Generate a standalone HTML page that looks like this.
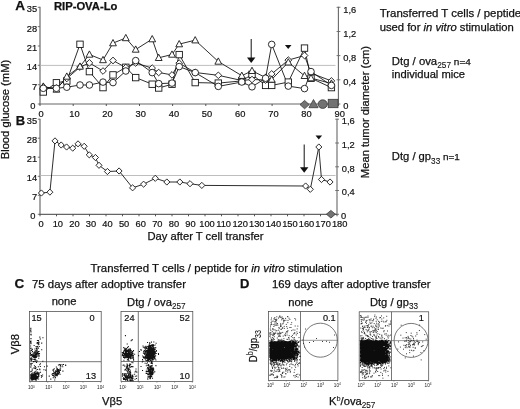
<!DOCTYPE html>
<html><head><meta charset="utf-8"><title>Figure</title>
<style>html,body{margin:0;padding:0;background:#fff}svg{display:block}</style></head>
<body><svg width="520" height="409" viewBox="0 0 520 409">
<rect width="520" height="409" fill="#fff"/>
<path d="M40.0 6.8V104.0" fill="none" stroke="#777" stroke-width="1.3"/>
<path d="M37.8 104.0H40.0" stroke="#666" stroke-width="0.9"/>
<path d="M37.8 84.7H40.0" stroke="#666" stroke-width="0.9"/>
<path d="M37.8 65.3H40.0" stroke="#666" stroke-width="0.9"/>
<path d="M37.8 46.0H40.0" stroke="#666" stroke-width="0.9"/>
<path d="M37.8 26.6H40.0" stroke="#666" stroke-width="0.9"/>
<path d="M37.8 7.3H40.0" stroke="#666" stroke-width="0.9"/>
<path d="M39.4 104.0H338.4" fill="none" stroke="#666" stroke-width="1.2"/>
<path d="M338.4 6.8V104.0" fill="none" stroke="#676767" stroke-width="1.1"/>
<path d="M336.59999999999997 104.0h3.8" stroke="#676767" stroke-width="0.9"/>
<path d="M336.59999999999997 79.8h3.8" stroke="#676767" stroke-width="0.9"/>
<path d="M336.59999999999997 55.6h3.8" stroke="#676767" stroke-width="0.9"/>
<path d="M336.59999999999997 31.5h3.8" stroke="#676767" stroke-width="0.9"/>
<path d="M336.59999999999997 7.3h3.8" stroke="#676767" stroke-width="0.9"/>
<path d="M40.0 104.0v2" stroke="#444" stroke-width="0.9"/>
<path d="M73.2 104.0v2" stroke="#444" stroke-width="0.9"/>
<path d="M106.3 104.0v2" stroke="#444" stroke-width="0.9"/>
<path d="M139.5 104.0v2" stroke="#444" stroke-width="0.9"/>
<path d="M172.6 104.0v2" stroke="#444" stroke-width="0.9"/>
<path d="M205.8 104.0v2" stroke="#444" stroke-width="0.9"/>
<path d="M238.9 104.0v2" stroke="#444" stroke-width="0.9"/>
<path d="M272.1 104.0v2" stroke="#444" stroke-width="0.9"/>
<path d="M305.2 104.0v2" stroke="#444" stroke-width="0.9"/>
<path d="M338.4 104.0v2" stroke="#444" stroke-width="0.9"/>
<path d="M40.0 118.7V214.3" fill="none" stroke="#777" stroke-width="1.3"/>
<path d="M37.8 214.3H40.0" stroke="#666" stroke-width="0.9"/>
<path d="M37.8 195.3H40.0" stroke="#666" stroke-width="0.9"/>
<path d="M37.8 176.3H40.0" stroke="#666" stroke-width="0.9"/>
<path d="M37.8 157.2H40.0" stroke="#666" stroke-width="0.9"/>
<path d="M37.8 138.2H40.0" stroke="#666" stroke-width="0.9"/>
<path d="M37.8 119.2H40.0" stroke="#666" stroke-width="0.9"/>
<path d="M39.4 214.3H337.0" fill="none" stroke="#666" stroke-width="1.2"/>
<path d="M337.0 118.7V214.3" fill="none" stroke="#676767" stroke-width="1.1"/>
<path d="M335.2 214.3h3.8" stroke="#676767" stroke-width="0.9"/>
<path d="M335.2 190.5h3.8" stroke="#676767" stroke-width="0.9"/>
<path d="M335.2 166.8h3.8" stroke="#676767" stroke-width="0.9"/>
<path d="M335.2 143.0h3.8" stroke="#676767" stroke-width="0.9"/>
<path d="M335.2 119.2h3.8" stroke="#676767" stroke-width="0.9"/>
<path d="M40.0 214.3v2" stroke="#444" stroke-width="0.9"/>
<path d="M56.5 214.3v2" stroke="#444" stroke-width="0.9"/>
<path d="M73.0 214.3v2" stroke="#444" stroke-width="0.9"/>
<path d="M89.5 214.3v2" stroke="#444" stroke-width="0.9"/>
<path d="M106.0 214.3v2" stroke="#444" stroke-width="0.9"/>
<path d="M122.5 214.3v2" stroke="#444" stroke-width="0.9"/>
<path d="M139.0 214.3v2" stroke="#444" stroke-width="0.9"/>
<path d="M155.5 214.3v2" stroke="#444" stroke-width="0.9"/>
<path d="M172.0 214.3v2" stroke="#444" stroke-width="0.9"/>
<path d="M188.5 214.3v2" stroke="#444" stroke-width="0.9"/>
<path d="M205.0 214.3v2" stroke="#444" stroke-width="0.9"/>
<path d="M221.5 214.3v2" stroke="#444" stroke-width="0.9"/>
<path d="M238.0 214.3v2" stroke="#444" stroke-width="0.9"/>
<path d="M254.5 214.3v2" stroke="#444" stroke-width="0.9"/>
<path d="M271.0 214.3v2" stroke="#444" stroke-width="0.9"/>
<path d="M287.5 214.3v2" stroke="#444" stroke-width="0.9"/>
<path d="M304.0 214.3v2" stroke="#444" stroke-width="0.9"/>
<path d="M320.5 214.3v2" stroke="#444" stroke-width="0.9"/>
<path d="M337.0 214.3v2" stroke="#444" stroke-width="0.9"/>
<path d="M40.0 65.4H335.5" stroke="#b2b2b2" stroke-width="0.85"/>
<path d="M40.0 175.5H335.5" stroke="#b2b2b2" stroke-width="0.85"/>
<text x="35.4" y="109.1" text-anchor="end" font-family="Liberation Sans, Arial, sans-serif" font-size="9.3" fill="#111" stroke="#111" stroke-width="0.2">0</text>
<text x="35.4" y="219.2" text-anchor="end" font-family="Liberation Sans, Arial, sans-serif" font-size="9.3" fill="#111" stroke="#111" stroke-width="0.2">0</text>
<text x="37.1" y="89.8" text-anchor="end" font-family="Liberation Sans, Arial, sans-serif" font-size="9.3" fill="#111" stroke="#111" stroke-width="0.2">7</text>
<text x="37.1" y="200.2" text-anchor="end" font-family="Liberation Sans, Arial, sans-serif" font-size="9.3" fill="#111" stroke="#111" stroke-width="0.2">7</text>
<text x="37.1" y="70.4" text-anchor="end" font-family="Liberation Sans, Arial, sans-serif" font-size="9.3" fill="#111" stroke="#111" stroke-width="0.2">14</text>
<text x="37.1" y="181.2" text-anchor="end" font-family="Liberation Sans, Arial, sans-serif" font-size="9.3" fill="#111" stroke="#111" stroke-width="0.2">14</text>
<text x="37.1" y="51.1" text-anchor="end" font-family="Liberation Sans, Arial, sans-serif" font-size="9.3" fill="#111" stroke="#111" stroke-width="0.2">21</text>
<text x="37.1" y="162.1" text-anchor="end" font-family="Liberation Sans, Arial, sans-serif" font-size="9.3" fill="#111" stroke="#111" stroke-width="0.2">21</text>
<text x="37.1" y="31.7" text-anchor="end" font-family="Liberation Sans, Arial, sans-serif" font-size="9.3" fill="#111" stroke="#111" stroke-width="0.2">28</text>
<text x="37.1" y="143.1" text-anchor="end" font-family="Liberation Sans, Arial, sans-serif" font-size="9.3" fill="#111" stroke="#111" stroke-width="0.2">28</text>
<text x="37.1" y="12.4" text-anchor="end" font-family="Liberation Sans, Arial, sans-serif" font-size="9.3" fill="#111" stroke="#111" stroke-width="0.2">35</text>
<text x="37.1" y="124.1" text-anchor="end" font-family="Liberation Sans, Arial, sans-serif" font-size="9.3" fill="#111" stroke="#111" stroke-width="0.2">35</text>
<text x="343.3" y="109.2" font-family="Liberation Sans, Arial, sans-serif" font-size="9.3" fill="#111" stroke="#111" stroke-width="0.2">0</text>
<text x="341.0" y="219.1" font-family="Liberation Sans, Arial, sans-serif" font-size="9.3" fill="#111" stroke="#111" stroke-width="0.2">0</text>
<text x="343.3" y="85.0" font-family="Liberation Sans, Arial, sans-serif" font-size="9.3" fill="#111" stroke="#111" stroke-width="0.2">0,4</text>
<text x="341.8" y="195.3" font-family="Liberation Sans, Arial, sans-serif" font-size="9.3" fill="#111" stroke="#111" stroke-width="0.2">0,4</text>
<text x="343.3" y="60.9" font-family="Liberation Sans, Arial, sans-serif" font-size="9.3" fill="#111" stroke="#111" stroke-width="0.2">0,8</text>
<text x="341.8" y="171.6" font-family="Liberation Sans, Arial, sans-serif" font-size="9.3" fill="#111" stroke="#111" stroke-width="0.2">0,8</text>
<text x="343.3" y="36.7" font-family="Liberation Sans, Arial, sans-serif" font-size="9.3" fill="#111" stroke="#111" stroke-width="0.2">1,2</text>
<text x="341.8" y="147.8" font-family="Liberation Sans, Arial, sans-serif" font-size="9.3" fill="#111" stroke="#111" stroke-width="0.2">1,2</text>
<text x="343.3" y="12.5" font-family="Liberation Sans, Arial, sans-serif" font-size="9.3" fill="#111" stroke="#111" stroke-width="0.2">1,6</text>
<text x="341.8" y="124.0" font-family="Liberation Sans, Arial, sans-serif" font-size="9.3" fill="#111" stroke="#111" stroke-width="0.2">1,6</text>
<text x="41.2" y="116.5" text-anchor="middle" font-family="Liberation Sans, Arial, sans-serif" font-size="9.3" fill="#111" stroke="#111" stroke-width="0.2">0</text>
<text x="74.4" y="116.5" text-anchor="middle" font-family="Liberation Sans, Arial, sans-serif" font-size="9.3" fill="#111" stroke="#111" stroke-width="0.2">10</text>
<text x="107.5" y="116.5" text-anchor="middle" font-family="Liberation Sans, Arial, sans-serif" font-size="9.3" fill="#111" stroke="#111" stroke-width="0.2">20</text>
<text x="140.7" y="116.5" text-anchor="middle" font-family="Liberation Sans, Arial, sans-serif" font-size="9.3" fill="#111" stroke="#111" stroke-width="0.2">30</text>
<text x="173.9" y="116.5" text-anchor="middle" font-family="Liberation Sans, Arial, sans-serif" font-size="9.3" fill="#111" stroke="#111" stroke-width="0.2">40</text>
<text x="207.0" y="116.5" text-anchor="middle" font-family="Liberation Sans, Arial, sans-serif" font-size="9.3" fill="#111" stroke="#111" stroke-width="0.2">50</text>
<text x="240.2" y="116.5" text-anchor="middle" font-family="Liberation Sans, Arial, sans-serif" font-size="9.3" fill="#111" stroke="#111" stroke-width="0.2">60</text>
<text x="273.4" y="116.5" text-anchor="middle" font-family="Liberation Sans, Arial, sans-serif" font-size="9.3" fill="#111" stroke="#111" stroke-width="0.2">70</text>
<text x="306.5" y="116.5" text-anchor="middle" font-family="Liberation Sans, Arial, sans-serif" font-size="9.3" fill="#111" stroke="#111" stroke-width="0.2">80</text>
<text x="339.7" y="116.5" text-anchor="middle" font-family="Liberation Sans, Arial, sans-serif" font-size="9.3" fill="#111" stroke="#111" stroke-width="0.2">90</text>
<text x="41.2" y="227.3" text-anchor="middle" font-family="Liberation Sans, Arial, sans-serif" font-size="9.3" fill="#111" stroke="#111" stroke-width="0.2">0</text>
<text x="57.8" y="227.3" text-anchor="middle" font-family="Liberation Sans, Arial, sans-serif" font-size="9.3" fill="#111" stroke="#111" stroke-width="0.2">10</text>
<text x="74.4" y="227.3" text-anchor="middle" font-family="Liberation Sans, Arial, sans-serif" font-size="9.3" fill="#111" stroke="#111" stroke-width="0.2">20</text>
<text x="91.0" y="227.3" text-anchor="middle" font-family="Liberation Sans, Arial, sans-serif" font-size="9.3" fill="#111" stroke="#111" stroke-width="0.2">30</text>
<text x="107.5" y="227.3" text-anchor="middle" font-family="Liberation Sans, Arial, sans-serif" font-size="9.3" fill="#111" stroke="#111" stroke-width="0.2">40</text>
<text x="124.1" y="227.3" text-anchor="middle" font-family="Liberation Sans, Arial, sans-serif" font-size="9.3" fill="#111" stroke="#111" stroke-width="0.2">50</text>
<text x="140.7" y="227.3" text-anchor="middle" font-family="Liberation Sans, Arial, sans-serif" font-size="9.3" fill="#111" stroke="#111" stroke-width="0.2">60</text>
<text x="157.3" y="227.3" text-anchor="middle" font-family="Liberation Sans, Arial, sans-serif" font-size="9.3" fill="#111" stroke="#111" stroke-width="0.2">70</text>
<text x="173.9" y="227.3" text-anchor="middle" font-family="Liberation Sans, Arial, sans-serif" font-size="9.3" fill="#111" stroke="#111" stroke-width="0.2">80</text>
<text x="190.4" y="227.3" text-anchor="middle" font-family="Liberation Sans, Arial, sans-serif" font-size="9.3" fill="#111" stroke="#111" stroke-width="0.2">90</text>
<text x="207.0" y="227.3" text-anchor="middle" font-family="Liberation Sans, Arial, sans-serif" font-size="9.3" fill="#111" stroke="#111" stroke-width="0.2">100</text>
<text x="223.6" y="227.3" text-anchor="middle" font-family="Liberation Sans, Arial, sans-serif" font-size="9.3" fill="#111" stroke="#111" stroke-width="0.2">110</text>
<text x="240.2" y="227.3" text-anchor="middle" font-family="Liberation Sans, Arial, sans-serif" font-size="9.3" fill="#111" stroke="#111" stroke-width="0.2">120</text>
<text x="256.8" y="227.3" text-anchor="middle" font-family="Liberation Sans, Arial, sans-serif" font-size="9.3" fill="#111" stroke="#111" stroke-width="0.2">130</text>
<text x="273.4" y="227.3" text-anchor="middle" font-family="Liberation Sans, Arial, sans-serif" font-size="9.3" fill="#111" stroke="#111" stroke-width="0.2">140</text>
<text x="289.9" y="227.3" text-anchor="middle" font-family="Liberation Sans, Arial, sans-serif" font-size="9.3" fill="#111" stroke="#111" stroke-width="0.2">150</text>
<text x="306.5" y="227.3" text-anchor="middle" font-family="Liberation Sans, Arial, sans-serif" font-size="9.3" fill="#111" stroke="#111" stroke-width="0.2">160</text>
<text x="323.1" y="227.3" text-anchor="middle" font-family="Liberation Sans, Arial, sans-serif" font-size="9.3" fill="#111" stroke="#111" stroke-width="0.2">170</text>
<text x="339.7" y="227.3" text-anchor="middle" font-family="Liberation Sans, Arial, sans-serif" font-size="9.3" fill="#111" stroke="#111" stroke-width="0.2">180</text>
<path d="M43.3 92.0 L56.4 82.8 L66.8 81.0 L80.0 44.3 L89.4 71.6 L103.0 87.6 L113.0 74.9 L125.8 67.3 L135.7 77.6 L152.2 84.2 L158.7 88.0 L172.0 84.2 L179.2 54.6 L195.2 82.6 L218.3 83.1 L241.8 80.9 L252.0 74.4 L265.6 85.4 L271.7 85.4 L288.3 82.1 L304.5 48.1 L311.0 78.2 L331.4 87.6" fill="none" stroke="#161616" stroke-width="0.9"/>
<path d="M43.3 86.5 L56.4 89.5 L66.8 76.5 L80.0 66.5 L89.4 54.5 L103.0 60.0 L113.0 43.1 L125.8 38.0 L135.7 49.5 L152.2 39.1 L158.7 57.8 L172.0 54.5 L179.2 44.1 L195.2 40.2 L218.3 61.5 L241.8 75.7 L252.0 70.8 L265.6 77.5 L271.7 79.5 L288.3 62.3 L304.5 75.8 L311.0 78.1 L331.4 83.5" fill="none" stroke="#161616" stroke-width="0.9"/>
<path d="M43.3 87.0 L56.4 88.2 L66.8 78.5 L80.0 67.1 L89.4 62.9 L103.0 71.0 L113.0 60.5 L125.8 67.5 L135.7 63.0 L152.2 68.1 L158.7 72.5 L172.0 74.9 L179.2 63.2 L195.2 72.5 L218.3 75.3 L241.8 80.5 L252.0 79.5 L265.6 80.0 L271.7 73.9 L288.3 60.1 L304.5 55.5 L311.0 73.2 L331.4 80.9" fill="none" stroke="#161616" stroke-width="0.9"/>
<path d="M43.3 88.3 L56.4 88.3 L66.8 87.2 L80.0 85.0 L89.4 85.0 L103.0 82.1 L113.0 82.6 L125.8 71.0 L135.7 60.6 L152.2 72.6 L158.7 83.6 L172.0 83.1 L179.2 66.6 L195.2 72.6 L218.3 86.4 L241.8 82.0 L252.0 86.8 L265.6 78.2 L271.7 44.4 L288.3 86.1 L304.5 88.6 L311.0 71.6 L331.4 85.4" fill="none" stroke="#161616" stroke-width="0.9"/>
<rect x="40.1" y="88.8" width="6.4" height="6.4" fill="#fff" stroke="#161616" stroke-width="0.9"/><rect x="53.2" y="79.6" width="6.4" height="6.4" fill="#fff" stroke="#161616" stroke-width="0.9"/><rect x="63.6" y="77.8" width="6.4" height="6.4" fill="#fff" stroke="#161616" stroke-width="0.9"/><rect x="76.8" y="41.1" width="6.4" height="6.4" fill="#fff" stroke="#161616" stroke-width="0.9"/><rect x="86.2" y="68.4" width="6.4" height="6.4" fill="#fff" stroke="#161616" stroke-width="0.9"/><rect x="99.8" y="84.4" width="6.4" height="6.4" fill="#fff" stroke="#161616" stroke-width="0.9"/><rect x="109.8" y="71.7" width="6.4" height="6.4" fill="#fff" stroke="#161616" stroke-width="0.9"/><rect x="122.6" y="64.1" width="6.4" height="6.4" fill="#fff" stroke="#161616" stroke-width="0.9"/><rect x="132.5" y="74.4" width="6.4" height="6.4" fill="#fff" stroke="#161616" stroke-width="0.9"/><rect x="149.0" y="81.0" width="6.4" height="6.4" fill="#fff" stroke="#161616" stroke-width="0.9"/><rect x="155.5" y="84.8" width="6.4" height="6.4" fill="#fff" stroke="#161616" stroke-width="0.9"/><rect x="168.8" y="81.0" width="6.4" height="6.4" fill="#fff" stroke="#161616" stroke-width="0.9"/><rect x="176.0" y="51.4" width="6.4" height="6.4" fill="#fff" stroke="#161616" stroke-width="0.9"/><rect x="192.0" y="79.4" width="6.4" height="6.4" fill="#fff" stroke="#161616" stroke-width="0.9"/><rect x="215.1" y="79.9" width="6.4" height="6.4" fill="#fff" stroke="#161616" stroke-width="0.9"/><rect x="238.6" y="77.7" width="6.4" height="6.4" fill="#fff" stroke="#161616" stroke-width="0.9"/><rect x="248.8" y="71.2" width="6.4" height="6.4" fill="#fff" stroke="#161616" stroke-width="0.9"/><rect x="262.4" y="82.2" width="6.4" height="6.4" fill="#fff" stroke="#161616" stroke-width="0.9"/><rect x="268.5" y="82.2" width="6.4" height="6.4" fill="#fff" stroke="#161616" stroke-width="0.9"/><rect x="285.1" y="78.9" width="6.4" height="6.4" fill="#fff" stroke="#161616" stroke-width="0.9"/><rect x="301.3" y="44.9" width="6.4" height="6.4" fill="#fff" stroke="#161616" stroke-width="0.9"/><rect x="307.8" y="75.0" width="6.4" height="6.4" fill="#fff" stroke="#161616" stroke-width="0.9"/><rect x="328.2" y="84.4" width="6.4" height="6.4" fill="#fff" stroke="#161616" stroke-width="0.9"/>
<path d="M43.3 83.7L46.6 87.0L43.3 90.3L39.9 87.0Z" fill="#fff" stroke="#161616" stroke-width="0.9"/><path d="M56.4 84.9L59.8 88.2L56.4 91.5L53.0 88.2Z" fill="#fff" stroke="#161616" stroke-width="0.9"/><path d="M66.8 75.2L70.1 78.5L66.8 81.8L63.4 78.5Z" fill="#fff" stroke="#161616" stroke-width="0.9"/><path d="M80.0 63.7L83.3 67.1L80.0 70.4L76.7 67.1Z" fill="#fff" stroke="#161616" stroke-width="0.9"/><path d="M89.4 59.5L92.8 62.9L89.4 66.2L86.1 62.9Z" fill="#fff" stroke="#161616" stroke-width="0.9"/><path d="M103.0 67.7L106.3 71.0L103.0 74.3L99.7 71.0Z" fill="#fff" stroke="#161616" stroke-width="0.9"/><path d="M113.0 57.1L116.3 60.5L113.0 63.9L109.7 60.5Z" fill="#fff" stroke="#161616" stroke-width="0.9"/><path d="M125.8 64.2L129.2 67.5L125.8 70.8L122.5 67.5Z" fill="#fff" stroke="#161616" stroke-width="0.9"/><path d="M135.7 59.6L139.0 63.0L135.7 66.3L132.3 63.0Z" fill="#fff" stroke="#161616" stroke-width="0.9"/><path d="M152.2 64.8L155.5 68.1L152.2 71.4L148.8 68.1Z" fill="#fff" stroke="#161616" stroke-width="0.9"/><path d="M158.7 69.2L162.0 72.5L158.7 75.8L155.3 72.5Z" fill="#fff" stroke="#161616" stroke-width="0.9"/><path d="M172.0 71.6L175.3 74.9L172.0 78.2L168.7 74.9Z" fill="#fff" stroke="#161616" stroke-width="0.9"/><path d="M179.2 59.9L182.5 63.2L179.2 66.5L175.8 63.2Z" fill="#fff" stroke="#161616" stroke-width="0.9"/><path d="M195.2 69.2L198.5 72.5L195.2 75.8L191.8 72.5Z" fill="#fff" stroke="#161616" stroke-width="0.9"/><path d="M218.3 72.0L221.7 75.3L218.3 78.6L215.0 75.3Z" fill="#fff" stroke="#161616" stroke-width="0.9"/><path d="M241.8 77.2L245.2 80.5L241.8 83.8L238.5 80.5Z" fill="#fff" stroke="#161616" stroke-width="0.9"/><path d="M252.0 76.2L255.3 79.5L252.0 82.8L248.7 79.5Z" fill="#fff" stroke="#161616" stroke-width="0.9"/><path d="M265.6 76.7L269.0 80.0L265.6 83.3L262.2 80.0Z" fill="#fff" stroke="#161616" stroke-width="0.9"/><path d="M271.7 70.6L275.1 73.9L271.7 77.2L268.3 73.9Z" fill="#fff" stroke="#161616" stroke-width="0.9"/><path d="M288.3 56.8L291.7 60.1L288.3 63.5L284.9 60.1Z" fill="#fff" stroke="#161616" stroke-width="0.9"/><path d="M304.5 52.1L307.9 55.5L304.5 58.9L301.1 55.5Z" fill="#fff" stroke="#161616" stroke-width="0.9"/><path d="M311.0 69.9L314.4 73.2L311.0 76.5L307.6 73.2Z" fill="#fff" stroke="#161616" stroke-width="0.9"/><path d="M331.4 77.6L334.8 80.9L331.4 84.2L328.0 80.9Z" fill="#fff" stroke="#161616" stroke-width="0.9"/>
<path d="M43.3 82.9L46.7 89.2H39.9Z" fill="#fff" stroke="#161616" stroke-width="0.9"/><path d="M56.4 85.9L59.8 92.2H53.0Z" fill="#fff" stroke="#161616" stroke-width="0.9"/><path d="M66.8 72.9L70.2 79.2H63.4Z" fill="#fff" stroke="#161616" stroke-width="0.9"/><path d="M80.0 62.9L83.4 69.2H76.6Z" fill="#fff" stroke="#161616" stroke-width="0.9"/><path d="M89.4 50.9L92.8 57.2H86.0Z" fill="#fff" stroke="#161616" stroke-width="0.9"/><path d="M103.0 56.4L106.4 62.7H99.6Z" fill="#fff" stroke="#161616" stroke-width="0.9"/><path d="M113.0 39.5L116.4 45.8H109.6Z" fill="#fff" stroke="#161616" stroke-width="0.9"/><path d="M125.8 34.4L129.2 40.7H122.4Z" fill="#fff" stroke="#161616" stroke-width="0.9"/><path d="M135.7 45.9L139.1 52.2H132.3Z" fill="#fff" stroke="#161616" stroke-width="0.9"/><path d="M152.2 35.5L155.6 41.8H148.8Z" fill="#fff" stroke="#161616" stroke-width="0.9"/><path d="M158.7 54.2L162.1 60.5H155.3Z" fill="#fff" stroke="#161616" stroke-width="0.9"/><path d="M172.0 50.9L175.4 57.2H168.6Z" fill="#fff" stroke="#161616" stroke-width="0.9"/><path d="M179.2 40.5L182.6 46.8H175.8Z" fill="#fff" stroke="#161616" stroke-width="0.9"/><path d="M195.2 36.6L198.6 42.9H191.8Z" fill="#fff" stroke="#161616" stroke-width="0.9"/><path d="M218.3 57.9L221.7 64.2H214.9Z" fill="#fff" stroke="#161616" stroke-width="0.9"/><path d="M241.8 72.1L245.2 78.4H238.4Z" fill="#fff" stroke="#161616" stroke-width="0.9"/><path d="M252.0 67.2L255.4 73.5H248.6Z" fill="#fff" stroke="#161616" stroke-width="0.9"/><path d="M265.6 73.9L269.0 80.2H262.2Z" fill="#fff" stroke="#161616" stroke-width="0.9"/><path d="M271.7 75.9L275.1 82.2H268.3Z" fill="#fff" stroke="#161616" stroke-width="0.9"/><path d="M288.3 58.7L291.7 65.0H284.9Z" fill="#fff" stroke="#161616" stroke-width="0.9"/><path d="M304.5 72.2L307.9 78.5H301.1Z" fill="#fff" stroke="#161616" stroke-width="0.9"/><path d="M311.0 74.5L314.4 80.8H307.6Z" fill="#fff" stroke="#161616" stroke-width="0.9"/><path d="M331.4 79.9L334.8 86.2H328.0Z" fill="#fff" stroke="#161616" stroke-width="0.9"/>
<circle cx="43.3" cy="88.3" r="3.3" fill="#fff" stroke="#161616" stroke-width="0.9"/><circle cx="56.4" cy="88.3" r="3.3" fill="#fff" stroke="#161616" stroke-width="0.9"/><circle cx="66.8" cy="87.2" r="3.3" fill="#fff" stroke="#161616" stroke-width="0.9"/><circle cx="80.0" cy="85.0" r="3.3" fill="#fff" stroke="#161616" stroke-width="0.9"/><circle cx="89.4" cy="85.0" r="3.3" fill="#fff" stroke="#161616" stroke-width="0.9"/><circle cx="103.0" cy="82.1" r="3.3" fill="#fff" stroke="#161616" stroke-width="0.9"/><circle cx="113.0" cy="82.6" r="3.3" fill="#fff" stroke="#161616" stroke-width="0.9"/><circle cx="125.8" cy="71.0" r="3.3" fill="#fff" stroke="#161616" stroke-width="0.9"/><circle cx="135.7" cy="60.6" r="3.3" fill="#fff" stroke="#161616" stroke-width="0.9"/><circle cx="152.2" cy="72.6" r="3.3" fill="#fff" stroke="#161616" stroke-width="0.9"/><circle cx="158.7" cy="83.6" r="3.3" fill="#fff" stroke="#161616" stroke-width="0.9"/><circle cx="172.0" cy="83.1" r="3.3" fill="#fff" stroke="#161616" stroke-width="0.9"/><circle cx="179.2" cy="66.6" r="3.3" fill="#fff" stroke="#161616" stroke-width="0.9"/><circle cx="195.2" cy="72.6" r="3.3" fill="#fff" stroke="#161616" stroke-width="0.9"/><circle cx="218.3" cy="86.4" r="3.3" fill="#fff" stroke="#161616" stroke-width="0.9"/><circle cx="241.8" cy="82.0" r="3.3" fill="#fff" stroke="#161616" stroke-width="0.9"/><circle cx="252.0" cy="86.8" r="3.3" fill="#fff" stroke="#161616" stroke-width="0.9"/><circle cx="265.6" cy="78.2" r="3.3" fill="#fff" stroke="#161616" stroke-width="0.9"/><circle cx="271.7" cy="44.4" r="3.3" fill="#fff" stroke="#161616" stroke-width="0.9"/><circle cx="288.3" cy="86.1" r="3.3" fill="#fff" stroke="#161616" stroke-width="0.9"/><circle cx="304.5" cy="88.6" r="3.3" fill="#fff" stroke="#161616" stroke-width="0.9"/><circle cx="311.0" cy="71.6" r="3.3" fill="#fff" stroke="#161616" stroke-width="0.9"/><circle cx="331.4" cy="85.4" r="3.3" fill="#fff" stroke="#161616" stroke-width="0.9"/>
<path d="M304.6 100.4L309.2 104.6L304.6 108.8L300 104.6Z" fill="#727272" stroke="#3a3a3a" stroke-width="0.8"/>
<path d="M313.5 99.5L318.1 107.7H308.9Z" fill="#727272" stroke="#3a3a3a" stroke-width="0.8"/>
<ellipse cx="322.7" cy="104.1" rx="4.6" ry="4.3" fill="#727272" stroke="#3a3a3a" stroke-width="0.8"/>
<rect x="328.2" y="99.3" width="9.8" height="8.4" fill="#727272" stroke="#3a3a3a" stroke-width="0.8"/>
<path d="M251.2 39V58.4" stroke="#111" stroke-width="1"/><path d="M247.0 57.4H255.39999999999998L251.2 63Z" fill="#111"/>
<path d="M304.2 144.5V168.20000000000002" stroke="#111" stroke-width="1"/><path d="M300.0 167.20000000000002H308.4L304.2 172.8Z" fill="#111"/>
<path d="M284.9 45.0H291.5L288.2 49.0Z" fill="#111"/>
<path d="M315.5 135.6H322.1L318.8 139.6Z" fill="#111"/>
<path d="M41.4 193.0 L49.9 192.2 L55.0 140.9 L61.2 145.0 L66.6 147.0 L72.7 148.2 L78.0 143.8 L84.2 146.3 L89.3 154.8 L95.4 157.5 L99.0 165.3 L107.4 171.5 L119.1 171.0 L132.6 187.8 L143.6 184.2 L155.3 178.3 L166.8 182.0 L179.8 182.0 L190.0 183.7 L201.8 185.4 L305.6 186.0 L310.3 189.3 L318.8 147.0 L321.5 179.5 L330.0 182.0" fill="none" stroke="#161616" stroke-width="0.9"/>
<path d="M41.4 189.9L44.4 193.0L41.4 196.1L38.4 193.0Z" fill="#fff" stroke="#161616" stroke-width="0.9"/><path d="M49.9 189.1L52.9 192.2L49.9 195.2L46.9 192.2Z" fill="#fff" stroke="#161616" stroke-width="0.9"/><path d="M55.0 137.8L58.0 140.9L55.0 144.0L52.0 140.9Z" fill="#fff" stroke="#161616" stroke-width="0.9"/><path d="M61.2 141.9L64.2 145.0L61.2 148.1L58.2 145.0Z" fill="#fff" stroke="#161616" stroke-width="0.9"/><path d="M66.6 143.9L69.6 147.0L66.6 150.1L63.5 147.0Z" fill="#fff" stroke="#161616" stroke-width="0.9"/><path d="M72.7 145.1L75.8 148.2L72.7 151.2L69.7 148.2Z" fill="#fff" stroke="#161616" stroke-width="0.9"/><path d="M78.0 140.8L81.0 143.8L78.0 146.9L75.0 143.8Z" fill="#fff" stroke="#161616" stroke-width="0.9"/><path d="M84.2 143.2L87.2 146.3L84.2 149.4L81.2 146.3Z" fill="#fff" stroke="#161616" stroke-width="0.9"/><path d="M89.3 151.8L92.3 154.8L89.3 157.9L86.2 154.8Z" fill="#fff" stroke="#161616" stroke-width="0.9"/><path d="M95.4 154.4L98.5 157.5L95.4 160.6L92.4 157.5Z" fill="#fff" stroke="#161616" stroke-width="0.9"/><path d="M99.0 162.2L102.0 165.3L99.0 168.4L96.0 165.3Z" fill="#fff" stroke="#161616" stroke-width="0.9"/><path d="M107.4 168.4L110.5 171.5L107.4 174.6L104.4 171.5Z" fill="#fff" stroke="#161616" stroke-width="0.9"/><path d="M119.1 167.9L122.1 171.0L119.1 174.1L116.0 171.0Z" fill="#fff" stroke="#161616" stroke-width="0.9"/><path d="M132.6 184.8L135.7 187.8L132.6 190.9L129.5 187.8Z" fill="#fff" stroke="#161616" stroke-width="0.9"/><path d="M143.6 181.1L146.7 184.2L143.6 187.2L140.5 184.2Z" fill="#fff" stroke="#161616" stroke-width="0.9"/><path d="M155.3 175.2L158.4 178.3L155.3 181.4L152.2 178.3Z" fill="#fff" stroke="#161616" stroke-width="0.9"/><path d="M166.8 178.9L169.9 182.0L166.8 185.1L163.8 182.0Z" fill="#fff" stroke="#161616" stroke-width="0.9"/><path d="M179.8 178.9L182.9 182.0L179.8 185.1L176.8 182.0Z" fill="#fff" stroke="#161616" stroke-width="0.9"/><path d="M190.0 180.6L193.1 183.7L190.0 186.8L186.9 183.7Z" fill="#fff" stroke="#161616" stroke-width="0.9"/><path d="M201.8 182.3L204.9 185.4L201.8 188.5L198.8 185.4Z" fill="#fff" stroke="#161616" stroke-width="0.9"/><path d="M305.6 182.9L308.7 186.0L305.6 189.1L302.6 186.0Z" fill="#fff" stroke="#161616" stroke-width="0.9"/><path d="M310.3 186.2L313.4 189.3L310.3 192.4L307.2 189.3Z" fill="#fff" stroke="#161616" stroke-width="0.9"/><path d="M318.8 143.9L321.9 147.0L318.8 150.1L315.8 147.0Z" fill="#fff" stroke="#161616" stroke-width="0.9"/><path d="M321.5 176.4L324.6 179.5L321.5 182.6L318.4 179.5Z" fill="#fff" stroke="#161616" stroke-width="0.9"/><path d="M330.0 178.9L333.1 182.0L330.0 185.1L326.9 182.0Z" fill="#fff" stroke="#161616" stroke-width="0.9"/>
<path d="M330.9 210.4L335.4 214.2L330.9 218L326.4 214.2Z" fill="#727272" stroke="#3a3a3a" stroke-width="0.8"/>
<text x="15.2" y="9.7" font-family="Liberation Sans, Arial, sans-serif" fill="#111" stroke="#111" stroke-width="0.25" font-size="13" font-weight="bold" textLength="9.8" lengthAdjust="spacingAndGlyphs">A</text>
<text x="53.9" y="9.9" font-family="Liberation Sans, Arial, sans-serif" fill="#111" stroke="#111" stroke-width="0.25" font-size="11" font-weight="bold" textLength="63.5" lengthAdjust="spacingAndGlyphs">RIP-OVA-Lo</text>
<text x="15.8" y="124.8" font-family="Liberation Sans, Arial, sans-serif" fill="#111" stroke="#111" stroke-width="0.25" font-size="13" font-weight="bold" textLength="9.4" lengthAdjust="spacingAndGlyphs">B</text>
<text transform="translate(9.3,159.3) rotate(-90)" font-family="Liberation Sans, Arial, sans-serif" fill="#111" stroke="#111" stroke-width="0.25" font-size="11.2" textLength="99.5" lengthAdjust="spacingAndGlyphs">Blood glucose (mM)</text>
<text transform="translate(368.8,178.2) rotate(-90)" font-family="Liberation Sans, Arial, sans-serif" fill="#111" stroke="#111" stroke-width="0.25" font-size="11.2" textLength="132.2" lengthAdjust="spacingAndGlyphs">Mean tumor diameter (cm)</text>
<text x="147.5" y="240.3" font-family="Liberation Sans, Arial, sans-serif" fill="#111" stroke="#111" stroke-width="0.25" font-size="11.2" textLength="116" lengthAdjust="spacingAndGlyphs">Day after T cell transfer</text>
<text x="379.7" y="17.3" font-family="Liberation Sans, Arial, sans-serif" fill="#111" stroke="#111" stroke-width="0.25" font-size="11.2" textLength="141.5" lengthAdjust="spacingAndGlyphs">Transferred T cells / peptide</text>
<text x="379.7" y="31.2" font-family="Liberation Sans, Arial, sans-serif" fill="#111" stroke="#111" stroke-width="0.25" font-size="11.2" textLength="134" lengthAdjust="spacingAndGlyphs">used for <tspan font-style="italic">in vitro</tspan> stimulation</text>
<text x="391.8" y="64.6" font-family="Liberation Sans, Arial, sans-serif" fill="#111" stroke="#111" stroke-width="0.25" font-size="11.2" textLength="79" lengthAdjust="spacingAndGlyphs">Dtg / ova<tspan stroke-width="0.1" font-size="8.2" dy="3.6">257</tspan><tspan dy="-3.6" font-size="9.9"> n=4</tspan></text>
<text x="391.8" y="78" font-family="Liberation Sans, Arial, sans-serif" fill="#111" stroke="#111" stroke-width="0.25" font-size="11.2" textLength="73.2" lengthAdjust="spacingAndGlyphs">individual mice</text>
<text x="391.8" y="160.4" font-family="Liberation Sans, Arial, sans-serif" fill="#111" stroke="#111" stroke-width="0.25" font-size="11.2" textLength="68" lengthAdjust="spacingAndGlyphs">Dtg / gp<tspan stroke-width="0.1" font-size="8.2" dy="3.6">33</tspan><tspan dy="-3.6" font-size="9.9"> n=1</tspan></text>
<text x="90.5" y="271.9" font-family="Liberation Sans, Arial, sans-serif" fill="#111" stroke="#111" stroke-width="0.25" font-size="11.2" textLength="252" lengthAdjust="spacingAndGlyphs">Transferred T cells / peptide for <tspan font-style="italic">in vitro</tspan> stimulation</text>
<text x="14.6" y="287.8" font-family="Liberation Sans, Arial, sans-serif" fill="#111" stroke="#111" stroke-width="0.25" font-size="13.5" font-weight="bold">C</text>
<text x="32" y="288.2" font-family="Liberation Sans, Arial, sans-serif" fill="#111" stroke="#111" stroke-width="0.25" font-size="11.2" textLength="154" lengthAdjust="spacingAndGlyphs">75 days after adoptive transfer</text>
<text x="240" y="288.2" font-family="Liberation Sans, Arial, sans-serif" fill="#111" stroke="#111" stroke-width="0.25" font-size="13" font-weight="bold">D</text>
<text x="272" y="288.2" font-family="Liberation Sans, Arial, sans-serif" fill="#111" stroke="#111" stroke-width="0.25" font-size="11.2" textLength="158.5" lengthAdjust="spacingAndGlyphs">169 days after adoptive transfer</text>
<text x="64.1" y="305.2" text-anchor="middle" font-family="Liberation Sans, Arial, sans-serif" fill="#111" stroke="#111" stroke-width="0.25" font-size="11.2">none</text>
<text x="127.1" y="305.5" font-family="Liberation Sans, Arial, sans-serif" fill="#111" stroke="#111" stroke-width="0.25" font-size="11.2" textLength="58.5" lengthAdjust="spacingAndGlyphs">Dtg / ova<tspan stroke-width="0.1" font-size="8.2" dy="3.6">257</tspan></text>
<text x="300.7" y="305.5" text-anchor="middle" font-family="Liberation Sans, Arial, sans-serif" fill="#111" stroke="#111" stroke-width="0.25" font-size="11.2">none</text>
<text x="370" y="305.5" font-family="Liberation Sans, Arial, sans-serif" fill="#111" stroke="#111" stroke-width="0.25" font-size="11.2" textLength="48" lengthAdjust="spacingAndGlyphs">Dtg / gp<tspan stroke-width="0.1" font-size="8.2" dy="3.6">33</tspan></text>
<text transform="translate(19.0,354.2) rotate(-90)" font-family="Liberation Sans, Arial, sans-serif" fill="#111" stroke="#111" stroke-width="0.25" font-size="11.2">Vβ8</text>
<text x="102" y="404.6" font-family="Liberation Sans, Arial, sans-serif" fill="#111" stroke="#111" stroke-width="0.25" font-size="11.2">Vβ5</text>
<text transform="translate(257.3,362.2) rotate(-90)" font-family="Liberation Sans, Arial, sans-serif" fill="#111" stroke="#111" stroke-width="0.25" font-size="11.2" textLength="32" lengthAdjust="spacingAndGlyphs">D<tspan stroke-width="0.1" font-size="8.2" dy="-4">b</tspan><tspan dy="4">/gp</tspan><tspan stroke-width="0.1" font-size="8.2" dy="3.6">33</tspan></text>
<text x="329" y="404.8" font-family="Liberation Sans, Arial, sans-serif" fill="#111" stroke="#111" stroke-width="0.25" font-size="11.2">K<tspan stroke-width="0.1" font-size="7.4" dy="-3.6">b</tspan><tspan dy="3.6">/ova</tspan><tspan stroke-width="0.1" font-size="8.2" dy="3.6">257</tspan></text>
<rect x="29.6" y="311.5" width="71.6" height="70.1" fill="none" stroke="#4a4a4a" stroke-width="0.75"/>
<path d="M46.5 311.5V381.6M29.6 361.7H101.2" fill="none" stroke="#4a4a4a" stroke-width="0.75"/>
<rect x="121.0" y="311.5" width="71.8" height="70.1" fill="none" stroke="#4a4a4a" stroke-width="0.75"/>
<path d="M138.3 311.5V381.6M121.0 361.5H192.8" fill="none" stroke="#4a4a4a" stroke-width="0.75"/>
<rect x="268.6" y="311.6" width="69.3" height="68.9" fill="none" stroke="#4a4a4a" stroke-width="0.75"/>
<path d="M300.5 311.6V380.5" fill="none" stroke="#4a4a4a" stroke-width="0.75"/>
<path d="M300.5 340.3H337.9" stroke="#555" stroke-width="0.6"/>
<circle cx="320.3" cy="340.2" r="17" fill="none" stroke="#555" stroke-width="0.8"/>
<rect x="359.2" y="311.8" width="69.5" height="68.7" fill="none" stroke="#4a4a4a" stroke-width="0.75"/>
<path d="M391.5 311.8V380.5" fill="none" stroke="#4a4a4a" stroke-width="0.75"/>
<path d="M359.2 340.6H428.7" stroke="#555" stroke-width="0.6"/>
<circle cx="411.1" cy="340.4" r="17" fill="none" stroke="#555" stroke-width="0.8"/>
<path d="M32.5 377.8h1.05M32.6 376.2h1.05M31.2 376.4h1.05M35.1 377.6h1.05M35.0 377.3h1.05M33.8 377.2h1.05M34.0 377.7h1.05M31.3 375.9h1.05M33.6 376.7h1.05M34.0 375.6h1.05M33.6 377.5h1.05M31.7 380.1h1.05M34.1 379.1h1.05M31.8 375.4h1.05M32.3 376.6h1.05M34.2 377.3h1.05M32.2 375.0h1.05M32.0 379.1h1.05M31.5 377.3h1.05M33.8 374.0h1.05M33.1 379.3h1.05M32.8 375.2h1.05M33.9 376.7h1.05M30.2 378.4h1.05M34.3 378.6h1.05M35.7 377.5h1.05M33.2 374.3h1.05M34.2 375.6h1.05M32.1 374.4h1.05M31.2 375.8h1.05M35.4 372.9h1.05M30.2 377.3h1.05M35.7 377.9h1.05M33.7 375.4h1.05M30.9 378.7h1.05M35.1 377.1h1.05M33.5 377.6h1.05M36.0 378.0h1.05M34.0 377.8h1.05M34.8 377.8h1.05M34.6 373.4h1.05M32.7 378.7h1.05M30.5 379.9h1.05M34.0 376.5h1.05M33.6 378.0h1.05M33.2 379.0h1.05M31.7 376.0h1.05M35.0 376.9h1.05M31.3 378.6h1.05M35.8 376.0h1.05M30.4 376.5h1.05M32.7 376.2h1.05M35.7 374.8h1.05M35.4 374.4h1.05M31.5 378.0h1.05M35.1 378.4h1.05M33.7 377.1h1.05M33.3 377.9h1.05M32.7 377.3h1.05M34.1 376.8h1.05M34.5 377.9h1.05M36.8 377.4h1.05M32.2 376.1h1.05M33.0 378.6h1.05M32.4 377.5h1.05M36.5 371.9h1.05M30.9 377.3h1.05M33.8 377.3h1.05M32.2 378.0h1.05M33.5 375.8h1.05M37.6 377.5h1.05M31.9 376.6h1.05M32.6 376.7h1.05M34.9 374.6h1.05M32.9 378.6h1.05M34.6 379.6h1.05M32.4 378.0h1.05M35.1 371.7h1.05M35.1 374.0h1.05M34.3 374.0h1.05M33.3 379.1h1.05M32.7 377.2h1.05M34.5 377.1h1.05M32.8 379.7h1.05M35.0 376.2h1.05M38.2 374.6h1.05M34.7 376.3h1.05M33.3 378.1h1.05M33.4 378.0h1.05M34.2 375.0h1.05M31.0 374.0h1.05M35.4 378.2h1.05M35.8 375.0h1.05M33.0 374.6h1.05M34.5 379.8h1.05M31.3 379.8h1.05M34.9 376.5h1.05M32.8 375.7h1.05M33.8 377.6h1.05M35.8 374.9h1.05M35.2 379.6h1.05M35.8 376.5h1.05M31.6 378.7h1.05M33.2 377.0h1.05M35.7 376.3h1.05M33.6 375.6h1.05M33.0 378.4h1.05M33.1 379.3h1.05M32.9 378.8h1.05M35.8 379.9h1.05M31.7 378.5h1.05M30.7 376.8h1.05M32.6 376.7h1.05M31.9 377.2h1.05M36.4 376.9h1.05M34.0 378.7h1.05M32.6 374.4h1.05M31.9 378.8h1.05M34.9 378.3h1.05M33.0 378.3h1.05M33.3 374.6h1.05M34.8 375.7h1.05M31.3 375.3h1.05M30.8 377.5h1.05M31.8 373.1h1.05M34.4 376.3h1.05M33.6 375.9h1.05M34.5 378.2h1.05M34.3 377.4h1.05M35.5 378.1h1.05M33.9 372.8h1.05M34.7 379.3h1.05M32.4 375.9h1.05M36.7 373.5h1.05M31.2 378.1h1.05M36.6 376.6h1.05M34.1 378.5h1.05M31.3 376.6h1.05M33.6 378.4h1.05M32.9 376.4h1.05M31.1 376.1h1.05M34.7 377.0h1.05M31.4 375.2h1.05M38.1 379.0h1.05M34.2 371.9h1.05M34.2 377.7h1.05M36.2 377.6h1.05M32.9 377.8h1.05M33.6 375.5h1.05M35.5 380.2h1.05M30.3 375.5h1.05M33.6 377.1h1.05M32.2 374.9h1.05M37.0 378.8h1.05M30.7 374.2h1.05M36.2 378.7h1.05M36.5 378.3h1.05M31.3 377.3h1.05M32.9 377.8h1.05M31.6 376.6h1.05M37.2 374.4h1.05M37.8 373.8h1.05M34.3 375.8h1.05M35.7 370.0h1.05M33.2 373.0h1.05M35.1 373.6h1.05M35.5 373.6h1.05M35.0 368.5h1.05M37.0 376.8h1.05M37.1 372.3h1.05M37.1 369.5h1.05M32.2 375.7h1.05M31.6 363.5h1.05M31.8 378.7h1.05M34.1 368.1h1.05M32.8 374.9h1.05M37.3 373.6h1.05M40.8 375.5h1.05M35.4 375.1h1.05M41.5 376.5h1.05M39.2 369.1h1.05M35.0 375.6h1.05M34.4 376.8h1.05M37.6 376.3h1.05M40.0 372.2h1.05M34.3 376.1h1.05M39.0 373.0h1.05M31.3 373.7h1.05M36.8 377.1h1.05M38.3 373.1h1.05M38.6 374.9h1.05M36.2 373.2h1.05M34.6 375.5h1.05M31.7 370.7h1.05M35.5 367.7h1.05M33.9 365.8h1.05M33.0 375.0h1.05M37.5 372.8h1.05M34.7 367.9h1.05M42.1 374.9h1.05M39.4 369.8h1.05M34.8 366.4h1.05M38.3 376.4h1.05M37.8 366.7h1.05M33.2 367.9h1.05M35.6 373.9h1.05M37.8 375.5h1.05M40.9 377.2h1.05M30.8 371.2h1.05M31.7 369.1h1.05M30.3 328.2h1.05M30.5 366.9h1.05M30.3 355.8h1.05M30.4 331.4h1.05M30.4 341.1h1.05M30.0 341.8h1.05M30.4 338.7h1.05M30.4 378.7h1.05M30.3 347.9h1.05M30.3 363.6h1.05M30.5 360.1h1.05M30.4 332.0h1.05M30.1 341.2h1.05M30.4 343.8h1.05M30.3 328.6h1.05M30.0 342.0h1.05M30.4 364.0h1.05M30.4 343.1h1.05M30.3 352.2h1.05M30.3 334.2h1.05M30.5 338.4h1.05M30.6 376.7h1.05M30.0 351.9h1.05M30.5 378.3h1.05M30.3 342.0h1.05M30.1 377.2h1.05M30.1 358.2h1.05M30.1 355.3h1.05M30.6 334.9h1.05M30.5 354.5h1.05M30.5 364.6h1.05M30.1 374.7h1.05M30.3 329.3h1.05M30.0 353.6h1.05M30.3 343.7h1.05M30.1 345.9h1.05M30.2 371.7h1.05M30.0 367.0h1.05M30.5 334.2h1.05M30.6 365.1h1.05M30.5 343.1h1.05M30.2 348.4h1.05M30.6 358.6h1.05M30.2 350.3h1.05M30.2 330.5h1.05M38.2 358.2h1.05M33.3 361.4h1.05M34.5 357.2h1.05M32.9 354.9h1.05M30.3 360.0h1.05M37.8 351.6h1.05M30.9 350.5h1.05M37.3 353.7h1.05M34.4 354.1h1.05M34.2 352.0h1.05M34.6 351.0h1.05M34.3 355.9h1.05M35.6 354.4h1.05M32.3 355.4h1.05M33.3 359.4h1.05M36.3 354.7h1.05M33.4 353.0h1.05M32.3 354.0h1.05M35.2 356.4h1.05M35.9 360.9h1.05M32.8 355.0h1.05M41.2 349.8h1.05M33.2 355.5h1.05M34.9 356.1h1.05M33.9 356.0h1.05M34.6 357.2h1.05M34.5 352.1h1.05M32.0 356.8h1.05M32.9 356.8h1.05M36.3 355.9h1.05M35.7 354.7h1.05M31.1 354.9h1.05M35.6 353.5h1.05M34.3 357.1h1.05M32.4 356.8h1.05M39.0 353.4h1.05M34.9 354.6h1.05M38.2 355.9h1.05M36.7 353.1h1.05M34.5 355.0h1.05M30.2 359.0h1.05M36.7 350.1h1.05M36.3 354.6h1.05M35.6 356.0h1.05M30.9 354.4h1.05M38.1 353.4h1.05M32.0 351.2h1.05M31.6 355.9h1.05M38.6 356.2h1.05M35.1 361.3h1.05M33.3 353.1h1.05M35.8 356.5h1.05M32.1 351.7h1.05M35.2 355.7h1.05M31.4 354.4h1.05M33.2 356.3h1.05M34.2 354.8h1.05M33.7 357.9h1.05M37.8 354.0h1.05M36.5 352.9h1.05M34.7 357.1h1.05M38.1 353.9h1.05M34.3 355.5h1.05M30.9 355.0h1.05M32.9 356.0h1.05M31.8 349.5h1.05M34.6 355.7h1.05M33.2 357.5h1.05M33.8 353.3h1.05M35.6 350.6h1.05M32.9 354.9h1.05M36.5 354.5h1.05M35.2 353.2h1.05M35.2 359.7h1.05M32.9 361.6h1.05M33.0 355.0h1.05M34.9 357.9h1.05M31.5 349.1h1.05M36.0 357.2h1.05M36.0 362.4h1.05M35.0 355.7h1.05M36.7 356.0h1.05M38.5 351.5h1.05M33.6 345.4h1.05M36.4 354.0h1.05M36.7 361.0h1.05M34.5 354.3h1.05M33.3 352.7h1.05M33.0 356.8h1.05M34.6 355.2h1.05M34.1 357.6h1.05M35.7 354.6h1.05M36.1 354.6h1.05M31.7 359.1h1.05M35.6 352.3h1.05M37.1 356.0h1.05M30.7 359.5h1.05M35.3 357.5h1.05M35.0 354.6h1.05M30.8 357.7h1.05M34.6 354.2h1.05M35.3 355.2h1.05M36.1 354.0h1.05M34.4 349.0h1.05M33.5 356.9h1.05M37.7 354.0h1.05M34.2 359.4h1.05M33.7 357.1h1.05M38.5 355.1h1.05M37.4 353.0h1.05M37.7 344.8h1.05M36.3 349.6h1.05M41.2 343.1h1.05M36.0 346.8h1.05M35.4 346.7h1.05M38.4 344.1h1.05M39.6 338.9h1.05M39.9 339.0h1.05M36.9 342.5h1.05M35.9 348.4h1.05M37.8 343.4h1.05M36.4 351.6h1.05M36.9 346.5h1.05M38.7 346.5h1.05M33.0 354.7h1.05M42.4 337.7h1.05M36.8 346.7h1.05M37.9 348.1h1.05M38.0 340.6h1.05M36.4 349.2h1.05M36.9 340.4h1.05M39.3 337.1h1.05M37.4 343.1h1.05M38.6 342.3h1.05M36.5 343.1h1.05M37.9 342.3h1.05M36.5 348.1h1.05M37.1 352.3h1.05M56.2 369.8h1.05M48.7 376.1h1.05M55.5 371.2h1.05M60.1 367.9h1.05M57.3 372.3h1.05M53.1 371.3h1.05M62.2 366.8h1.05M57.3 373.5h1.05M56.3 374.0h1.05M59.0 372.5h1.05M58.7 371.4h1.05M59.3 369.9h1.05M52.7 377.8h1.05M57.5 371.9h1.05M56.4 368.2h1.05M54.8 375.4h1.05M56.1 374.2h1.05M53.6 376.6h1.05M57.0 369.8h1.05M57.7 373.1h1.05M57.3 369.8h1.05M54.8 373.9h1.05M59.6 368.2h1.05M56.8 373.0h1.05M53.3 373.7h1.05M56.8 370.6h1.05M55.0 377.3h1.05M54.5 372.8h1.05M50.3 379.1h1.05M53.2 375.6h1.05M53.8 374.2h1.05M65.2 365.4h1.05M54.8 373.3h1.05M57.8 369.6h1.05M59.6 374.3h1.05M52.2 373.4h1.05M51.5 374.3h1.05M55.3 372.0h1.05M58.2 373.6h1.05M57.9 364.9h1.05M56.8 375.6h1.05M53.5 374.2h1.05M55.9 374.7h1.05M53.7 368.8h1.05M56.3 375.3h1.05M63.0 364.4h1.05M55.7 373.8h1.05M62.4 371.1h1.05M55.9 371.8h1.05M58.8 371.3h1.05M59.9 370.4h1.05M58.0 370.5h1.05M58.2 369.8h1.05M51.8 374.2h1.05M58.1 370.4h1.05M54.7 375.6h1.05M55.2 370.7h1.05M56.2 374.3h1.05M60.4 364.5h1.05M57.7 374.3h1.05M57.1 371.1h1.05M57.8 370.8h1.05M56.5 368.5h1.05M56.9 369.4h1.05M53.4 373.1h1.05M53.1 373.0h1.05M54.2 372.2h1.05M58.2 374.0h1.05M55.3 371.5h1.05M60.4 366.2h1.05M55.2 372.0h1.05M55.6 371.8h1.05M56.0 375.3h1.05M56.7 374.9h1.05M56.1 371.7h1.05M56.7 370.7h1.05M59.8 365.9h1.05M56.0 371.6h1.05M55.1 371.0h1.05M57.6 371.9h1.05M65.1 365.1h1.05M60.0 365.6h1.05M52.4 370.1h1.05M57.9 371.5h1.05M62.0 364.9h1.05M57.0 374.1h1.05M57.8 370.0h1.05M58.5 370.9h1.05M57.9 370.5h1.05M53.1 369.8h1.05M55.2 374.8h1.05M55.2 371.1h1.05M57.1 373.1h1.05M54.2 380.0h1.05M59.1 364.6h1.05M54.6 378.0h1.05M56.2 375.6h1.05M57.0 369.0h1.05M59.8 369.7h1.05M55.8 366.9h1.05M57.0 368.9h1.05M58.4 369.7h1.05M58.7 373.0h1.05M52.1 375.4h1.05M55.1 372.2h1.05M39.9 363.8h1.05M42.3 361.2h1.05M31.1 360.7h1.05M39.8 366.4h1.05M43.9 366.8h1.05M34.4 361.0h1.05M43.4 369.7h1.05M39.2 364.8h1.05M46.6 366.1h1.05M45.2 370.1h1.05M127.8 357.2h1.05M125.6 352.9h1.05M124.9 351.7h1.05M131.6 358.4h1.05M127.3 355.3h1.05M130.5 355.9h1.05M130.6 350.5h1.05M125.4 355.0h1.05M131.2 354.1h1.05M124.8 352.9h1.05M125.4 351.6h1.05M131.4 352.2h1.05M127.3 359.4h1.05M130.5 354.7h1.05M125.5 354.9h1.05M131.7 355.4h1.05M130.7 354.1h1.05M128.6 353.3h1.05M128.4 357.2h1.05M123.2 353.6h1.05M127.9 352.3h1.05M126.3 355.8h1.05M132.8 355.4h1.05M128.1 349.8h1.05M132.6 354.0h1.05M127.1 350.9h1.05M127.0 351.0h1.05M127.4 355.0h1.05M127.3 354.5h1.05M124.8 357.5h1.05M125.4 349.1h1.05M126.7 351.8h1.05M124.4 352.9h1.05M128.0 350.7h1.05M126.8 357.5h1.05M129.1 353.4h1.05M127.6 353.5h1.05M127.1 355.7h1.05M126.9 347.5h1.05M127.1 351.5h1.05M129.0 352.2h1.05M127.6 359.5h1.05M124.3 350.9h1.05M123.2 347.6h1.05M121.9 354.7h1.05M125.4 348.9h1.05M123.0 355.4h1.05M125.0 352.8h1.05M128.1 357.3h1.05M132.6 356.5h1.05M127.6 354.3h1.05M132.2 357.5h1.05M126.3 355.0h1.05M128.0 353.9h1.05M125.8 350.4h1.05M125.7 349.8h1.05M130.6 355.2h1.05M123.8 357.4h1.05M129.7 348.8h1.05M132.4 355.9h1.05M133.0 350.6h1.05M128.7 354.9h1.05M127.8 354.2h1.05M130.1 349.9h1.05M123.7 350.2h1.05M125.6 352.2h1.05M128.2 354.5h1.05M127.3 352.0h1.05M126.0 356.3h1.05M129.3 354.1h1.05M126.3 357.8h1.05M125.5 355.5h1.05M130.4 353.1h1.05M129.5 350.9h1.05M130.0 354.3h1.05M122.8 355.5h1.05M124.7 357.1h1.05M125.3 353.4h1.05M128.0 352.9h1.05M127.9 352.4h1.05M129.1 353.8h1.05M127.8 346.6h1.05M130.5 353.9h1.05M122.2 354.0h1.05M128.5 356.6h1.05M124.2 357.8h1.05M126.8 360.0h1.05M126.8 355.6h1.05M126.2 350.9h1.05M130.3 356.2h1.05M131.5 356.0h1.05M125.6 349.5h1.05M125.4 352.0h1.05M124.9 355.3h1.05M128.1 353.1h1.05M127.7 353.4h1.05M127.8 355.8h1.05M129.9 352.0h1.05M123.0 357.5h1.05M127.5 356.7h1.05M122.6 352.9h1.05M127.3 350.1h1.05M125.8 355.7h1.05M130.2 357.9h1.05M124.8 350.2h1.05M128.7 356.2h1.05M127.7 350.4h1.05M129.4 355.9h1.05M128.7 352.5h1.05M128.1 355.9h1.05M125.6 349.0h1.05M128.1 355.1h1.05M127.2 356.1h1.05M125.6 353.6h1.05M126.3 355.3h1.05M131.7 353.1h1.05M133.0 357.8h1.05M129.4 355.3h1.05M132.2 353.3h1.05M126.9 351.0h1.05M128.5 357.3h1.05M128.7 354.9h1.05M126.6 354.2h1.05M123.2 356.5h1.05M126.1 350.9h1.05M125.1 351.7h1.05M129.6 356.6h1.05M123.4 356.2h1.05M129.7 352.3h1.05M123.0 351.9h1.05M125.4 354.7h1.05M126.2 348.5h1.05M127.9 349.8h1.05M129.7 350.7h1.05M125.3 351.6h1.05M125.7 357.2h1.05M129.6 355.4h1.05M128.1 349.8h1.05M125.7 352.4h1.05M124.5 355.1h1.05M125.1 352.0h1.05M124.3 348.5h1.05M128.9 357.3h1.05M127.7 351.3h1.05M130.6 354.6h1.05M129.8 357.6h1.05M130.4 352.7h1.05M130.1 355.8h1.05M122.9 352.7h1.05M123.2 353.5h1.05M128.8 351.0h1.05M128.3 357.6h1.05M123.5 356.6h1.05M133.0 359.0h1.05M126.6 354.5h1.05M126.8 356.4h1.05M130.1 354.0h1.05M123.4 355.7h1.05M125.9 355.4h1.05M127.9 358.0h1.05M130.4 352.6h1.05M128.2 358.4h1.05M125.7 354.9h1.05M130.5 357.1h1.05M128.7 350.4h1.05M123.7 354.4h1.05M128.3 360.4h1.05M124.8 356.8h1.05M129.4 349.5h1.05M124.9 354.2h1.05M125.8 353.4h1.05M128.5 351.7h1.05M128.5 352.1h1.05M125.7 355.2h1.05M125.6 354.5h1.05M131.7 353.9h1.05M126.8 355.7h1.05M126.2 356.6h1.05M123.6 355.4h1.05M125.8 351.7h1.05M132.2 351.6h1.05M132.1 355.5h1.05M131.3 351.3h1.05M130.6 357.6h1.05M126.9 353.5h1.05M134.1 354.3h1.05M126.0 352.2h1.05M128.4 354.7h1.05M127.7 358.3h1.05M126.3 355.0h1.05M131.3 351.2h1.05M130.1 358.6h1.05M123.4 350.9h1.05M124.3 349.0h1.05M128.5 349.0h1.05M128.6 357.6h1.05M122.7 353.0h1.05M121.8 355.8h1.05M125.1 353.1h1.05M127.4 355.2h1.05M126.2 353.8h1.05M125.7 354.1h1.05M123.9 354.0h1.05M121.8 352.5h1.05M132.6 354.0h1.05M123.7 354.5h1.05M124.5 349.5h1.05M125.1 355.7h1.05M128.3 353.5h1.05M124.6 351.0h1.05M131.0 354.4h1.05M124.5 348.3h1.05M123.4 360.2h1.05M124.0 353.6h1.05M127.8 353.4h1.05M126.4 350.2h1.05M124.3 358.2h1.05M125.1 356.0h1.05M122.5 353.1h1.05M127.9 356.5h1.05M124.1 355.3h1.05M128.3 351.9h1.05M128.5 351.5h1.05M125.0 353.8h1.05M124.4 350.0h1.05M126.0 355.8h1.05M126.1 357.1h1.05M124.0 350.4h1.05M131.5 354.8h1.05M129.8 351.7h1.05M129.4 377.8h1.05M128.9 377.3h1.05M130.6 376.1h1.05M124.1 374.5h1.05M130.5 375.9h1.05M123.9 375.5h1.05M125.7 374.9h1.05M126.1 376.1h1.05M125.3 375.5h1.05M127.1 376.4h1.05M127.3 377.8h1.05M128.0 373.1h1.05M125.4 375.8h1.05M129.3 374.3h1.05M124.9 376.7h1.05M126.0 379.2h1.05M125.7 379.1h1.05M122.6 373.9h1.05M130.7 378.1h1.05M128.5 377.5h1.05M128.5 375.0h1.05M129.8 376.3h1.05M130.0 377.5h1.05M130.4 377.0h1.05M125.8 377.8h1.05M125.7 376.3h1.05M127.3 377.6h1.05M131.6 377.4h1.05M132.1 379.3h1.05M127.4 377.6h1.05M126.6 375.9h1.05M126.8 376.1h1.05M131.9 378.3h1.05M125.7 373.7h1.05M126.8 376.5h1.05M123.7 375.1h1.05M126.9 377.0h1.05M131.3 377.6h1.05M127.5 376.6h1.05M125.2 380.1h1.05M130.0 380.6h1.05M126.0 377.4h1.05M124.4 379.1h1.05M122.8 378.4h1.05M130.3 380.0h1.05M124.2 379.4h1.05M124.9 375.9h1.05M123.0 379.5h1.05M131.9 376.2h1.05M124.7 376.7h1.05M134.5 379.2h1.05M125.4 373.9h1.05M125.0 379.6h1.05M132.6 376.8h1.05M124.9 376.3h1.05M123.7 379.3h1.05M121.9 374.9h1.05M127.9 375.8h1.05M129.3 377.3h1.05M123.5 378.5h1.05M129.5 373.7h1.05M132.5 378.2h1.05M129.3 373.8h1.05M124.8 376.6h1.05M130.2 374.5h1.05M124.3 373.4h1.05M126.3 378.0h1.05M121.9 376.2h1.05M128.5 380.3h1.05M129.0 376.7h1.05M123.5 375.5h1.05M125.0 377.6h1.05M126.9 380.5h1.05M127.9 375.3h1.05M131.6 379.1h1.05M127.3 375.9h1.05M129.7 375.8h1.05M123.0 377.7h1.05M127.7 378.5h1.05M129.0 380.0h1.05M124.5 379.2h1.05M124.0 378.6h1.05M127.5 377.8h1.05M129.9 377.3h1.05M130.3 379.0h1.05M127.4 376.2h1.05M124.7 376.3h1.05M126.4 377.3h1.05M135.9 378.5h1.05M129.3 375.7h1.05M124.9 376.7h1.05M127.6 375.3h1.05M131.8 376.2h1.05M130.2 372.9h1.05M127.0 377.8h1.05M127.6 378.4h1.05M127.8 377.6h1.05M127.9 376.9h1.05M124.5 376.2h1.05M132.5 380.6h1.05M126.8 379.7h1.05M122.2 373.6h1.05M125.6 375.6h1.05M125.3 377.7h1.05M136.1 376.0h1.05M127.1 377.8h1.05M126.9 379.1h1.05M132.3 374.9h1.05M127.5 376.8h1.05M128.1 374.4h1.05M129.3 369.8h1.05M127.8 359.5h1.05M126.2 366.0h1.05M122.6 365.3h1.05M129.9 371.2h1.05M127.4 371.1h1.05M125.4 369.3h1.05M127.6 371.2h1.05M127.3 368.4h1.05M127.0 366.4h1.05M135.3 371.1h1.05M129.0 378.2h1.05M132.4 362.8h1.05M129.9 372.4h1.05M134.1 374.3h1.05M130.2 364.3h1.05M124.5 370.1h1.05M129.3 364.9h1.05M126.2 367.4h1.05M127.7 370.3h1.05M126.5 364.1h1.05M131.8 375.4h1.05M127.1 373.1h1.05M129.1 371.6h1.05M129.2 365.9h1.05M129.5 373.0h1.05M124.4 376.9h1.05M134.8 376.3h1.05M134.5 372.0h1.05M126.3 366.6h1.05M124.7 369.5h1.05M127.4 371.7h1.05M135.5 368.9h1.05M129.9 370.9h1.05M128.5 368.2h1.05M127.1 365.7h1.05M128.1 368.9h1.05M128.6 365.6h1.05M127.6 369.2h1.05M129.6 364.7h1.05M129.0 372.9h1.05M129.6 367.5h1.05M125.8 368.1h1.05M130.1 375.2h1.05M126.9 366.4h1.05M128.8 369.8h1.05M124.3 366.1h1.05M127.1 371.7h1.05M123.3 364.9h1.05M129.2 364.1h1.05M127.9 370.4h1.05M127.1 364.9h1.05M127.3 367.7h1.05M128.7 365.6h1.05M131.3 362.3h1.05M126.9 369.0h1.05M130.9 366.6h1.05M129.4 366.7h1.05M130.1 375.9h1.05M126.1 370.8h1.05M147.3 356.9h1.05M153.1 353.1h1.05M146.7 354.6h1.05M152.9 357.4h1.05M152.0 345.7h1.05M148.0 358.7h1.05M146.5 357.5h1.05M154.9 356.0h1.05M152.8 351.7h1.05M146.5 352.6h1.05M149.3 352.8h1.05M151.7 352.4h1.05M150.3 354.7h1.05M149.8 360.4h1.05M151.0 353.3h1.05M149.2 350.5h1.05M153.4 353.6h1.05M146.9 350.8h1.05M149.4 351.2h1.05M152.7 348.4h1.05M151.1 353.6h1.05M146.6 353.2h1.05M149.5 355.0h1.05M148.6 354.2h1.05M145.3 348.7h1.05M151.9 357.2h1.05M149.8 350.6h1.05M152.7 344.6h1.05M147.6 355.7h1.05M151.6 348.9h1.05M144.7 358.8h1.05M150.2 349.4h1.05M149.9 356.6h1.05M142.8 357.4h1.05M151.8 344.7h1.05M151.9 345.9h1.05M152.9 354.6h1.05M155.9 350.6h1.05M149.8 357.2h1.05M148.1 350.2h1.05M148.8 352.7h1.05M146.9 354.9h1.05M151.3 353.3h1.05M154.4 351.7h1.05M153.3 350.8h1.05M151.8 345.3h1.05M150.3 352.3h1.05M148.5 350.6h1.05M148.9 350.1h1.05M143.9 350.6h1.05M148.3 350.9h1.05M146.9 352.5h1.05M151.9 352.0h1.05M148.5 358.4h1.05M152.4 356.7h1.05M152.9 351.7h1.05M149.5 357.5h1.05M148.3 352.5h1.05M150.8 354.5h1.05M149.1 356.9h1.05M149.3 355.9h1.05M152.7 355.6h1.05M151.8 348.4h1.05M146.3 350.5h1.05M151.1 359.0h1.05M146.5 354.2h1.05M147.5 350.1h1.05M149.1 355.8h1.05M150.4 357.7h1.05M147.1 356.6h1.05M152.3 353.3h1.05M151.1 350.7h1.05M146.9 351.4h1.05M148.1 364.6h1.05M148.5 359.6h1.05M150.3 354.2h1.05M151.8 349.9h1.05M152.3 354.5h1.05M145.7 355.4h1.05M151.3 354.8h1.05M154.1 351.3h1.05M151.2 356.0h1.05M147.4 357.8h1.05M145.9 347.8h1.05M151.2 348.6h1.05M149.5 346.4h1.05M150.0 348.5h1.05M150.7 346.9h1.05M151.0 351.9h1.05M150.0 352.7h1.05M150.2 347.7h1.05M142.9 353.1h1.05M147.3 351.2h1.05M151.0 345.1h1.05M147.7 350.6h1.05M146.9 354.3h1.05M149.4 349.7h1.05M147.1 356.2h1.05M148.0 355.3h1.05M151.0 345.4h1.05M146.9 353.0h1.05M150.7 356.1h1.05M152.0 357.1h1.05M148.8 352.2h1.05M151.9 351.3h1.05M152.7 346.6h1.05M151.6 352.3h1.05M144.5 356.9h1.05M150.6 353.1h1.05M146.9 351.1h1.05M153.9 349.7h1.05M140.4 349.6h1.05M146.6 352.5h1.05M148.7 349.4h1.05M147.5 357.2h1.05M145.9 360.8h1.05M148.3 348.6h1.05M151.9 355.3h1.05M147.0 356.0h1.05M144.8 349.3h1.05M152.8 352.0h1.05M146.3 355.1h1.05M152.3 352.9h1.05M144.9 351.6h1.05M150.9 356.1h1.05M154.8 352.0h1.05M148.5 352.8h1.05M153.1 349.2h1.05M153.3 342.0h1.05M152.0 350.3h1.05M151.0 355.8h1.05M146.6 352.7h1.05M150.4 355.3h1.05M147.3 349.0h1.05M144.6 363.2h1.05M149.3 352.1h1.05M145.8 356.7h1.05M148.4 358.7h1.05M152.1 353.1h1.05M151.8 348.6h1.05M148.9 350.7h1.05M146.4 353.1h1.05M149.4 358.7h1.05M140.7 350.3h1.05M147.3 351.1h1.05M150.9 354.6h1.05M149.9 351.1h1.05M151.1 354.4h1.05M144.8 352.0h1.05M146.1 348.3h1.05M150.2 353.2h1.05M150.1 349.5h1.05M149.3 349.3h1.05M150.8 355.8h1.05M154.5 358.1h1.05M147.6 351.2h1.05M147.3 354.2h1.05M155.1 355.8h1.05M143.9 348.0h1.05M146.3 355.1h1.05M149.8 354.2h1.05M154.6 349.7h1.05M147.5 360.9h1.05M150.7 349.9h1.05M144.3 346.9h1.05M143.2 353.3h1.05M149.9 357.0h1.05M149.4 350.2h1.05M147.8 360.6h1.05M145.0 353.7h1.05M149.9 355.5h1.05M148.7 355.0h1.05M152.0 352.4h1.05M148.6 352.3h1.05M147.2 352.2h1.05M149.0 353.8h1.05M153.4 358.2h1.05M148.6 355.4h1.05M150.6 356.0h1.05M149.9 354.1h1.05M148.5 349.9h1.05M152.2 358.2h1.05M151.6 354.7h1.05M150.5 351.2h1.05M145.0 355.7h1.05M150.3 350.8h1.05M147.2 358.1h1.05M144.9 360.0h1.05M151.5 362.5h1.05M147.9 352.9h1.05M148.4 353.6h1.05M149.2 350.0h1.05M152.7 349.9h1.05M148.4 355.2h1.05M148.3 351.3h1.05M150.8 351.5h1.05M146.4 352.6h1.05M149.2 359.8h1.05M146.8 356.9h1.05M147.7 351.6h1.05M148.9 354.1h1.05M152.1 360.0h1.05M148.1 358.3h1.05M152.5 356.3h1.05M147.7 356.6h1.05M149.5 354.4h1.05M149.1 355.7h1.05M152.8 357.5h1.05M149.2 357.0h1.05M153.7 349.3h1.05M153.8 347.7h1.05M151.3 355.4h1.05M153.8 354.1h1.05M148.5 349.8h1.05M146.4 356.1h1.05M149.2 350.1h1.05M151.2 349.9h1.05M148.6 351.2h1.05M154.3 358.9h1.05M149.4 346.7h1.05M150.5 353.3h1.05M150.7 355.3h1.05M148.9 356.7h1.05M152.1 353.8h1.05M148.7 351.1h1.05M151.7 348.6h1.05M149.4 350.0h1.05M146.0 355.4h1.05M149.7 353.1h1.05M152.2 347.0h1.05M149.6 354.2h1.05M152.0 348.7h1.05M151.7 353.9h1.05M153.5 357.6h1.05M151.3 361.6h1.05M149.8 351.3h1.05M148.9 349.2h1.05M149.7 345.5h1.05M149.6 354.7h1.05M152.5 351.6h1.05M153.5 350.4h1.05M149.4 345.5h1.05M147.7 349.8h1.05M153.7 355.1h1.05M146.9 355.1h1.05M151.1 352.1h1.05M149.9 351.8h1.05M148.4 346.1h1.05M149.6 358.0h1.05M153.6 351.9h1.05M147.8 352.2h1.05M152.2 354.4h1.05M148.3 354.4h1.05M149.3 355.0h1.05M148.7 347.3h1.05M150.0 356.0h1.05M146.9 352.6h1.05M152.1 351.5h1.05M148.1 360.9h1.05M152.0 357.0h1.05M147.3 359.4h1.05M145.4 351.0h1.05M151.7 358.2h1.05M147.4 350.4h1.05M150.3 345.5h1.05M151.5 355.2h1.05M148.6 355.1h1.05M151.8 354.2h1.05M151.2 358.9h1.05M148.5 353.6h1.05M148.4 357.0h1.05M148.7 354.8h1.05M150.2 353.3h1.05M154.3 352.7h1.05M153.5 356.2h1.05M153.3 352.4h1.05M152.2 355.9h1.05M148.2 354.0h1.05M149.5 352.9h1.05M153.2 350.2h1.05M145.4 346.3h1.05M148.6 350.5h1.05M149.8 355.2h1.05M154.4 354.2h1.05M151.0 350.2h1.05M151.3 358.2h1.05M153.3 345.5h1.05M152.1 359.1h1.05M152.0 347.2h1.05M149.0 355.3h1.05M150.9 349.9h1.05M147.5 356.7h1.05M146.3 358.5h1.05M149.9 354.2h1.05M146.3 350.7h1.05M151.6 347.3h1.05M155.2 347.6h1.05M146.6 353.2h1.05M151.1 355.8h1.05M148.8 352.2h1.05M149.2 350.8h1.05M143.1 356.7h1.05M150.5 353.6h1.05M148.2 354.0h1.05M149.8 352.7h1.05M152.7 346.4h1.05M150.5 348.9h1.05M149.0 358.8h1.05M147.0 352.6h1.05M148.3 356.6h1.05M147.3 346.5h1.05M151.1 351.6h1.05M149.0 357.2h1.05M147.5 351.6h1.05M150.2 354.6h1.05M148.5 357.0h1.05M155.6 351.4h1.05M154.6 344.9h1.05M153.4 351.7h1.05M150.2 351.7h1.05M148.1 348.1h1.05M148.8 358.0h1.05M152.8 351.7h1.05M148.4 350.3h1.05M146.7 359.9h1.05M151.5 353.5h1.05M148.5 349.1h1.05M153.2 356.0h1.05M147.3 356.8h1.05M146.9 355.5h1.05M147.3 351.4h1.05M151.1 354.7h1.05M152.4 349.8h1.05M153.9 358.2h1.05M149.8 354.8h1.05M147.8 352.4h1.05M146.4 353.3h1.05M150.3 358.2h1.05M152.3 356.1h1.05M148.9 352.1h1.05M148.9 353.9h1.05M144.8 356.0h1.05M145.7 351.0h1.05M149.9 351.0h1.05M154.1 352.6h1.05M153.9 357.5h1.05M148.5 354.5h1.05M153.2 351.7h1.05M150.0 350.9h1.05M150.0 351.6h1.05M150.0 356.8h1.05M153.4 353.5h1.05M150.3 356.3h1.05M149.0 348.9h1.05M152.7 349.4h1.05M152.2 349.3h1.05M154.5 349.0h1.05M152.0 358.8h1.05M147.3 358.7h1.05M147.7 346.2h1.05M151.7 355.7h1.05M149.3 343.3h1.05M149.7 351.8h1.05M148.8 351.9h1.05M145.2 350.8h1.05M154.5 358.9h1.05M148.9 350.3h1.05M150.8 357.1h1.05M151.7 348.5h1.05M150.2 353.5h1.05M153.5 357.6h1.05M151.2 357.7h1.05M148.8 358.9h1.05M148.7 354.5h1.05M152.2 349.5h1.05M148.0 346.2h1.05M150.2 352.8h1.05M149.0 354.9h1.05M144.3 352.9h1.05M150.0 352.0h1.05M151.9 359.7h1.05M148.6 349.4h1.05M148.2 353.4h1.05M151.3 349.7h1.05M152.4 349.1h1.05M151.9 354.6h1.05M151.0 361.3h1.05M149.1 352.4h1.05M151.0 356.3h1.05M146.3 354.1h1.05M147.9 355.4h1.05M153.3 353.2h1.05M149.5 353.7h1.05M142.1 356.0h1.05M151.3 353.6h1.05M148.8 350.2h1.05M149.3 357.7h1.05M149.5 358.2h1.05M143.1 351.2h1.05M150.5 352.9h1.05M145.5 350.4h1.05M153.0 348.0h1.05M147.2 348.8h1.05M148.4 355.5h1.05M151.3 345.2h1.05M153.6 350.7h1.05M148.3 359.4h1.05M149.6 348.2h1.05M148.1 350.2h1.05M147.2 351.7h1.05M152.1 354.3h1.05M146.2 363.7h1.05M147.2 353.4h1.05M149.9 355.9h1.05M148.9 354.8h1.05M155.3 353.4h1.05M147.0 354.3h1.05M147.7 351.6h1.05M150.3 354.3h1.05M149.1 356.3h1.05M149.3 348.0h1.05M152.1 351.6h1.05M152.9 350.5h1.05M151.3 354.2h1.05M142.8 347.3h1.05M146.9 358.4h1.05M144.9 356.5h1.05M152.6 354.9h1.05M151.5 351.1h1.05M149.8 353.9h1.05M150.9 355.7h1.05M149.3 350.3h1.05M148.3 354.6h1.05M145.5 348.2h1.05M148.7 350.9h1.05M149.1 342.8h1.05M148.9 352.0h1.05M151.8 345.4h1.05M149.0 354.8h1.05M151.1 357.6h1.05M152.5 349.0h1.05M151.5 351.7h1.05M147.7 358.9h1.05M148.2 349.7h1.05M148.7 349.7h1.05M152.4 354.5h1.05M153.4 354.6h1.05M148.2 357.0h1.05M148.1 351.2h1.05M149.4 353.2h1.05M152.9 350.7h1.05M150.7 352.9h1.05M146.5 348.8h1.05M149.2 354.6h1.05M150.6 354.8h1.05M149.9 351.3h1.05M150.9 349.1h1.05M146.3 351.7h1.05M146.1 351.0h1.05M147.9 350.9h1.05M149.7 349.9h1.05M148.7 346.4h1.05M150.2 349.6h1.05M150.9 342.1h1.05M147.7 353.9h1.05M143.4 351.6h1.05M150.0 353.4h1.05M145.9 353.9h1.05M150.2 349.2h1.05M151.7 352.8h1.05M149.8 351.3h1.05M151.2 353.4h1.05M152.8 354.7h1.05M148.2 352.1h1.05M152.2 351.6h1.05M150.8 355.0h1.05M149.3 344.0h1.05M150.1 353.8h1.05M150.2 350.1h1.05M153.0 352.5h1.05M148.2 350.2h1.05M150.7 348.8h1.05M147.2 360.7h1.05M153.2 357.1h1.05M153.4 355.3h1.05M145.4 357.6h1.05M153.0 354.9h1.05M144.7 357.8h1.05M153.4 351.1h1.05M150.1 356.0h1.05M149.6 357.3h1.05M150.0 355.7h1.05M150.0 347.3h1.05M147.2 365.3h1.05M150.5 358.1h1.05M152.8 359.6h1.05M151.3 350.7h1.05M149.8 345.6h1.05M149.3 356.5h1.05M144.1 353.8h1.05M152.0 358.2h1.05M147.4 350.5h1.05M144.9 349.0h1.05M151.2 361.0h1.05M146.8 358.4h1.05M150.9 351.1h1.05M155.6 343.2h1.05M149.6 353.9h1.05M155.4 360.0h1.05M155.7 353.5h1.05M152.4 358.3h1.05M151.1 354.4h1.05M149.3 351.4h1.05M146.6 360.6h1.05M148.6 344.9h1.05M150.5 352.9h1.05M150.3 360.1h1.05M149.5 352.0h1.05M147.8 352.9h1.05M148.6 353.8h1.05M158.0 354.5h1.05M147.6 360.5h1.05M152.1 356.2h1.05M151.7 356.2h1.05M151.6 358.5h1.05M152.4 358.2h1.05M148.5 353.0h1.05M147.9 356.7h1.05M152.0 351.2h1.05M151.3 363.2h1.05M153.1 348.7h1.05M149.6 355.5h1.05M149.7 354.5h1.05M152.9 354.3h1.05M146.9 355.8h1.05M149.5 353.4h1.05M148.3 347.6h1.05M146.5 351.6h1.05M147.0 342.4h1.05M152.8 348.5h1.05M147.9 355.1h1.05M143.5 358.2h1.05M147.8 355.6h1.05M148.5 354.2h1.05M150.1 353.0h1.05M145.0 347.3h1.05M149.7 358.5h1.05M148.4 355.1h1.05M150.2 354.9h1.05M152.4 347.2h1.05M150.5 352.3h1.05M149.0 349.7h1.05M147.7 349.0h1.05M146.9 362.8h1.05M154.3 353.0h1.05M151.8 349.2h1.05M142.5 345.9h1.05M150.2 358.6h1.05M149.7 349.1h1.05M149.2 349.1h1.05M146.1 352.1h1.05M148.7 349.8h1.05M147.5 349.4h1.05M150.4 358.4h1.05M149.2 361.7h1.05M145.5 354.1h1.05M146.8 352.4h1.05M150.1 355.2h1.05M152.8 350.8h1.05M146.5 352.3h1.05M150.6 350.3h1.05M152.2 359.6h1.05M146.1 354.4h1.05M152.5 345.5h1.05M150.3 352.1h1.05M146.1 358.1h1.05M150.4 351.1h1.05M151.0 355.5h1.05M151.8 355.3h1.05M150.9 348.4h1.05M148.7 353.5h1.05M142.5 361.3h1.05M148.8 348.9h1.05M145.0 354.0h1.05M149.9 350.7h1.05M148.7 349.5h1.05M147.8 352.6h1.05M148.1 355.6h1.05M149.4 353.5h1.05M150.9 358.0h1.05M151.4 353.9h1.05M149.4 349.9h1.05M148.9 355.7h1.05M150.4 351.5h1.05M146.3 347.0h1.05M150.6 357.0h1.05M150.8 347.6h1.05M149.2 353.9h1.05M147.4 354.4h1.05M149.3 349.7h1.05M146.5 356.2h1.05M150.7 349.5h1.05M147.1 356.5h1.05M151.4 351.8h1.05M154.0 351.9h1.05M147.0 357.3h1.05M149.3 354.3h1.05M149.9 349.1h1.05M146.7 352.2h1.05M153.5 349.1h1.05M153.4 353.9h1.05M146.9 354.0h1.05M151.3 349.5h1.05M144.2 354.4h1.05M146.9 354.7h1.05M144.8 352.4h1.05M147.7 347.2h1.05M149.2 353.7h1.05M148.3 348.4h1.05M150.4 346.2h1.05M151.2 354.9h1.05M154.2 356.4h1.05M150.7 354.0h1.05M149.9 347.8h1.05M153.6 355.0h1.05M149.0 348.5h1.05M153.7 355.1h1.05M146.7 355.6h1.05M154.8 352.9h1.05M150.8 351.4h1.05M148.2 357.2h1.05M157.9 353.5h1.05M149.5 356.1h1.05M149.0 355.8h1.05M152.0 349.1h1.05M147.0 352.7h1.05M152.0 354.1h1.05M153.1 347.7h1.05M151.1 350.6h1.05M150.1 354.2h1.05M148.0 370.2h1.05M147.7 371.9h1.05M148.2 369.3h1.05M150.2 368.8h1.05M151.9 368.8h1.05M151.4 372.0h1.05M147.9 370.3h1.05M148.3 369.8h1.05M149.3 377.2h1.05M149.0 376.3h1.05M150.6 366.6h1.05M145.5 373.3h1.05M146.1 373.4h1.05M151.7 372.3h1.05M149.4 370.1h1.05M150.3 370.0h1.05M148.8 369.7h1.05M152.0 368.9h1.05M150.5 367.1h1.05M148.5 366.3h1.05M149.4 373.3h1.05M150.4 369.3h1.05M150.9 369.8h1.05M150.5 371.9h1.05M150.8 362.6h1.05M147.4 373.6h1.05M149.6 378.6h1.05M149.4 369.1h1.05M152.5 372.9h1.05M153.3 372.7h1.05M149.4 373.5h1.05M148.4 369.5h1.05M148.8 370.2h1.05M151.2 369.4h1.05M150.4 369.3h1.05M151.4 361.7h1.05M149.4 371.6h1.05M147.8 374.4h1.05M150.2 375.3h1.05M151.6 373.2h1.05M149.5 367.3h1.05M149.4 369.4h1.05M150.3 369.4h1.05M155.4 365.6h1.05M152.0 369.4h1.05M149.4 374.1h1.05M149.8 366.9h1.05M150.6 370.3h1.05M146.0 371.7h1.05M147.9 368.5h1.05M150.7 372.0h1.05M149.3 378.3h1.05M150.6 368.9h1.05M150.2 370.6h1.05M145.8 365.7h1.05M147.2 378.0h1.05M149.5 370.1h1.05M148.8 374.3h1.05M149.9 376.8h1.05M151.2 376.6h1.05M149.6 372.3h1.05M149.0 370.4h1.05M146.6 369.0h1.05M148.1 368.8h1.05M152.0 371.9h1.05M152.0 373.9h1.05M151.5 374.4h1.05M148.7 373.7h1.05M149.2 369.2h1.05M152.0 378.3h1.05M148.0 376.9h1.05M151.3 368.1h1.05M150.3 372.3h1.05M150.5 369.8h1.05M147.4 371.1h1.05M151.4 373.6h1.05M151.0 374.7h1.05M148.0 370.9h1.05M150.4 374.4h1.05M150.1 372.7h1.05M150.0 378.1h1.05M145.8 370.9h1.05M154.3 371.8h1.05M146.4 371.5h1.05M147.2 368.7h1.05M150.2 376.8h1.05M150.6 373.3h1.05M151.7 371.7h1.05M148.2 370.7h1.05M150.4 370.1h1.05M148.6 369.8h1.05M147.1 367.5h1.05M149.6 369.8h1.05M149.9 375.7h1.05M150.3 370.9h1.05M147.7 367.4h1.05M150.5 368.1h1.05M150.6 367.4h1.05M150.0 370.8h1.05M151.6 369.7h1.05M149.1 371.8h1.05M149.9 376.7h1.05M149.3 369.2h1.05M149.2 372.6h1.05M150.2 373.3h1.05M147.3 379.3h1.05M153.2 370.9h1.05M147.6 371.5h1.05M150.6 363.5h1.05M149.8 366.0h1.05M150.6 375.7h1.05M151.7 365.9h1.05M152.3 374.1h1.05M149.1 372.7h1.05M152.6 369.9h1.05M149.8 369.1h1.05M151.9 363.7h1.05M152.4 367.7h1.05M151.5 365.5h1.05M148.1 369.0h1.05M151.3 365.5h1.05M150.9 368.9h1.05M152.1 370.0h1.05M150.7 370.4h1.05M153.1 369.8h1.05M149.8 377.7h1.05M149.9 373.3h1.05M148.5 371.7h1.05M145.7 371.4h1.05M148.6 365.9h1.05M147.2 374.8h1.05M150.6 365.9h1.05M153.1 368.7h1.05M149.1 371.8h1.05M147.7 365.6h1.05M148.4 375.0h1.05M151.5 365.7h1.05M152.0 371.1h1.05M150.7 371.2h1.05M150.6 367.6h1.05M148.1 368.6h1.05M149.1 373.1h1.05M147.6 376.4h1.05M148.6 369.0h1.05M151.1 372.5h1.05M149.2 367.4h1.05M148.0 365.6h1.05M151.9 374.6h1.05M153.2 372.7h1.05M150.4 373.6h1.05M131.3 340.0h1.05M129.8 349.3h1.05M124.9 335.6h1.05M126.7 343.9h1.05M131.9 339.7h1.05M130.6 340.8h1.05M143.7 357.3h1.05M141.8 362.0h1.05M131.5 366.6h1.05M142.0 370.4h1.05M148.1 368.8h1.05M146.7 353.8h1.05M132.1 376.5h1.05M149.0 353.7h1.05M149.5 367.8h1.05M127.8 369.8h1.05M136.3 372.1h1.05M138.1 355.6h1.05M133.1 360.1h1.05M147.9 356.2h1.05M131.3 380.6h1.05M152.7 368.0h1.05M138.9 351.5h1.05M132.5 366.8h1.05M149.5 352.8h1.05M142.0 359.6h1.05M140.5 366.4h1.05M154.1 356.5h1.05" stroke="#111" stroke-width="1.05" fill="none"/>
<path d="M293.5 339.0h1M279.3 316.1h1M277.8 333.8h1M270.3 330.3h1M287.3 322.6h1M290.5 324.5h1M274.3 321.7h1M284.7 335.2h1M292.1 340.8h1M291.2 330.6h1M272.7 321.1h1M291.2 340.0h1M290.1 341.4h1M282.2 332.4h1M288.7 335.7h1M285.0 333.2h1M275.5 330.9h1M284.9 341.4h1M282.7 336.1h1M273.8 336.7h1M272.8 332.9h1M295.8 334.9h1M269.6 334.4h1M275.8 325.3h1M288.5 318.2h1M278.2 327.8h1M270.9 341.5h1M273.1 338.4h1M285.3 342.2h1M272.7 339.2h1M287.3 339.4h1M280.6 329.5h1M281.6 316.9h1M278.7 342.3h1M284.3 341.8h1M275.3 321.2h1M296.7 328.9h1M269.6 335.7h1M269.5 340.7h1M294.2 332.6h1M271.4 341.4h1M273.4 326.5h1M299.2 332.4h1M292.8 340.2h1M286.9 328.3h1M278.2 330.2h1M273.9 319.1h1M282.8 323.1h1M271.5 321.4h1M274.6 325.2h1M273.1 342.1h1M275.8 320.4h1M288.2 341.4h1M270.3 332.6h1M277.0 342.4h1M291.9 335.4h1M276.2 319.9h1M273.9 333.3h1M280.3 325.6h1M274.3 324.8h1M284.6 342.4h1M280.3 326.5h1M277.3 325.2h1M273.2 329.8h1M290.5 340.8h1M289.4 327.5h1M270.6 322.4h1M276.4 324.2h1M279.0 328.1h1M270.9 323.2h1M286.2 326.6h1M272.8 333.9h1M289.6 342.4h1M298.5 337.6h1M274.0 334.3h1M276.2 319.2h1M280.1 317.3h1M285.4 320.3h1M276.9 323.5h1M280.3 324.6h1M271.8 331.4h1M280.6 332.8h1M272.7 324.6h1M288.0 337.7h1M285.1 318.4h1M291.2 322.7h1M273.8 339.6h1M278.8 342.2h1M279.4 334.9h1M297.3 326.1h1M276.6 342.1h1M275.2 321.0h1M282.2 327.7h1M274.5 342.2h1M273.2 335.2h1M273.7 333.7h1M269.6 333.2h1M277.3 334.1h1M279.5 333.3h1M278.7 340.5h1M295.8 341.5h1M296.4 331.9h1M279.8 336.3h1M296.8 333.5h1M292.6 329.9h1M274.3 317.6h1M280.4 340.9h1M294.1 339.9h1M276.8 338.0h1M286.0 331.7h1M294.2 333.4h1M281.2 317.9h1M284.4 334.9h1M294.4 318.5h1M279.5 339.9h1M290.6 340.4h1M278.7 333.9h1M277.2 341.8h1M288.8 339.1h1M294.8 340.3h1M277.4 340.1h1M287.4 330.6h1M279.7 333.4h1M270.3 337.9h1M269.8 329.0h1M287.1 331.7h1M283.8 328.4h1M272.5 334.5h1M271.6 339.4h1M292.3 337.6h1M270.9 339.4h1M285.8 324.4h1M280.3 326.0h1M275.0 319.4h1M272.5 328.7h1M269.3 333.1h1M274.5 329.9h1M280.2 326.6h1M299.3 341.0h1M281.2 319.8h1M290.5 327.5h1M274.4 341.9h1M294.7 326.0h1M271.0 324.6h1M274.8 333.0h1M276.4 330.6h1M272.3 335.6h1M270.0 326.9h1M286.5 332.9h1M275.3 333.2h1M282.5 318.9h1M288.4 337.7h1M278.3 339.7h1M271.1 340.7h1M279.2 336.2h1M283.3 320.2h1M283.7 326.4h1M274.5 323.1h1M285.0 335.7h1M292.6 341.1h1M283.3 321.7h1M275.3 341.9h1M286.6 335.0h1M270.7 342.3h1M282.2 318.5h1M283.4 338.7h1M287.2 316.6h1M282.2 323.9h1M293.1 333.9h1M278.1 340.1h1M277.4 333.2h1M278.0 318.1h1M292.8 342.3h1M269.4 336.6h1M294.6 340.8h1M283.6 340.6h1M273.5 318.8h1M294.4 330.1h1M281.8 342.2h1M272.1 337.6h1M295.1 319.9h1M280.2 323.7h1M278.6 335.7h1M289.4 319.4h1M270.0 325.0h1M270.7 319.8h1M270.9 340.2h1M277.9 336.3h1M282.6 318.4h1M274.6 342.1h1M279.3 316.2h1M287.5 320.4h1M283.8 320.4h1M290.9 336.6h1M275.8 322.9h1M286.5 339.4h1M276.3 316.8h1M293.9 337.6h1M280.5 340.2h1M270.7 334.3h1M280.7 329.1h1M280.3 333.4h1M272.7 340.3h1M283.3 320.8h1M278.8 317.1h1M271.0 339.4h1M285.3 342.0h1M291.6 340.7h1M271.0 318.0h1M287.2 316.7h1M281.3 339.3h1M281.9 328.3h1M272.0 329.1h1M279.0 332.1h1M269.7 341.3h1M274.5 364.4h1M274.9 360.3h1M299.0 359.8h1M283.1 368.0h1M278.8 370.8h1M274.7 371.3h1M297.6 365.9h1M271.6 374.0h1M282.1 362.2h1M277.5 362.9h1M298.9 362.9h1M285.4 371.2h1M294.4 365.8h1M276.4 362.9h1M272.4 362.9h1M271.6 366.8h1M272.9 375.2h1M277.2 376.6h1M282.7 364.4h1M273.4 362.7h1M273.9 377.8h1M289.5 370.0h1M289.2 366.5h1M281.8 373.3h1M273.9 367.7h1M296.7 362.1h1M282.0 372.4h1M274.7 368.1h1M271.6 374.2h1M281.2 360.2h1M286.6 368.1h1M270.0 360.6h1M277.4 366.3h1M277.3 363.7h1M270.5 362.7h1M269.4 359.7h1M272.0 368.5h1M287.8 362.2h1M287.8 369.7h1M291.3 367.8h1M280.1 360.7h1M280.3 361.3h1M270.7 371.5h1M282.1 373.5h1M281.2 376.0h1M287.2 372.1h1M271.1 361.0h1M271.2 365.3h1M273.4 366.2h1M270.9 360.4h1M273.9 362.7h1M293.7 372.4h1M270.6 361.6h1M290.0 371.8h1M279.5 363.4h1M289.3 364.7h1M285.2 373.7h1M290.6 363.8h1M274.8 362.4h1M278.1 360.6h1M298.0 363.7h1M273.1 365.4h1M274.6 361.2h1M276.3 376.3h1M292.7 364.8h1M289.7 372.0h1M294.6 377.2h1M269.5 375.3h1M270.1 364.1h1M278.3 368.8h1M272.5 361.1h1M295.7 359.8h1M271.1 363.1h1M281.0 368.3h1M279.1 364.8h1M276.1 361.9h1M295.1 367.3h1M291.6 364.4h1M277.9 367.5h1M279.3 371.2h1M281.0 375.1h1M285.9 364.8h1M291.4 359.8h1M270.2 370.4h1M282.5 368.4h1M287.4 361.4h1M278.6 364.6h1M275.5 362.8h1M277.8 371.6h1M271.2 374.7h1M277.0 360.1h1M283.4 377.1h1M276.9 377.5h1M299.3 363.2h1M278.8 359.6h1M281.3 377.3h1M281.4 375.8h1M269.8 360.0h1M273.9 370.1h1M280.3 360.2h1M272.9 360.6h1M270.3 361.6h1M276.9 376.2h1M272.9 360.3h1M294.7 375.4h1M273.4 365.4h1M272.9 374.8h1M289.1 361.6h1M277.7 365.0h1M275.5 367.3h1M283.6 365.1h1M271.6 370.9h1M299.1 375.0h1M278.5 367.7h1M270.4 374.2h1M271.0 364.4h1M295.0 364.6h1M271.3 370.4h1M271.4 359.8h1M282.7 359.6h1M286.5 363.4h1M272.8 359.9h1M287.2 361.4h1M271.6 364.3h1M296.0 374.7h1M289.1 369.9h1M295.8 363.1h1M294.2 369.8h1M275.5 362.4h1M297.3 374.2h1M274.0 359.9h1M286.1 369.6h1M290.3 361.1h1M279.0 371.0h1M276.2 371.3h1M278.1 359.6h1M269.6 375.2h1M284.4 376.8h1M287.3 370.6h1M275.2 377.5h1M283.3 372.2h1M279.6 361.4h1M272.0 367.6h1M275.5 360.0h1M280.4 360.7h1M285.4 373.8h1M275.8 364.5h1M279.1 363.8h1M269.8 363.0h1M284.3 359.9h1M288.4 361.1h1M285.3 369.0h1M273.3 372.3h1M281.9 363.9h1M279.7 360.2h1M275.5 359.6h1M277.6 365.6h1M280.7 365.1h1M297.5 377.1h1M295.6 360.9h1M276.7 369.8h1M283.1 359.6h1M269.9 363.5h1M275.3 360.4h1M294.0 361.4h1M280.2 374.6h1M284.8 368.4h1M285.2 370.1h1M294.0 360.1h1M297.0 364.4h1M276.3 377.7h1M280.3 365.3h1M276.0 363.7h1M279.3 369.5h1M270.6 360.1h1M280.5 367.0h1M276.6 360.6h1M281.9 362.6h1M277.1 364.5h1M293.2 375.7h1M277.8 369.7h1M284.6 362.2h1M282.7 365.1h1M295.9 376.5h1M285.5 360.5h1M305.0 329.0h1M309.0 342.5h1M313.0 341.5h1M316.0 338.5h1M322.0 341.5h1M326.0 341.3h1M329.0 342.3h1M334.0 335.0h1M303.0 343.5h1M304.0 347.0h1M333.0 347.5h1M302.5 340.0h1M361.8 319.8h1M368.9 341.4h1M383.4 322.0h1M364.4 341.5h1M366.2 341.3h1M378.6 326.2h1M378.0 336.6h1M379.2 317.8h1M376.1 323.2h1M374.9 340.0h1M361.1 338.7h1M361.4 339.4h1M365.7 325.7h1M369.0 327.6h1M375.3 325.7h1M373.7 323.6h1M360.9 340.0h1M374.2 316.6h1M375.4 340.8h1M366.7 330.3h1M368.2 339.5h1M360.5 315.8h1M374.8 330.0h1M362.0 326.2h1M360.5 317.5h1M360.4 338.1h1M367.6 336.1h1M372.0 336.5h1M377.5 329.2h1M385.6 333.6h1M372.8 340.2h1M364.2 340.2h1M378.0 321.3h1M360.9 323.5h1M370.6 318.9h1M386.6 341.3h1M376.7 331.5h1M373.7 327.6h1M360.8 317.0h1M385.3 321.9h1M366.8 331.8h1M368.7 341.0h1M375.6 326.6h1M388.4 326.0h1M360.9 321.6h1M362.2 328.5h1M365.7 320.6h1M385.6 321.4h1M360.3 340.3h1M378.8 341.4h1M370.3 323.6h1M388.6 324.0h1M372.9 332.1h1M378.8 325.0h1M385.0 325.7h1M380.3 328.0h1M365.6 335.7h1M368.2 336.6h1M360.6 319.7h1M375.6 338.4h1M389.7 324.5h1M363.8 333.5h1M367.8 330.7h1M379.0 322.2h1M366.3 341.0h1M367.1 325.5h1M372.4 330.4h1M376.0 330.2h1M372.5 320.9h1M373.5 334.4h1M368.1 340.4h1M372.7 332.3h1M378.3 337.2h1M376.0 337.0h1M377.4 333.7h1M365.7 321.7h1M374.6 328.8h1M369.1 339.8h1M380.6 338.8h1M361.5 337.5h1M380.0 317.5h1M364.4 327.0h1M368.8 341.5h1M375.9 332.7h1M363.9 332.6h1M361.9 338.7h1M363.3 331.2h1M363.7 326.1h1M379.2 334.4h1M381.0 315.9h1M387.6 335.2h1M382.7 328.2h1M365.0 322.3h1M375.4 328.7h1M381.3 335.1h1M369.8 332.1h1M361.7 339.5h1M373.5 335.3h1M359.9 315.6h1M377.8 327.3h1M366.5 320.4h1M360.8 317.0h1M361.7 323.0h1M373.4 330.6h1M361.6 332.6h1M362.8 328.5h1M370.9 338.5h1M373.3 340.2h1M384.2 334.1h1M366.8 327.5h1M367.4 327.3h1M379.5 338.0h1M376.7 319.8h1M360.6 341.1h1M369.9 334.2h1M367.4 336.7h1M386.4 341.4h1M375.1 337.0h1M381.6 328.4h1M390.1 335.1h1M370.9 340.5h1M369.4 320.8h1M367.3 326.8h1M378.9 322.7h1M367.3 340.1h1M390.1 321.1h1M363.1 340.8h1M383.3 331.7h1M368.2 338.5h1M361.2 319.9h1M369.5 322.8h1M384.0 338.7h1M367.1 335.9h1M363.3 320.2h1M370.3 335.2h1M362.2 317.6h1M375.5 324.9h1M372.7 326.2h1M386.8 325.7h1M375.6 341.3h1M383.2 317.9h1M369.2 339.7h1M367.5 316.0h1M377.6 324.9h1M372.5 339.5h1M363.1 337.4h1M385.7 335.1h1M368.7 339.7h1M363.0 329.4h1M377.8 323.8h1M363.9 319.0h1M376.4 338.5h1M369.6 337.7h1M370.5 326.2h1M360.1 335.9h1M362.0 326.7h1M374.8 329.8h1M371.6 320.6h1M386.2 316.3h1M387.8 338.0h1M374.4 315.0h1M368.2 329.8h1M365.1 317.3h1M364.4 327.6h1M368.7 319.7h1M368.6 329.0h1M360.6 323.9h1M365.7 335.1h1M360.3 328.1h1M382.2 337.8h1M383.4 340.4h1M381.3 335.9h1M362.8 338.5h1M368.0 325.9h1M360.0 341.4h1M383.6 330.6h1M367.0 335.6h1M382.6 321.2h1M371.2 331.6h1M369.4 331.9h1M362.4 330.0h1M380.9 321.3h1M372.4 338.7h1M369.6 319.8h1M371.2 326.2h1M373.6 331.8h1M385.3 340.4h1M375.6 337.2h1M378.0 329.3h1M367.5 317.3h1M363.1 339.0h1M381.4 337.0h1M365.1 338.5h1M387.0 331.0h1M387.3 336.8h1M363.4 318.9h1M371.8 327.7h1M381.3 319.0h1M386.4 320.3h1M373.0 319.8h1M376.4 335.1h1M368.3 324.4h1M361.1 331.8h1M364.6 334.0h1M366.0 323.3h1M374.3 330.4h1M384.4 341.6h1M366.2 317.2h1M371.4 322.8h1M384.9 326.1h1M361.1 341.0h1M375.1 331.9h1M375.7 321.3h1M361.3 323.5h1M388.6 335.9h1M362.2 338.3h1M369.6 334.1h1M374.2 335.8h1M375.5 318.3h1M375.9 317.0h1M363.6 317.4h1M361.4 335.7h1M370.2 341.1h1M364.0 332.8h1M376.4 326.9h1M365.6 329.6h1M363.3 327.5h1M373.2 319.1h1M390.1 323.1h1M369.8 340.9h1M386.5 362.8h1M380.6 369.0h1M367.2 366.6h1M380.3 372.4h1M361.4 371.6h1M379.6 363.2h1M373.8 362.6h1M366.7 373.9h1M378.2 375.6h1M385.2 372.0h1M362.5 365.5h1M367.0 363.1h1M361.2 370.1h1M382.5 364.0h1M365.1 374.8h1M378.0 368.0h1M373.5 373.2h1M364.7 370.0h1M364.4 378.4h1M368.9 367.5h1M369.1 372.2h1M372.3 367.8h1M371.4 362.7h1M374.2 365.6h1M363.7 369.4h1M379.5 367.4h1M370.3 376.8h1M364.2 366.3h1M376.7 368.4h1M375.3 372.1h1M366.3 363.9h1M377.2 371.5h1M377.5 367.7h1M368.9 369.8h1M376.1 365.4h1M364.6 364.6h1M375.7 370.2h1M369.4 370.7h1M388.3 365.9h1M383.3 370.9h1M371.5 362.7h1M381.4 365.0h1M365.6 364.6h1M375.0 371.7h1M368.0 376.3h1M360.0 362.6h1M374.5 368.1h1M363.1 366.0h1M387.8 375.7h1M364.4 362.6h1M379.2 375.6h1M368.6 367.9h1M370.1 362.6h1M375.7 368.9h1M383.4 363.3h1M361.8 374.9h1M377.1 362.7h1M361.9 362.6h1M360.7 371.9h1M377.8 364.7h1M368.0 364.5h1M370.8 365.0h1M364.1 376.5h1M360.9 372.1h1M364.2 377.1h1M366.6 373.2h1M375.8 367.7h1M362.2 372.3h1M386.0 368.3h1M375.8 368.6h1M367.1 367.9h1M387.4 371.4h1M367.5 363.3h1M382.0 375.4h1M379.9 367.4h1M371.5 376.7h1M371.8 375.5h1M366.1 371.0h1M373.3 364.5h1M365.9 373.3h1M377.9 363.1h1M366.2 364.3h1M371.4 362.9h1M371.2 363.6h1M365.8 377.3h1M363.5 364.9h1M390.3 367.8h1M367.2 373.3h1M366.4 365.5h1M368.6 367.1h1M370.7 366.1h1M369.6 371.2h1M370.2 363.1h1M371.6 364.6h1M362.9 372.7h1M370.6 377.0h1M363.2 365.0h1M369.1 373.7h1M384.4 370.2h1M362.9 362.8h1M365.4 366.4h1M364.8 372.0h1M386.0 367.2h1M364.7 372.2h1M385.3 370.3h1M383.3 368.5h1M389.1 362.9h1M364.0 375.9h1M377.6 364.5h1M361.6 364.3h1M362.3 370.0h1M366.1 374.3h1M383.3 362.6h1M365.2 378.1h1M381.2 366.4h1M378.2 367.9h1M369.8 362.5h1M373.4 364.3h1M362.2 377.7h1M359.9 372.3h1M374.3 363.2h1M381.9 373.8h1M373.8 367.7h1M360.2 371.8h1M373.5 363.9h1M368.4 364.1h1M385.1 362.5h1M363.1 374.1h1M369.5 366.6h1M370.8 363.4h1M368.7 366.1h1M361.8 373.5h1M367.6 376.9h1M376.1 370.2h1M382.4 378.2h1M382.1 365.3h1M360.0 366.3h1M367.1 371.1h1M369.1 367.2h1M380.3 362.8h1M381.3 364.1h1M369.3 368.2h1M362.6 370.4h1M378.3 363.6h1M369.9 362.9h1M365.3 370.6h1M384.0 367.4h1M377.8 367.6h1M361.7 367.5h1M366.2 370.3h1M421.8 346.1h1M405.7 341.0h1M404.7 337.8h1M412.6 350.8h1M403.0 349.2h1M416.5 334.3h1M406.5 347.7h1M422.6 345.5h1M412.9 344.2h1M407.8 338.0h1M406.3 340.0h1M408.9 341.9h1M408.8 347.2h1M404.8 345.8h1M412.6 347.3h1M411.0 350.3h1M409.2 350.3h1M406.2 344.5h1M413.2 340.1h1M413.0 340.7h1M413.5 343.0h1M404.1 341.2h1M415.2 336.0h1M414.1 344.0h1M416.8 341.4h1M406.5 338.2h1M408.4 346.5h1M417.8 343.6h1M408.5 346.9h1M404.8 347.6h1M409.5 341.9h1M405.8 346.1h1M414.6 348.0h1M409.2 352.6h1M398.0 341.9h1M413.8 345.1h1M407.8 342.3h1M408.4 344.4h1M412.4 337.0h1M416.4 332.7h1M409.4 344.3h1M400.3 335.2h1M420.9 346.6h1M405.5 341.1h1M413.0 356.1h1M412.1 344.8h1M413.0 338.6h1M411.1 340.6h1M410.0 341.2h1M407.6 336.4h1M412.4 344.6h1M420.4 352.6h1M409.9 341.2h1M413.3 344.2h1M408.8 338.8h1M402.5 338.1h1M414.2 341.3h1M406.0 337.6h1M424.2 334.6h1M417.7 342.0h1M418.8 342.5h1M416.5 340.1h1M409.7 347.0h1M405.8 332.6h1M414.7 342.5h1M408.6 343.5h1M411.5 336.2h1M409.9 345.5h1M406.0 353.8h1M410.4 335.5h1M418.5 342.0h1M413.4 350.4h1M411.6 340.9h1M422.2 341.9h1M408.1 340.5h1M415.0 348.0h1M408.1 337.8h1M413.3 344.1h1M410.3 339.0h1M403.4 345.3h1M410.7 333.2h1M416.5 341.5h1M405.2 345.4h1M417.8 344.7h1M425.7 339.2h1M407.9 344.9h1M399.9 347.1h1M418.0 343.2h1M404.8 357.9h1M419.1 325.1h1M423.4 350.7h1M420.7 359.9h1M418.9 330.5h1M397.3 349.1h1M400.7 325.2h1" stroke="#333" stroke-width="0.95" fill="none"/>
<path d="M273.6 351.8h1.15M270.6 354.6h1.15M288.7 354.8h1.15M278.1 349.3h1.15M293.7 358.0h1.15M290.8 345.2h1.15M286.7 355.3h1.15M279.8 350.9h1.15M278.7 347.4h1.15M280.8 358.8h1.15M288.1 349.0h1.15M289.9 355.3h1.15M283.6 357.4h1.15M288.1 349.1h1.15M274.1 343.3h1.15M277.7 353.2h1.15M271.5 354.1h1.15M281.2 356.2h1.15M272.9 342.8h1.15M285.4 347.5h1.15M287.5 358.3h1.15M296.1 352.2h1.15M294.4 357.5h1.15M274.2 354.2h1.15M281.5 355.2h1.15M284.4 356.4h1.15M291.6 347.2h1.15M275.7 357.4h1.15M271.2 351.8h1.15M276.4 346.0h1.15M291.4 356.2h1.15M273.2 356.2h1.15M276.5 347.1h1.15M270.2 359.3h1.15M273.2 353.9h1.15M287.8 343.7h1.15M287.5 347.0h1.15M275.7 344.1h1.15M289.8 348.4h1.15M269.3 344.8h1.15M277.6 349.7h1.15M286.1 343.2h1.15M276.0 348.0h1.15M279.3 346.1h1.15M294.7 343.1h1.15M284.5 343.6h1.15M288.4 352.0h1.15M281.4 352.0h1.15M276.1 358.5h1.15M293.6 358.4h1.15M271.4 344.7h1.15M283.0 353.9h1.15M283.0 345.6h1.15M281.4 345.7h1.15M291.6 345.8h1.15M277.3 353.8h1.15M298.0 354.1h1.15M271.1 342.8h1.15M295.5 346.8h1.15M280.0 352.7h1.15M270.5 348.3h1.15M296.5 344.2h1.15M272.4 355.0h1.15M283.5 360.1h1.15M296.5 351.1h1.15M276.8 348.3h1.15M289.2 347.1h1.15M292.7 356.9h1.15M282.5 344.4h1.15M291.3 355.6h1.15M286.6 356.3h1.15M279.5 350.0h1.15M292.6 345.9h1.15M280.0 344.2h1.15M295.9 351.8h1.15M286.5 356.4h1.15M274.3 356.4h1.15M283.5 352.3h1.15M272.8 348.7h1.15M290.5 342.7h1.15M286.4 346.2h1.15M291.7 357.1h1.15M275.3 350.1h1.15M281.4 341.3h1.15M273.9 354.7h1.15M272.4 342.5h1.15M287.9 350.8h1.15M270.1 344.0h1.15M286.3 355.3h1.15M285.5 353.2h1.15M287.9 353.3h1.15M286.2 345.6h1.15M284.6 345.9h1.15M290.7 358.3h1.15M287.8 350.9h1.15M276.5 358.3h1.15M271.9 347.5h1.15M278.2 351.8h1.15M279.4 343.9h1.15M270.5 354.9h1.15M275.7 358.3h1.15M275.6 354.6h1.15M271.6 343.5h1.15M291.4 357.2h1.15M288.0 346.7h1.15M273.3 356.1h1.15M270.1 345.2h1.15M274.2 360.1h1.15M277.5 349.2h1.15M269.8 356.8h1.15M292.6 355.3h1.15M285.4 355.8h1.15M278.7 348.5h1.15M285.5 342.1h1.15M275.7 357.1h1.15M269.6 354.1h1.15M282.5 353.7h1.15M291.9 346.7h1.15M270.0 345.9h1.15M277.1 341.9h1.15M287.4 347.5h1.15M271.1 342.8h1.15M280.2 344.4h1.15M284.2 359.8h1.15M274.6 347.5h1.15M281.6 349.7h1.15M295.2 347.0h1.15M269.5 357.1h1.15M274.0 352.0h1.15M289.3 344.2h1.15M289.0 343.6h1.15M269.7 344.7h1.15M280.3 344.4h1.15M276.7 347.2h1.15M280.8 346.2h1.15M275.1 348.7h1.15M280.3 350.1h1.15M289.4 343.1h1.15M282.5 350.0h1.15M272.8 345.4h1.15M276.2 344.5h1.15M271.3 350.1h1.15M271.4 354.5h1.15M286.3 358.0h1.15M276.5 356.4h1.15M275.7 346.8h1.15M283.0 345.9h1.15M289.4 358.3h1.15M283.8 342.8h1.15M289.1 350.1h1.15M291.7 350.6h1.15M287.6 344.9h1.15M293.6 356.3h1.15M280.4 345.5h1.15M276.1 357.0h1.15M271.7 343.2h1.15M282.5 345.7h1.15M292.0 349.0h1.15M283.7 357.8h1.15M284.2 359.4h1.15M275.3 358.9h1.15M270.2 349.2h1.15M290.8 346.4h1.15M293.9 351.4h1.15M281.0 351.6h1.15M277.5 357.2h1.15M279.0 345.3h1.15M282.1 355.7h1.15M286.5 345.0h1.15M291.8 344.1h1.15M282.4 358.1h1.15M273.4 348.6h1.15M278.3 353.9h1.15M286.9 350.6h1.15M285.3 348.5h1.15M285.1 349.6h1.15M287.2 348.7h1.15M295.3 349.2h1.15M294.2 353.5h1.15M275.7 357.3h1.15M282.7 354.8h1.15M283.4 358.1h1.15M281.4 354.6h1.15M280.5 348.7h1.15M284.2 358.6h1.15M288.6 344.4h1.15M284.7 352.5h1.15M288.8 349.9h1.15M279.3 348.1h1.15M293.9 355.1h1.15M281.2 352.7h1.15M278.1 345.9h1.15M276.8 354.9h1.15M280.4 353.0h1.15M274.2 349.9h1.15M289.4 357.0h1.15M287.3 351.6h1.15M270.1 356.0h1.15M271.8 345.4h1.15M274.5 355.2h1.15M276.4 343.9h1.15M271.9 350.1h1.15M271.4 347.3h1.15M291.9 357.4h1.15M277.2 343.6h1.15M270.8 361.0h1.15M279.6 345.6h1.15M270.8 353.7h1.15M280.9 346.3h1.15M293.4 352.0h1.15M275.0 355.5h1.15M272.0 351.6h1.15M273.4 351.9h1.15M272.5 346.5h1.15M277.1 351.1h1.15M278.0 353.7h1.15M287.9 345.9h1.15M278.7 346.8h1.15M274.0 354.9h1.15M294.3 359.9h1.15M285.1 355.0h1.15M278.8 347.8h1.15M276.4 352.7h1.15M276.7 347.7h1.15M293.1 353.6h1.15M283.7 343.8h1.15M289.2 343.7h1.15M282.9 357.6h1.15M281.9 351.2h1.15M292.9 343.4h1.15M295.3 343.6h1.15M289.2 348.1h1.15M285.0 353.8h1.15M291.0 357.2h1.15M289.6 347.7h1.15M294.1 346.4h1.15M281.0 353.9h1.15M280.2 349.9h1.15M286.0 357.7h1.15M281.0 345.6h1.15M293.9 345.8h1.15M293.1 350.5h1.15M284.8 353.7h1.15M278.7 356.2h1.15M290.0 342.6h1.15M276.2 355.2h1.15M276.9 343.2h1.15M278.9 357.8h1.15M278.4 348.9h1.15M277.8 341.4h1.15M294.0 356.8h1.15M274.4 347.5h1.15M284.5 349.6h1.15M278.5 354.0h1.15M278.9 356.3h1.15M285.7 355.3h1.15M294.8 341.7h1.15M291.4 344.5h1.15M296.2 348.5h1.15M287.9 343.4h1.15M278.7 348.6h1.15M288.6 351.8h1.15M278.9 356.0h1.15M291.7 352.2h1.15M271.3 342.8h1.15M275.5 357.4h1.15M289.2 351.7h1.15M283.2 343.0h1.15M273.2 359.8h1.15M272.3 352.3h1.15M271.0 357.7h1.15M288.6 349.3h1.15M279.1 359.0h1.15M285.8 353.3h1.15M273.6 341.6h1.15M274.8 351.4h1.15M292.3 357.4h1.15M275.5 350.6h1.15M296.5 340.7h1.15M273.6 355.5h1.15M282.1 346.7h1.15M277.6 350.8h1.15M283.4 342.7h1.15M279.5 354.6h1.15M276.4 350.9h1.15M274.5 357.1h1.15M275.3 354.1h1.15M292.0 347.0h1.15M294.7 357.7h1.15M282.7 343.7h1.15M293.4 350.0h1.15M288.6 341.9h1.15M282.5 352.8h1.15M282.7 352.0h1.15M273.0 349.3h1.15M294.7 350.2h1.15M277.6 350.1h1.15M284.7 346.3h1.15M279.9 343.7h1.15M272.3 348.0h1.15M290.6 350.0h1.15M270.5 350.2h1.15M284.7 353.5h1.15M274.0 354.5h1.15M269.3 352.6h1.15M289.8 351.7h1.15M275.9 345.1h1.15M286.0 347.2h1.15M273.3 358.2h1.15M287.9 349.7h1.15M277.6 342.9h1.15M285.9 347.8h1.15M276.9 351.6h1.15M293.8 356.9h1.15M278.0 357.6h1.15M280.7 346.0h1.15M278.7 349.6h1.15M272.9 342.3h1.15M285.9 344.0h1.15M275.1 356.3h1.15M280.9 356.6h1.15M292.1 342.3h1.15M270.4 353.7h1.15M274.3 344.3h1.15M275.2 357.7h1.15M275.2 356.3h1.15M279.1 349.7h1.15M283.9 353.4h1.15M296.3 353.1h1.15M282.7 357.1h1.15M293.0 342.8h1.15M282.5 352.7h1.15M289.3 343.4h1.15M293.1 353.6h1.15M274.0 350.6h1.15M280.2 345.6h1.15M280.8 347.9h1.15M283.8 358.3h1.15M274.1 345.7h1.15M289.4 351.9h1.15M279.1 351.6h1.15M286.6 357.8h1.15M295.3 355.9h1.15M270.6 343.9h1.15M281.8 350.7h1.15M287.1 348.6h1.15M282.4 355.6h1.15M271.7 348.5h1.15M270.3 347.4h1.15M271.2 355.1h1.15M275.5 350.6h1.15M285.2 353.7h1.15M288.9 352.9h1.15M278.9 353.8h1.15M294.6 352.2h1.15M295.5 348.2h1.15M295.1 350.7h1.15M282.7 343.9h1.15M293.2 352.2h1.15M278.0 352.3h1.15M292.2 346.8h1.15M274.2 346.2h1.15M277.1 345.2h1.15M280.8 358.1h1.15M275.7 350.1h1.15M278.7 348.7h1.15M289.0 345.7h1.15M277.1 344.5h1.15M278.9 357.2h1.15M272.2 358.2h1.15M279.2 344.1h1.15M280.7 358.1h1.15M284.4 347.9h1.15M286.8 354.9h1.15M278.9 357.9h1.15M283.0 355.0h1.15M283.8 345.8h1.15M274.5 345.6h1.15M278.1 353.9h1.15M287.0 346.0h1.15M271.4 353.2h1.15M272.6 344.2h1.15M275.1 353.3h1.15M277.3 342.0h1.15M284.9 354.0h1.15M285.4 351.8h1.15M276.0 344.5h1.15M287.0 357.9h1.15M289.7 359.0h1.15M272.6 346.9h1.15M273.7 353.2h1.15M298.2 341.8h1.15M280.5 344.7h1.15M285.7 345.0h1.15M272.6 344.6h1.15M278.6 344.1h1.15M284.3 354.6h1.15M273.5 342.7h1.15M292.7 349.5h1.15M283.7 358.2h1.15M270.3 345.8h1.15M277.1 354.7h1.15M279.5 354.7h1.15M271.5 349.8h1.15M290.1 357.5h1.15M272.4 357.5h1.15M287.0 358.4h1.15M291.5 355.2h1.15M277.9 343.4h1.15M285.0 345.7h1.15M281.5 346.0h1.15M277.1 346.4h1.15M283.4 353.2h1.15M272.3 351.2h1.15M277.9 346.6h1.15M289.3 349.3h1.15M271.8 345.7h1.15M277.2 348.7h1.15M289.9 357.4h1.15M286.3 343.6h1.15M287.1 344.6h1.15M271.2 353.2h1.15M270.0 358.4h1.15M291.1 343.8h1.15M275.9 359.6h1.15M281.6 345.2h1.15M282.5 344.7h1.15M285.7 346.4h1.15M277.1 355.5h1.15M272.0 345.0h1.15M278.5 356.1h1.15M292.0 349.7h1.15M278.7 354.2h1.15M273.0 351.5h1.15M289.2 349.5h1.15M287.4 347.3h1.15M272.8 349.7h1.15M280.6 353.9h1.15M285.7 355.9h1.15M270.2 347.7h1.15M289.9 353.9h1.15M283.0 348.4h1.15M289.1 359.7h1.15M288.5 347.0h1.15M271.1 343.1h1.15M289.6 346.3h1.15M279.4 355.3h1.15M291.6 346.9h1.15M284.0 356.9h1.15M295.0 349.3h1.15M278.7 359.5h1.15M271.0 346.5h1.15M270.3 343.5h1.15M282.1 355.1h1.15M284.7 346.9h1.15M284.7 358.9h1.15M281.1 342.8h1.15M280.5 347.9h1.15M289.9 342.9h1.15M289.7 345.8h1.15M295.2 352.0h1.15M286.7 343.2h1.15M279.1 352.2h1.15M284.7 346.0h1.15M278.7 348.4h1.15M287.1 343.2h1.15M293.4 355.0h1.15M283.8 341.9h1.15M287.4 352.2h1.15M283.5 362.0h1.15M292.3 356.6h1.15M278.6 353.7h1.15M271.3 345.5h1.15M269.3 349.9h1.15M280.4 344.2h1.15M285.2 347.2h1.15M285.6 348.8h1.15M286.2 354.8h1.15M288.0 356.1h1.15M280.3 342.3h1.15M279.5 357.9h1.15M280.2 345.2h1.15M289.3 349.1h1.15M276.3 349.9h1.15M275.9 360.8h1.15M285.8 351.3h1.15M271.3 345.6h1.15M290.5 356.5h1.15M278.0 354.1h1.15M277.5 345.8h1.15M289.6 344.6h1.15M285.9 343.6h1.15M288.2 353.6h1.15M284.8 355.5h1.15M271.3 357.8h1.15M269.9 346.3h1.15M271.8 349.9h1.15M276.5 347.6h1.15M288.5 344.7h1.15M280.5 343.0h1.15M290.5 354.4h1.15M271.9 358.0h1.15M287.5 342.5h1.15M272.0 351.4h1.15M287.8 344.9h1.15M290.5 349.9h1.15M275.2 342.3h1.15M273.2 343.3h1.15M272.1 355.3h1.15M283.2 350.4h1.15M288.2 355.4h1.15M290.7 350.5h1.15M296.9 354.8h1.15M282.1 358.1h1.15M275.6 342.3h1.15M277.2 344.5h1.15M277.8 356.1h1.15M278.8 356.6h1.15M278.4 344.8h1.15M286.0 357.0h1.15M283.4 354.0h1.15M282.5 345.1h1.15M274.4 347.7h1.15M288.8 347.0h1.15M272.2 356.1h1.15M274.1 345.7h1.15M288.8 344.2h1.15M282.7 352.9h1.15M272.3 356.2h1.15M287.3 345.4h1.15M279.7 355.5h1.15M278.5 355.6h1.15M286.6 345.8h1.15M275.5 355.9h1.15M277.2 342.6h1.15M276.6 349.2h1.15M292.1 354.6h1.15M282.9 343.0h1.15M276.1 347.6h1.15M281.0 351.1h1.15M276.0 352.5h1.15M293.8 352.0h1.15M285.3 347.0h1.15M294.4 346.0h1.15M270.7 357.8h1.15M296.6 344.5h1.15M290.0 342.7h1.15M277.1 345.1h1.15M275.1 356.6h1.15M282.4 357.5h1.15M273.5 342.6h1.15M278.2 354.1h1.15M285.0 343.7h1.15M270.7 343.3h1.15M278.2 353.6h1.15M274.1 352.9h1.15M292.9 352.5h1.15M288.6 356.9h1.15M272.8 350.4h1.15M282.7 357.4h1.15M280.8 350.3h1.15M290.8 351.5h1.15M289.0 345.1h1.15M281.0 348.4h1.15M287.5 345.0h1.15M277.5 344.6h1.15M269.7 352.4h1.15M289.4 349.6h1.15M284.6 355.6h1.15M280.3 344.0h1.15M270.0 352.8h1.15M294.0 343.7h1.15M278.0 359.4h1.15M287.4 344.2h1.15M271.1 352.0h1.15M291.1 345.6h1.15M282.5 352.0h1.15M278.3 352.9h1.15M271.8 350.5h1.15M276.2 350.7h1.15M284.5 348.6h1.15M281.7 347.0h1.15M277.0 352.4h1.15M275.4 341.7h1.15M271.6 345.4h1.15M277.1 345.7h1.15M283.3 344.1h1.15M289.3 353.0h1.15M275.0 359.7h1.15M289.5 360.9h1.15M284.9 357.8h1.15M291.8 355.9h1.15M293.1 348.5h1.15M293.5 353.3h1.15M274.4 351.7h1.15M275.6 344.2h1.15M273.9 346.2h1.15M277.3 342.8h1.15M282.4 342.8h1.15M269.2 342.5h1.15M287.2 349.3h1.15M289.5 346.0h1.15M271.0 343.1h1.15M294.8 352.7h1.15M287.0 350.4h1.15M273.7 356.9h1.15M283.3 345.2h1.15M271.9 360.9h1.15M287.4 355.6h1.15M286.4 357.4h1.15M280.5 347.9h1.15M290.7 353.2h1.15M282.7 354.8h1.15M278.9 352.5h1.15M290.0 344.8h1.15M284.2 357.8h1.15M293.3 358.1h1.15M274.5 349.8h1.15M269.7 349.2h1.15M295.0 346.4h1.15M278.5 348.9h1.15M288.8 347.8h1.15M287.6 342.4h1.15M270.0 356.3h1.15M284.2 344.2h1.15M280.7 357.9h1.15M288.3 357.9h1.15M284.4 344.3h1.15M272.2 350.6h1.15M282.3 343.0h1.15M291.4 356.2h1.15M278.4 349.3h1.15M287.3 342.6h1.15M283.6 348.2h1.15M283.4 352.7h1.15M287.5 347.5h1.15M276.3 349.0h1.15M296.2 349.5h1.15M286.8 354.3h1.15M278.4 343.3h1.15M278.0 345.0h1.15M290.8 346.5h1.15M277.2 356.0h1.15M291.9 342.5h1.15M284.9 348.1h1.15M286.2 357.6h1.15M269.8 350.5h1.15M285.9 343.6h1.15M279.2 344.7h1.15M278.4 351.9h1.15M272.9 350.7h1.15M273.6 355.7h1.15M275.8 355.6h1.15M276.2 356.5h1.15M292.5 355.9h1.15M294.6 353.5h1.15M290.0 347.0h1.15M276.9 344.8h1.15M295.3 353.8h1.15M289.7 354.9h1.15M278.5 347.1h1.15M292.7 345.2h1.15M272.4 356.7h1.15M274.1 354.6h1.15M272.0 343.9h1.15M276.7 356.6h1.15M281.6 343.1h1.15M279.6 355.2h1.15M290.9 353.8h1.15M273.1 347.3h1.15M277.8 346.0h1.15M279.1 356.4h1.15M288.6 348.7h1.15M297.2 351.7h1.15M277.1 350.6h1.15M282.3 358.8h1.15M280.6 352.8h1.15M291.7 347.5h1.15M284.9 349.7h1.15M283.4 357.1h1.15M295.0 355.9h1.15M275.7 350.1h1.15M281.7 355.4h1.15M280.6 351.8h1.15M296.3 348.4h1.15M272.5 350.9h1.15M286.9 358.3h1.15M281.8 349.3h1.15M274.4 352.1h1.15M285.7 346.6h1.15M278.8 349.7h1.15M275.5 345.1h1.15M279.7 356.8h1.15M276.4 349.7h1.15M285.5 343.3h1.15M271.2 353.6h1.15M280.8 355.7h1.15M278.4 351.5h1.15M289.1 350.4h1.15M270.2 352.6h1.15M277.7 346.3h1.15M274.9 355.7h1.15M283.0 348.2h1.15M293.7 348.9h1.15M286.3 358.2h1.15M289.6 344.2h1.15M279.4 356.1h1.15M269.6 356.5h1.15M293.0 346.3h1.15M290.6 348.2h1.15M292.3 358.4h1.15M280.7 341.0h1.15M287.1 352.7h1.15M288.9 349.6h1.15M288.9 345.9h1.15M292.8 353.6h1.15M273.4 355.4h1.15M288.2 347.2h1.15M284.1 357.1h1.15M269.9 357.2h1.15M275.1 349.2h1.15M277.9 352.0h1.15M292.3 349.9h1.15M296.3 357.3h1.15M279.6 358.1h1.15M276.2 355.4h1.15M277.2 354.3h1.15M288.9 350.8h1.15M280.3 348.1h1.15M284.6 344.0h1.15M280.3 355.7h1.15M270.5 352.6h1.15M277.2 350.6h1.15M277.0 346.4h1.15M276.7 345.8h1.15M285.1 353.5h1.15M284.2 348.6h1.15M271.0 346.3h1.15M284.9 343.3h1.15M279.6 348.2h1.15M284.0 356.8h1.15M284.9 348.6h1.15M278.4 347.9h1.15M271.6 355.2h1.15M275.5 342.9h1.15M284.1 345.8h1.15M284.5 342.3h1.15M287.5 357.9h1.15M272.3 354.2h1.15M278.8 349.2h1.15M285.8 350.4h1.15M271.6 353.4h1.15M282.1 340.7h1.15M285.3 343.3h1.15M273.0 350.4h1.15M276.9 349.2h1.15M286.4 346.9h1.15M283.2 356.4h1.15M276.6 352.8h1.15M289.7 348.4h1.15M290.4 341.5h1.15M281.5 354.9h1.15M274.5 349.1h1.15M271.8 357.4h1.15M280.3 356.2h1.15M285.5 350.9h1.15M273.4 346.3h1.15M276.1 345.5h1.15M272.0 356.5h1.15M289.2 349.1h1.15M292.0 353.5h1.15M283.3 343.3h1.15M286.1 347.9h1.15M282.6 354.6h1.15M279.4 357.7h1.15M286.8 353.5h1.15M270.6 342.7h1.15M286.8 343.5h1.15M279.2 343.7h1.15M276.5 350.9h1.15M273.7 347.4h1.15M287.7 347.8h1.15M272.7 345.4h1.15M272.8 351.6h1.15M273.8 354.0h1.15M296.9 353.3h1.15M282.8 356.6h1.15M272.7 355.5h1.15M279.8 353.9h1.15M293.1 359.1h1.15M289.4 357.5h1.15M287.9 352.0h1.15M282.0 357.5h1.15M276.2 351.8h1.15M279.1 355.6h1.15M274.7 347.9h1.15M297.9 352.3h1.15M272.6 352.6h1.15M288.6 343.1h1.15M273.0 345.3h1.15M278.5 357.0h1.15M284.9 352.0h1.15M277.6 345.1h1.15M277.2 357.1h1.15M274.2 344.7h1.15M275.7 348.9h1.15M292.3 348.9h1.15M292.7 357.3h1.15M276.8 359.0h1.15M273.1 358.6h1.15M287.4 352.9h1.15M277.3 354.6h1.15M274.9 359.0h1.15M285.9 346.6h1.15M278.1 348.1h1.15M293.2 356.8h1.15M289.1 345.2h1.15M277.0 355.8h1.15M287.0 346.5h1.15M279.6 358.3h1.15M277.0 344.5h1.15M289.1 347.4h1.15M272.3 355.5h1.15M289.9 344.0h1.15M287.8 345.6h1.15M282.5 346.6h1.15M274.2 353.1h1.15M284.7 356.6h1.15M272.6 346.5h1.15M284.8 351.5h1.15M291.3 343.3h1.15M278.9 352.2h1.15M278.1 353.6h1.15M272.5 355.3h1.15M281.6 353.1h1.15M278.9 345.2h1.15M281.4 348.8h1.15M286.0 349.1h1.15M279.2 356.4h1.15M285.5 351.8h1.15M272.8 344.2h1.15M281.6 344.2h1.15M290.7 356.7h1.15M278.8 354.8h1.15M290.3 345.1h1.15M279.0 354.5h1.15M290.3 354.8h1.15M286.1 347.0h1.15M296.1 344.0h1.15M275.1 359.3h1.15M286.0 349.2h1.15M286.1 357.3h1.15M272.3 353.4h1.15M288.7 353.7h1.15M269.5 355.1h1.15M273.8 354.9h1.15M274.0 357.0h1.15M291.9 347.0h1.15M289.9 350.4h1.15M282.9 355.5h1.15M285.3 358.8h1.15M286.0 342.7h1.15M283.7 349.0h1.15M286.4 350.5h1.15M271.9 346.3h1.15M289.1 351.2h1.15M294.9 351.1h1.15M285.6 356.2h1.15M282.3 350.8h1.15M290.9 353.3h1.15M275.5 346.4h1.15M279.6 347.2h1.15M269.7 357.3h1.15M291.3 352.7h1.15M274.4 356.3h1.15M281.4 357.8h1.15M279.0 350.7h1.15M270.0 357.5h1.15M280.4 352.2h1.15M279.2 357.2h1.15M281.0 357.7h1.15M291.0 355.3h1.15M269.9 356.4h1.15M283.2 342.4h1.15M269.3 349.1h1.15M277.0 351.2h1.15M271.5 353.7h1.15M288.7 351.5h1.15M290.8 357.2h1.15M269.9 342.9h1.15M270.7 351.4h1.15M285.3 352.1h1.15M279.5 346.7h1.15M272.2 361.4h1.15M282.9 345.5h1.15M290.9 348.0h1.15M288.0 355.7h1.15M271.8 341.1h1.15M273.6 349.6h1.15M274.8 352.1h1.15M282.2 344.1h1.15M277.0 356.4h1.15M269.4 352.2h1.15M280.3 349.5h1.15M276.4 358.3h1.15M275.6 353.7h1.15M272.5 349.6h1.15M278.8 345.2h1.15M281.4 347.8h1.15M272.3 349.8h1.15M291.9 344.7h1.15M287.8 350.2h1.15M283.6 352.4h1.15M282.1 350.0h1.15M285.9 358.5h1.15M286.1 346.2h1.15M288.4 346.6h1.15M290.2 357.6h1.15M282.5 356.5h1.15M275.4 358.3h1.15M271.2 350.2h1.15M291.8 353.3h1.15M269.2 343.2h1.15M282.3 351.0h1.15M288.4 356.3h1.15M281.8 360.3h1.15M275.3 357.7h1.15M290.7 358.0h1.15M291.9 342.9h1.15M288.5 349.8h1.15M287.1 355.9h1.15M290.9 354.9h1.15M277.9 342.9h1.15M282.6 351.0h1.15M295.2 356.0h1.15M272.0 346.9h1.15M281.0 351.1h1.15M288.3 359.3h1.15M287.7 350.9h1.15M290.3 345.2h1.15M285.3 352.7h1.15M269.4 346.3h1.15M274.5 360.6h1.15M282.4 358.6h1.15M284.3 350.9h1.15M281.8 353.8h1.15M295.0 349.1h1.15M286.4 344.2h1.15M278.7 343.4h1.15M291.0 345.9h1.15M291.1 346.2h1.15M286.4 346.9h1.15M273.7 352.7h1.15M277.2 343.5h1.15M278.4 350.3h1.15M288.6 355.2h1.15M280.3 358.3h1.15M272.6 353.1h1.15M273.2 350.5h1.15M269.4 348.7h1.15M275.4 346.8h1.15M276.6 349.2h1.15M280.1 342.9h1.15M294.7 342.6h1.15M276.3 349.9h1.15M275.4 356.9h1.15M272.9 351.6h1.15M272.8 352.5h1.15M289.7 348.6h1.15M271.3 356.0h1.15M295.5 354.9h1.15M274.4 345.8h1.15M295.3 348.7h1.15M286.7 346.3h1.15M280.8 355.3h1.15M274.8 347.0h1.15M288.7 351.0h1.15M295.1 351.2h1.15M274.3 345.0h1.15M271.5 356.8h1.15M289.1 352.1h1.15M285.3 344.1h1.15M286.4 343.9h1.15M287.1 348.0h1.15M282.1 356.0h1.15M285.6 352.8h1.15M298.4 346.1h1.15M286.5 346.3h1.15M290.8 353.9h1.15M291.2 359.8h1.15M284.3 353.1h1.15M274.2 347.4h1.15M284.1 356.7h1.15M282.6 358.8h1.15M281.0 342.9h1.15M286.2 360.1h1.15M279.0 352.3h1.15M276.0 344.7h1.15M286.4 350.9h1.15M270.4 356.0h1.15M276.4 354.1h1.15M273.5 360.0h1.15M280.6 347.1h1.15M277.6 346.2h1.15M277.4 358.3h1.15M272.7 355.3h1.15M271.5 355.1h1.15M290.9 356.8h1.15M280.1 350.1h1.15M277.0 350.5h1.15M270.7 356.6h1.15M286.6 345.0h1.15M283.8 344.3h1.15M277.2 354.2h1.15M284.7 356.4h1.15M270.7 345.2h1.15M276.5 350.8h1.15M286.9 350.1h1.15M273.5 351.2h1.15M278.6 357.6h1.15M297.2 348.8h1.15M282.9 354.5h1.15M284.6 341.9h1.15M278.7 348.7h1.15M274.7 357.9h1.15M281.5 350.3h1.15M271.2 358.5h1.15M274.1 344.3h1.15M276.4 353.0h1.15M292.7 344.2h1.15M290.4 350.7h1.15M283.6 356.0h1.15M272.0 344.0h1.15M281.4 346.4h1.15M287.3 343.4h1.15M279.3 352.6h1.15M293.6 342.6h1.15M275.8 352.4h1.15M288.2 342.8h1.15M269.5 342.6h1.15M272.1 346.4h1.15M274.7 349.3h1.15M284.6 344.2h1.15M274.6 354.4h1.15M278.0 348.7h1.15M281.3 343.1h1.15M282.9 353.5h1.15M283.3 352.2h1.15M282.1 356.1h1.15M286.9 345.0h1.15M285.4 356.4h1.15M272.7 343.1h1.15M279.2 347.4h1.15M289.9 352.0h1.15M288.1 356.7h1.15M278.3 346.8h1.15M278.3 346.3h1.15M271.9 355.2h1.15M272.8 356.3h1.15M278.4 350.4h1.15M283.9 349.3h1.15M269.7 343.1h1.15M270.8 342.0h1.15M271.8 351.4h1.15M280.1 345.2h1.15M281.1 348.7h1.15M272.3 343.3h1.15M280.8 342.9h1.15M273.7 353.5h1.15M271.9 345.7h1.15M294.7 358.0h1.15M289.7 348.3h1.15M272.8 356.1h1.15M292.8 359.5h1.15M297.0 356.9h1.15M273.5 355.2h1.15M286.9 348.4h1.15M296.8 354.3h1.15M273.5 346.7h1.15M278.3 351.6h1.15M285.6 347.3h1.15M280.2 354.8h1.15M283.7 356.6h1.15M288.6 344.1h1.15M273.7 364.1h1.15M283.9 350.9h1.15M274.8 344.7h1.15M278.6 351.7h1.15M284.7 350.5h1.15M280.9 343.0h1.15M279.9 358.5h1.15M274.0 347.1h1.15M293.7 354.5h1.15M277.3 351.3h1.15M292.2 349.2h1.15M280.2 356.6h1.15M290.0 356.7h1.15M271.3 353.6h1.15M285.5 346.7h1.15M276.0 348.1h1.15M297.7 342.4h1.15M272.2 351.2h1.15M272.9 346.5h1.15M295.5 346.5h1.15M289.9 358.4h1.15M278.6 355.2h1.15M280.3 346.0h1.15M293.1 351.9h1.15M284.2 354.1h1.15M284.4 341.6h1.15M271.1 354.4h1.15M274.0 358.1h1.15M294.3 342.4h1.15M283.8 345.8h1.15M283.8 343.4h1.15M283.3 351.9h1.15M274.5 342.4h1.15M288.4 350.0h1.15M285.2 344.9h1.15M273.6 355.4h1.15M282.3 357.6h1.15M273.4 343.3h1.15M289.0 346.8h1.15M282.0 349.6h1.15M281.9 350.9h1.15M277.7 359.4h1.15M275.1 348.2h1.15M297.7 351.2h1.15M272.9 350.5h1.15M288.5 346.2h1.15M286.9 352.5h1.15M278.2 348.2h1.15M287.8 354.7h1.15M276.3 355.4h1.15M290.5 343.9h1.15M271.4 356.5h1.15M292.5 356.2h1.15M283.7 344.5h1.15M271.5 343.6h1.15M299.4 356.4h1.15M271.2 346.4h1.15M280.6 358.9h1.15M269.9 358.2h1.15M288.0 349.4h1.15M273.6 347.0h1.15M272.9 351.8h1.15M286.7 355.9h1.15M275.6 351.5h1.15M279.1 350.4h1.15M285.1 345.9h1.15M274.8 355.4h1.15M276.3 343.1h1.15M271.7 350.6h1.15M272.6 357.6h1.15M281.1 349.3h1.15M284.6 356.7h1.15M286.8 347.2h1.15M274.9 356.1h1.15M280.7 351.4h1.15M275.3 354.4h1.15M274.1 342.9h1.15M269.9 353.1h1.15M287.8 342.1h1.15M281.7 356.5h1.15M272.9 352.0h1.15M283.3 349.9h1.15M281.1 343.9h1.15M282.2 350.1h1.15M270.5 350.6h1.15M287.0 346.4h1.15M284.2 344.5h1.15M273.6 342.8h1.15M284.0 351.9h1.15M282.3 352.5h1.15M275.8 342.5h1.15M271.9 346.2h1.15M273.3 353.4h1.15M281.7 351.4h1.15M285.6 349.2h1.15M290.2 351.3h1.15M279.9 344.1h1.15M285.6 356.5h1.15M274.8 355.5h1.15M283.8 345.6h1.15M279.4 354.2h1.15M282.8 356.5h1.15M281.1 346.2h1.15M283.9 348.4h1.15M289.3 358.0h1.15M278.0 357.9h1.15M275.5 345.9h1.15M273.8 350.9h1.15M270.5 350.8h1.15M274.5 357.1h1.15M282.7 352.2h1.15M272.6 353.0h1.15M271.9 347.6h1.15M291.8 352.3h1.15M274.8 353.9h1.15M281.9 350.1h1.15M291.8 352.5h1.15M280.6 351.1h1.15M289.5 345.2h1.15M278.7 358.4h1.15M280.3 340.7h1.15M271.4 343.5h1.15M275.1 353.7h1.15M275.7 350.7h1.15M273.1 344.4h1.15M292.9 350.5h1.15M271.2 353.3h1.15M274.0 344.6h1.15M291.1 343.7h1.15M280.4 348.4h1.15M280.1 348.2h1.15M276.0 355.9h1.15M273.7 346.9h1.15M271.7 350.8h1.15M286.2 358.5h1.15M273.9 353.8h1.15M284.0 350.1h1.15M288.0 342.7h1.15M292.1 356.0h1.15M290.6 354.8h1.15M284.6 349.7h1.15M274.4 344.7h1.15M277.2 349.0h1.15M269.8 346.7h1.15M270.2 345.7h1.15M281.2 360.6h1.15M286.6 353.3h1.15M281.4 350.7h1.15M275.8 356.1h1.15M294.9 350.8h1.15M286.6 342.7h1.15M282.7 342.4h1.15M277.9 345.0h1.15M278.3 349.2h1.15M273.1 349.6h1.15M285.3 358.3h1.15M279.7 344.0h1.15M291.2 355.5h1.15M286.2 355.2h1.15M292.1 357.0h1.15M271.8 356.3h1.15M276.1 355.5h1.15M282.5 344.1h1.15M286.1 353.3h1.15M277.3 348.1h1.15M291.8 351.8h1.15M270.8 350.8h1.15M287.5 358.6h1.15M289.2 341.6h1.15M274.7 342.4h1.15M278.0 354.2h1.15M280.0 344.3h1.15M273.2 353.6h1.15M282.7 357.0h1.15M288.5 343.0h1.15M276.5 342.9h1.15M278.9 350.6h1.15M292.4 357.4h1.15M273.4 356.5h1.15M287.4 346.4h1.15M287.8 349.0h1.15M283.5 348.4h1.15M273.0 353.8h1.15M287.0 355.3h1.15M283.9 358.0h1.15M280.9 341.8h1.15M271.1 355.1h1.15M284.9 350.5h1.15M292.2 350.9h1.15M275.7 350.9h1.15M295.7 350.7h1.15M286.9 350.0h1.15M284.7 356.7h1.15M284.9 353.5h1.15M272.8 347.6h1.15M280.0 347.3h1.15M280.5 357.4h1.15M274.1 357.9h1.15M280.6 355.5h1.15M278.9 355.5h1.15M281.8 350.0h1.15M291.3 354.9h1.15M274.5 342.7h1.15M275.3 345.4h1.15M283.7 353.0h1.15M281.7 353.6h1.15M279.2 356.0h1.15M292.1 346.8h1.15M285.9 347.1h1.15M282.1 341.9h1.15M293.1 346.6h1.15M271.5 354.2h1.15M275.7 343.2h1.15M273.8 353.2h1.15M271.8 347.4h1.15M277.9 354.6h1.15M270.3 344.6h1.15M291.6 353.6h1.15M293.6 344.6h1.15M292.8 345.1h1.15M285.6 343.0h1.15M276.9 348.4h1.15M283.0 355.4h1.15M286.4 344.7h1.15M281.9 360.4h1.15M284.3 355.5h1.15M270.1 355.4h1.15M275.8 346.2h1.15M284.8 346.1h1.15M272.2 349.8h1.15M284.3 356.1h1.15M270.1 356.1h1.15M278.4 351.4h1.15M286.9 355.6h1.15M273.6 344.7h1.15M292.8 357.5h1.15M281.4 359.1h1.15M285.4 349.3h1.15M289.5 350.8h1.15M296.3 345.9h1.15M273.6 349.3h1.15M290.7 357.9h1.15M282.2 342.6h1.15M281.9 344.7h1.15M278.3 351.0h1.15M270.1 353.4h1.15M281.5 350.3h1.15M280.5 342.1h1.15M287.1 343.0h1.15M281.1 350.8h1.15M269.9 353.9h1.15M278.3 343.5h1.15M281.2 344.7h1.15M272.4 351.8h1.15M277.7 342.8h1.15M271.0 346.5h1.15M276.2 358.0h1.15M278.6 344.5h1.15M295.9 348.2h1.15M298.2 352.3h1.15M274.9 347.8h1.15M278.9 342.8h1.15M281.3 349.3h1.15M275.8 347.9h1.15M292.1 341.5h1.15M271.5 345.4h1.15M296.5 349.8h1.15M276.6 347.6h1.15M288.6 349.3h1.15M285.7 341.8h1.15M285.2 345.8h1.15M293.2 357.3h1.15M288.2 351.4h1.15M273.2 343.6h1.15M274.7 359.2h1.15M280.2 346.7h1.15M287.2 347.8h1.15M293.3 344.3h1.15M290.4 345.7h1.15M274.7 347.7h1.15M280.2 341.9h1.15M288.6 354.6h1.15M286.1 353.7h1.15M280.1 352.4h1.15M277.5 345.4h1.15M293.3 352.2h1.15M279.2 359.9h1.15M272.3 356.8h1.15M270.7 346.1h1.15M272.9 354.4h1.15M286.7 347.2h1.15M271.2 354.7h1.15M283.6 358.7h1.15M283.4 342.3h1.15M278.8 357.8h1.15M270.7 344.8h1.15M291.9 353.3h1.15M287.3 342.4h1.15M277.5 351.2h1.15M290.7 343.6h1.15M280.1 351.7h1.15M278.0 342.7h1.15M272.6 348.0h1.15M280.1 354.7h1.15M285.9 354.0h1.15M276.2 343.6h1.15M281.0 353.3h1.15M275.3 347.0h1.15M273.9 343.6h1.15M290.7 357.9h1.15M284.1 358.3h1.15M289.0 345.0h1.15M285.0 354.7h1.15M286.2 344.1h1.15M273.5 342.6h1.15M276.1 342.7h1.15M270.3 359.0h1.15M285.6 352.9h1.15M281.1 355.1h1.15M271.0 351.7h1.15M291.0 354.4h1.15M280.8 357.1h1.15M280.4 350.3h1.15M277.9 353.0h1.15M273.9 358.6h1.15M288.6 347.3h1.15M275.4 347.7h1.15M271.3 357.7h1.15M273.7 344.8h1.15M278.9 347.0h1.15M289.6 351.2h1.15M278.6 352.9h1.15M269.8 352.4h1.15M284.3 352.0h1.15M291.1 350.0h1.15M275.7 347.3h1.15M281.1 350.2h1.15M271.3 352.0h1.15M274.0 348.4h1.15M280.7 356.0h1.15M287.0 358.5h1.15M282.5 344.9h1.15M276.2 353.9h1.15M290.5 345.0h1.15M269.8 357.3h1.15M273.8 359.4h1.15M269.9 355.3h1.15M279.0 354.3h1.15M280.3 355.6h1.15M275.9 359.4h1.15M272.1 354.1h1.15M280.6 344.9h1.15M279.6 355.0h1.15M273.9 349.9h1.15M278.0 355.3h1.15M269.5 348.0h1.15M286.5 354.7h1.15M274.1 347.6h1.15M286.5 356.9h1.15M283.7 346.0h1.15M289.9 353.7h1.15M284.9 355.3h1.15M275.7 349.1h1.15M270.5 352.5h1.15M275.1 345.1h1.15M283.3 361.4h1.15M274.6 348.7h1.15M287.4 354.4h1.15M278.3 348.5h1.15M293.0 358.5h1.15M277.7 356.9h1.15M285.2 355.9h1.15M291.3 349.3h1.15M280.3 349.2h1.15M286.2 347.4h1.15M292.4 350.6h1.15M275.9 356.2h1.15M288.7 352.8h1.15M274.8 348.3h1.15M286.7 351.3h1.15M279.1 354.4h1.15M280.2 354.6h1.15M280.6 356.1h1.15M286.0 353.6h1.15M285.9 342.7h1.15M281.6 356.9h1.15M287.3 352.6h1.15M281.7 355.9h1.15M273.2 347.6h1.15M276.8 344.3h1.15M277.3 357.6h1.15M274.4 348.6h1.15M288.7 353.3h1.15M273.8 351.9h1.15M270.7 343.6h1.15M274.1 343.5h1.15M271.9 356.6h1.15M288.6 350.8h1.15M289.1 356.0h1.15M278.4 353.5h1.15M282.4 346.0h1.15M280.0 345.6h1.15M283.7 351.9h1.15M284.0 352.9h1.15M289.8 347.4h1.15M279.2 356.6h1.15M283.1 350.0h1.15M281.2 356.1h1.15M278.4 343.4h1.15M290.2 354.1h1.15M276.8 343.4h1.15M284.2 343.8h1.15M286.1 344.5h1.15M272.2 350.1h1.15M279.0 352.0h1.15M282.9 353.9h1.15M284.5 351.9h1.15M269.7 349.8h1.15M274.0 351.5h1.15M291.7 357.2h1.15M270.9 345.2h1.15M288.5 343.1h1.15M273.3 351.2h1.15M283.0 342.8h1.15M285.3 344.1h1.15M270.9 349.0h1.15M274.3 345.2h1.15M291.5 343.7h1.15M289.0 350.3h1.15M291.1 356.2h1.15M282.5 356.2h1.15M280.7 343.1h1.15M275.4 357.5h1.15M278.6 358.2h1.15M290.2 348.4h1.15M278.0 360.7h1.15M287.3 347.3h1.15M270.8 354.9h1.15M272.8 347.1h1.15M272.4 358.9h1.15M290.1 344.1h1.15M271.3 344.3h1.15M282.2 349.4h1.15M287.7 356.9h1.15M279.1 353.2h1.15M290.1 355.6h1.15M288.2 344.6h1.15M272.1 352.9h1.15M278.5 347.1h1.15M284.0 357.6h1.15M278.4 354.2h1.15M286.5 341.6h1.15M282.1 358.1h1.15M274.0 349.0h1.15M284.6 353.5h1.15M286.4 354.4h1.15M291.0 349.9h1.15M272.6 357.9h1.15M289.5 347.2h1.15M290.0 353.0h1.15M284.6 344.7h1.15M271.5 357.8h1.15M285.9 347.9h1.15M270.4 354.3h1.15M273.7 345.7h1.15M292.4 354.8h1.15M288.0 356.5h1.15M289.9 356.4h1.15M287.1 357.0h1.15M288.0 354.0h1.15M281.4 349.4h1.15M279.0 344.9h1.15M277.1 358.6h1.15M285.1 347.7h1.15M291.1 353.8h1.15M284.0 354.7h1.15M287.7 347.0h1.15M274.9 347.5h1.15M269.6 349.3h1.15M279.5 344.1h1.15M277.0 358.1h1.15M280.4 344.5h1.15M297.2 349.4h1.15M282.0 350.0h1.15M295.5 353.5h1.15M274.0 343.4h1.15M296.0 353.4h1.15M291.6 346.7h1.15M279.2 357.2h1.15M273.2 349.4h1.15M295.3 342.8h1.15M293.6 352.9h1.15M289.6 350.2h1.15M286.0 344.3h1.15M273.7 350.4h1.15M286.4 348.2h1.15M284.0 355.0h1.15M278.6 352.1h1.15M272.5 353.4h1.15M288.0 342.3h1.15M278.4 343.6h1.15M271.6 346.2h1.15M275.8 342.0h1.15M296.0 349.1h1.15M281.9 347.2h1.15M280.0 346.4h1.15M282.2 350.7h1.15M270.9 351.7h1.15M276.2 351.6h1.15M280.3 356.6h1.15M271.2 344.1h1.15M286.0 349.2h1.15M288.2 347.7h1.15M271.0 356.7h1.15M287.4 348.8h1.15M279.0 351.7h1.15M279.6 357.1h1.15M283.4 344.4h1.15M288.6 353.7h1.15M278.2 346.9h1.15M291.2 349.2h1.15M271.2 346.7h1.15M291.0 343.1h1.15M276.1 350.0h1.15M296.0 358.3h1.15M269.3 351.1h1.15M270.8 345.0h1.15M286.8 348.7h1.15M283.3 345.3h1.15M289.5 358.2h1.15M272.4 347.1h1.15M280.3 357.0h1.15M272.3 352.6h1.15M277.0 349.7h1.15M296.2 343.7h1.15M280.1 349.5h1.15M281.1 343.2h1.15M288.9 344.4h1.15M281.9 346.8h1.15M285.3 351.4h1.15M281.1 357.4h1.15M290.3 350.1h1.15M280.3 348.5h1.15M289.9 346.9h1.15M279.6 357.5h1.15M290.3 352.5h1.15M273.5 352.8h1.15M288.9 354.8h1.15M285.2 358.5h1.15M292.7 353.7h1.15M280.9 359.9h1.15M287.4 348.5h1.15M275.5 352.7h1.15M282.1 350.2h1.15M288.0 353.4h1.15M281.5 344.6h1.15M282.7 352.7h1.15M278.1 354.1h1.15M283.8 350.4h1.15M284.9 347.4h1.15M276.4 358.6h1.15M291.8 355.9h1.15M289.7 342.1h1.15M283.3 350.9h1.15M272.5 343.8h1.15M279.1 352.2h1.15M283.4 345.4h1.15M281.7 356.0h1.15M283.2 349.5h1.15M273.7 345.5h1.15M278.0 350.7h1.15M270.3 358.2h1.15M274.3 346.3h1.15M294.3 344.3h1.15M294.1 354.1h1.15M275.9 355.1h1.15M282.5 344.4h1.15M290.5 343.7h1.15M275.9 352.7h1.15M273.5 349.5h1.15M271.0 357.6h1.15M286.4 354.7h1.15M292.0 348.1h1.15M293.0 347.4h1.15M285.8 353.0h1.15M274.5 357.7h1.15M277.9 356.9h1.15M275.5 352.6h1.15M278.6 350.7h1.15M280.1 360.8h1.15M270.0 354.4h1.15M285.8 358.8h1.15M285.6 357.4h1.15M281.7 357.4h1.15M298.3 346.9h1.15M273.9 350.9h1.15M298.5 351.0h1.15M270.2 344.7h1.15M280.1 354.1h1.15M280.8 351.8h1.15M278.8 353.9h1.15M283.1 357.9h1.15M275.3 351.5h1.15M286.4 354.3h1.15M282.8 347.7h1.15M274.9 351.1h1.15M280.3 352.6h1.15M284.9 348.4h1.15M280.1 357.8h1.15M276.2 357.8h1.15M294.4 354.2h1.15M289.8 346.3h1.15M289.2 351.1h1.15M276.6 347.6h1.15M284.6 345.4h1.15M271.9 354.6h1.15M290.1 346.3h1.15M278.3 346.4h1.15M269.6 345.1h1.15M284.4 346.3h1.15M275.6 344.3h1.15M289.3 347.8h1.15M272.5 351.0h1.15M284.1 345.5h1.15M282.6 343.1h1.15M290.5 358.4h1.15M281.5 350.3h1.15M273.5 347.8h1.15M292.4 349.0h1.15M275.9 355.4h1.15M290.2 357.6h1.15M275.1 349.0h1.15M291.8 343.0h1.15M285.5 343.5h1.15M288.6 353.1h1.15M274.4 357.4h1.15M271.0 347.7h1.15M283.1 343.3h1.15M272.8 352.9h1.15M270.1 348.1h1.15M276.7 350.1h1.15M273.0 354.1h1.15M285.9 354.5h1.15M279.3 352.8h1.15M275.8 343.6h1.15M288.5 356.4h1.15M274.6 346.9h1.15M284.4 354.3h1.15M272.4 355.4h1.15M276.9 350.1h1.15M279.4 350.4h1.15M290.6 353.3h1.15M281.2 353.0h1.15M281.8 352.4h1.15M289.1 341.4h1.15M285.7 344.5h1.15M281.8 351.3h1.15M287.2 356.8h1.15M287.7 344.4h1.15M295.7 355.8h1.15M285.9 345.2h1.15M283.8 355.3h1.15M269.8 351.3h1.15M270.0 345.7h1.15M273.3 355.0h1.15M276.0 358.9h1.15M287.5 345.8h1.15M270.6 348.2h1.15M281.2 356.7h1.15M277.9 351.7h1.15M277.8 346.7h1.15M278.3 353.8h1.15M290.3 352.1h1.15M279.5 353.1h1.15M269.2 355.7h1.15M276.0 355.9h1.15M278.6 341.1h1.15M282.8 348.6h1.15M276.8 344.5h1.15M273.2 357.8h1.15M277.4 352.1h1.15M277.6 356.1h1.15M271.4 347.7h1.15M285.6 349.8h1.15M278.0 351.9h1.15M289.7 347.4h1.15M290.7 353.9h1.15M297.5 351.3h1.15M293.7 345.5h1.15M281.9 347.8h1.15M269.7 350.5h1.15M283.1 343.3h1.15M271.7 354.7h1.15M271.8 347.7h1.15M290.5 357.5h1.15M277.3 348.6h1.15M273.6 360.1h1.15M291.4 348.8h1.15M291.0 344.2h1.15M286.0 347.1h1.15M278.2 349.3h1.15M285.9 351.4h1.15M284.8 345.6h1.15M275.7 347.2h1.15M270.4 351.8h1.15M272.7 349.8h1.15M288.2 355.3h1.15M285.9 354.5h1.15M280.5 343.1h1.15M276.8 343.4h1.15M281.7 353.5h1.15M293.0 344.0h1.15M275.7 346.9h1.15M288.1 344.2h1.15M277.3 352.0h1.15M281.3 343.5h1.15M275.8 343.5h1.15M284.5 342.6h1.15M277.9 352.4h1.15M291.6 348.0h1.15M288.2 357.5h1.15M285.3 353.3h1.15M283.9 353.2h1.15M287.4 342.3h1.15M286.0 345.5h1.15M281.8 349.5h1.15M277.0 351.8h1.15M272.3 354.0h1.15M275.1 343.2h1.15M283.5 349.2h1.15M287.1 343.3h1.15M270.8 357.4h1.15M290.7 344.7h1.15M288.8 348.9h1.15M271.8 353.9h1.15M269.9 356.8h1.15M277.9 350.3h1.15M270.0 351.1h1.15M277.2 351.7h1.15M295.3 343.5h1.15M278.7 349.3h1.15M275.8 356.4h1.15M289.5 356.6h1.15M273.6 346.3h1.15M296.7 359.9h1.15M281.0 359.9h1.15M284.6 355.3h1.15M273.0 356.1h1.15M284.7 358.5h1.15M275.8 343.7h1.15M288.9 350.8h1.15M278.9 352.8h1.15M284.8 358.1h1.15M273.2 347.6h1.15M274.2 351.9h1.15M271.4 350.9h1.15M275.8 344.4h1.15M271.1 342.4h1.15M281.5 351.3h1.15M277.6 357.1h1.15M275.9 349.3h1.15M278.4 344.6h1.15M283.7 346.3h1.15M293.9 353.8h1.15M295.3 347.9h1.15M276.5 354.4h1.15M289.9 355.6h1.15M293.4 347.4h1.15M277.8 350.9h1.15M282.6 342.3h1.15M284.5 353.9h1.15M288.9 360.2h1.15M296.5 343.0h1.15M273.9 357.6h1.15M269.8 347.6h1.15M274.1 356.6h1.15M285.7 350.1h1.15M275.5 344.0h1.15M272.9 344.2h1.15M294.6 358.6h1.15M288.5 354.8h1.15M281.9 353.0h1.15M286.9 347.2h1.15M274.6 352.3h1.15M290.0 352.3h1.15M289.2 356.7h1.15M276.0 350.0h1.15M275.9 358.4h1.15M272.6 350.7h1.15M277.1 352.4h1.15M279.2 349.8h1.15M288.3 349.1h1.15M282.6 353.2h1.15M285.7 357.9h1.15M283.2 349.1h1.15M282.8 348.9h1.15M286.4 353.3h1.15M284.8 341.5h1.15M276.1 358.0h1.15M285.6 350.0h1.15M276.7 348.1h1.15M270.4 349.6h1.15M269.5 352.6h1.15M277.8 348.6h1.15M279.1 355.5h1.15M286.0 347.4h1.15M284.6 347.5h1.15M275.6 355.2h1.15M287.5 344.5h1.15M271.9 354.8h1.15M280.4 357.5h1.15M278.4 352.7h1.15M270.6 352.4h1.15M288.1 352.4h1.15M273.9 342.7h1.15M288.6 353.4h1.15M271.2 348.0h1.15M287.1 345.0h1.15M273.0 362.7h1.15M276.7 351.1h1.15M269.8 357.7h1.15M277.6 349.8h1.15M296.1 353.3h1.15M270.0 348.6h1.15M288.5 343.3h1.15M270.9 343.9h1.15M277.9 353.1h1.15M277.9 347.9h1.15M286.8 352.6h1.15M269.2 345.9h1.15M286.1 349.7h1.15M277.2 355.1h1.15M294.9 351.4h1.15M279.9 350.7h1.15M287.4 354.1h1.15M284.3 349.8h1.15M269.3 357.1h1.15M271.7 353.3h1.15M270.3 345.9h1.15M287.0 344.0h1.15M284.6 355.2h1.15M291.5 349.1h1.15M284.7 354.9h1.15M272.3 346.9h1.15M274.2 360.4h1.15M280.7 352.1h1.15M281.2 346.3h1.15M277.4 354.1h1.15M282.2 354.3h1.15M273.7 346.2h1.15M297.0 345.2h1.15M297.0 355.4h1.15M286.8 353.6h1.15M281.8 356.2h1.15M282.2 348.5h1.15M277.0 357.8h1.15M272.1 350.3h1.15M299.1 352.9h1.15M273.4 344.8h1.15M284.4 341.9h1.15M293.1 341.6h1.15M278.1 358.1h1.15M278.5 345.8h1.15M283.4 344.5h1.15M291.8 355.9h1.15M285.6 346.4h1.15M288.7 355.2h1.15M284.1 346.1h1.15M269.7 349.6h1.15M290.5 358.6h1.15M288.0 349.6h1.15M290.4 346.1h1.15M283.1 352.8h1.15M274.3 347.5h1.15M279.4 346.1h1.15M269.3 348.7h1.15M290.2 343.9h1.15M281.7 352.8h1.15M275.8 357.2h1.15M276.7 344.3h1.15M279.7 344.0h1.15M289.4 354.6h1.15M285.1 355.6h1.15M272.0 357.8h1.15M277.7 342.2h1.15M277.2 351.9h1.15M295.4 345.3h1.15M289.2 347.0h1.15M281.4 352.7h1.15M288.0 356.9h1.15M290.6 352.9h1.15M296.2 343.2h1.15M269.9 356.2h1.15M280.9 349.7h1.15M294.8 345.8h1.15M275.5 346.6h1.15M275.1 344.8h1.15M281.9 343.2h1.15M275.9 342.1h1.15M295.3 350.8h1.15M291.0 361.7h1.15M275.1 350.3h1.15M284.5 357.5h1.15M274.1 351.3h1.15M273.6 352.8h1.15M279.1 343.6h1.15M297.1 354.8h1.15M279.2 348.2h1.15M280.4 354.0h1.15M281.3 354.8h1.15M279.4 356.8h1.15M276.3 346.3h1.15M296.8 351.4h1.15M286.4 356.5h1.15M289.2 353.7h1.15M270.0 342.7h1.15M274.8 349.3h1.15M286.2 346.6h1.15M279.9 345.2h1.15M284.2 356.3h1.15M285.4 352.1h1.15M276.9 354.4h1.15M270.4 357.2h1.15M291.0 349.2h1.15M281.1 349.5h1.15M284.2 356.7h1.15M270.7 341.9h1.15M270.0 355.3h1.15M269.6 343.7h1.15M286.9 355.2h1.15M282.9 357.2h1.15M280.3 347.9h1.15M288.3 354.2h1.15M277.8 354.2h1.15M274.5 354.9h1.15M289.7 346.3h1.15M284.3 348.2h1.15M287.5 355.3h1.15M275.7 353.5h1.15M275.9 349.0h1.15M270.7 353.0h1.15M294.2 353.3h1.15M292.9 351.1h1.15M274.1 344.0h1.15M272.6 347.3h1.15M286.3 346.9h1.15M296.4 352.0h1.15M275.2 346.1h1.15M275.4 343.0h1.15M293.7 343.8h1.15M269.9 348.6h1.15M279.7 351.1h1.15M279.2 344.4h1.15M290.8 346.2h1.15M285.2 350.4h1.15M284.5 344.5h1.15M281.9 344.8h1.15M285.6 351.7h1.15M279.7 355.1h1.15M283.9 356.0h1.15M288.0 350.8h1.15M273.2 346.5h1.15M272.1 359.6h1.15M289.4 345.0h1.15M270.1 351.8h1.15M285.2 347.4h1.15M271.0 345.8h1.15M287.3 354.3h1.15M272.9 342.4h1.15M287.7 350.6h1.15M294.5 352.7h1.15M274.4 356.1h1.15M269.8 349.0h1.15M290.5 357.5h1.15M277.5 344.6h1.15M279.2 358.0h1.15M286.7 343.5h1.15M277.4 351.2h1.15M277.8 354.0h1.15M276.1 350.8h1.15M281.4 348.5h1.15M274.2 354.2h1.15M288.5 352.8h1.15M284.8 357.2h1.15M285.4 346.8h1.15M280.7 341.4h1.15M269.5 343.1h1.15M272.0 342.6h1.15M288.4 351.1h1.15M291.4 344.0h1.15M281.3 353.2h1.15M270.3 350.2h1.15M279.0 342.1h1.15M273.5 346.7h1.15M281.8 355.6h1.15M278.9 349.7h1.15M289.8 357.5h1.15M283.8 358.5h1.15M289.9 347.1h1.15M283.0 346.6h1.15M293.0 353.0h1.15M270.9 350.4h1.15M292.8 356.8h1.15M277.5 355.0h1.15M271.8 351.1h1.15M286.4 356.5h1.15M294.2 342.1h1.15M281.0 345.0h1.15M293.3 345.2h1.15M288.7 346.6h1.15M275.5 354.0h1.15M276.4 345.9h1.15M276.1 346.4h1.15M289.4 349.3h1.15M274.3 344.0h1.15M269.3 343.4h1.15M283.8 352.4h1.15M278.5 349.4h1.15M279.0 345.1h1.15M273.6 347.9h1.15M272.3 345.8h1.15M284.7 350.6h1.15M291.7 346.0h1.15M270.5 348.5h1.15M278.0 345.5h1.15M295.0 346.2h1.15M287.4 350.1h1.15M282.1 361.4h1.15M276.0 342.9h1.15M296.1 358.1h1.15M277.5 347.0h1.15M279.9 355.8h1.15M293.6 346.3h1.15M284.8 352.4h1.15M284.6 351.7h1.15M293.3 353.6h1.15M290.2 355.6h1.15M296.0 353.4h1.15M285.9 346.4h1.15M283.4 355.5h1.15M272.5 352.1h1.15M271.6 352.4h1.15M282.3 348.1h1.15M276.3 348.7h1.15M290.9 347.1h1.15M289.6 345.1h1.15M277.1 345.6h1.15M281.0 357.3h1.15M287.2 348.6h1.15M273.6 351.8h1.15M284.5 347.0h1.15M287.5 347.4h1.15M289.1 343.4h1.15M270.2 345.6h1.15M282.0 353.4h1.15M278.0 357.2h1.15M283.4 353.6h1.15M289.7 348.1h1.15M278.6 358.3h1.15M269.5 348.0h1.15M276.5 349.7h1.15M280.5 343.4h1.15M283.0 340.8h1.15M294.0 346.6h1.15M285.9 347.4h1.15M275.2 345.0h1.15M283.7 352.3h1.15M283.7 350.8h1.15M279.4 348.7h1.15M278.2 347.4h1.15M273.2 349.8h1.15M297.6 351.5h1.15M272.2 343.2h1.15M279.9 350.9h1.15M272.5 347.7h1.15M269.6 351.8h1.15M275.3 344.2h1.15M294.1 345.8h1.15M295.8 345.7h1.15M284.4 354.3h1.15M272.3 344.4h1.15M276.5 350.2h1.15M275.1 344.9h1.15M276.9 355.6h1.15M276.7 354.4h1.15M278.0 343.9h1.15M269.3 353.9h1.15M286.1 353.4h1.15M280.8 349.1h1.15M286.7 360.3h1.15M276.0 342.0h1.15M285.5 356.2h1.15M275.6 354.7h1.15M289.1 344.1h1.15M273.1 347.0h1.15M271.6 348.5h1.15M283.4 355.6h1.15M293.8 353.4h1.15M288.5 352.0h1.15M282.9 356.8h1.15M296.2 350.6h1.15M272.9 354.0h1.15M281.0 353.4h1.15M284.9 352.4h1.15M275.8 343.3h1.15M287.0 346.5h1.15M280.2 350.6h1.15M296.2 348.2h1.15M284.1 353.0h1.15M287.3 357.7h1.15M291.3 342.9h1.15M273.0 354.9h1.15M277.1 342.6h1.15M284.4 347.7h1.15M271.9 353.6h1.15M271.6 353.4h1.15M371.6 362.9h1.15M370.7 358.4h1.15M364.9 348.6h1.15M364.6 345.4h1.15M371.1 354.4h1.15M375.8 357.6h1.15M373.0 348.7h1.15M385.5 358.2h1.15M381.3 355.7h1.15M364.8 352.8h1.15M367.8 359.8h1.15M367.7 352.3h1.15M381.9 357.4h1.15M380.6 360.2h1.15M375.1 343.5h1.15M369.3 355.4h1.15M381.4 358.9h1.15M361.2 347.8h1.15M375.2 350.3h1.15M364.2 348.6h1.15M363.4 342.3h1.15M366.1 349.8h1.15M375.8 349.8h1.15M384.4 358.7h1.15M378.3 351.9h1.15M372.3 344.9h1.15M374.5 359.1h1.15M384.0 352.6h1.15M380.0 357.2h1.15M379.8 363.4h1.15M376.0 345.7h1.15M368.1 342.7h1.15M373.3 346.4h1.15M369.9 353.2h1.15M372.3 341.8h1.15M370.1 359.1h1.15M370.8 341.8h1.15M375.1 359.9h1.15M368.8 345.6h1.15M366.4 343.7h1.15M379.4 352.4h1.15M379.9 354.5h1.15M381.2 361.3h1.15M386.2 340.0h1.15M362.9 346.4h1.15M363.9 341.8h1.15M361.7 359.3h1.15M376.0 355.6h1.15M361.1 346.7h1.15M371.7 347.7h1.15M369.8 351.0h1.15M366.7 355.1h1.15M375.3 341.9h1.15M377.5 348.5h1.15M370.8 341.5h1.15M379.6 346.4h1.15M371.2 353.8h1.15M364.4 348.2h1.15M371.3 361.7h1.15M382.4 346.0h1.15M365.1 344.7h1.15M382.5 361.0h1.15M368.5 364.1h1.15M369.3 350.6h1.15M370.6 360.5h1.15M379.8 348.5h1.15M378.6 352.0h1.15M370.3 350.4h1.15M382.5 343.4h1.15M363.4 353.8h1.15M371.5 342.9h1.15M380.3 344.8h1.15M375.1 357.9h1.15M372.4 353.7h1.15M361.7 361.7h1.15M369.3 340.9h1.15M374.6 347.0h1.15M366.4 358.9h1.15M379.5 341.9h1.15M368.5 348.0h1.15M364.9 360.9h1.15M364.4 351.9h1.15M380.4 352.7h1.15M369.0 356.3h1.15M366.4 356.2h1.15M367.6 351.7h1.15M384.3 362.2h1.15M366.7 340.7h1.15M368.6 362.2h1.15M372.7 345.8h1.15M367.5 357.5h1.15M366.2 350.7h1.15M369.6 348.2h1.15M371.6 356.1h1.15M363.7 346.3h1.15M377.5 348.3h1.15M383.4 344.1h1.15M381.4 355.0h1.15M372.1 349.2h1.15M378.0 354.4h1.15M373.6 349.2h1.15M374.3 343.9h1.15M386.5 357.2h1.15M378.6 359.5h1.15M380.8 359.4h1.15M369.7 361.0h1.15M371.4 351.2h1.15M376.4 345.6h1.15M361.9 346.1h1.15M386.7 344.5h1.15M368.4 356.7h1.15M374.7 345.1h1.15M361.1 348.0h1.15M368.7 342.3h1.15M372.6 349.9h1.15M378.5 356.1h1.15M367.7 355.8h1.15M380.9 354.5h1.15M361.4 357.8h1.15M373.2 348.6h1.15M364.0 348.2h1.15M371.3 341.3h1.15M379.2 347.2h1.15M371.4 353.2h1.15M365.6 342.1h1.15M372.2 346.4h1.15M360.5 346.3h1.15M375.5 342.5h1.15M376.7 346.5h1.15M379.3 353.0h1.15M370.9 355.1h1.15M373.3 356.8h1.15M383.0 345.2h1.15M369.0 342.9h1.15M369.4 352.5h1.15M366.1 343.0h1.15M370.9 358.5h1.15M371.9 363.2h1.15M368.6 358.0h1.15M372.9 346.4h1.15M381.7 340.3h1.15M367.9 354.7h1.15M382.2 344.0h1.15M363.7 349.4h1.15M369.8 340.7h1.15M363.3 351.2h1.15M368.5 344.5h1.15M361.2 344.4h1.15M360.8 355.8h1.15M379.7 357.9h1.15M361.3 360.5h1.15M361.5 351.3h1.15M370.7 358.6h1.15M384.2 352.9h1.15M375.3 348.1h1.15M384.9 353.5h1.15M383.8 352.6h1.15M381.1 349.9h1.15M372.8 357.0h1.15M365.1 351.5h1.15M360.4 344.3h1.15M366.0 359.7h1.15M378.7 354.5h1.15M375.6 350.5h1.15M381.5 362.0h1.15M361.2 360.8h1.15M381.9 361.0h1.15M376.7 350.8h1.15M373.6 342.2h1.15M378.1 353.8h1.15M376.1 355.0h1.15M385.3 345.8h1.15M360.8 360.0h1.15M379.0 362.4h1.15M362.5 358.3h1.15M372.3 357.7h1.15M380.4 348.9h1.15M367.0 354.2h1.15M372.0 348.2h1.15M381.5 357.2h1.15M370.6 355.3h1.15M380.9 359.9h1.15M371.3 350.8h1.15M367.3 358.3h1.15M385.0 357.6h1.15M381.2 341.7h1.15M385.2 356.4h1.15M382.2 363.4h1.15M382.8 345.4h1.15M379.2 351.3h1.15M378.0 351.2h1.15M381.2 360.9h1.15M366.7 347.9h1.15M372.0 353.1h1.15M364.3 342.7h1.15M371.1 341.9h1.15M371.9 354.5h1.15M382.5 357.1h1.15M376.9 361.7h1.15M376.3 349.1h1.15M381.5 343.3h1.15M375.2 361.6h1.15M381.1 358.0h1.15M380.1 364.0h1.15M375.5 340.3h1.15M377.4 358.7h1.15M371.7 352.5h1.15M374.5 348.2h1.15M379.7 346.8h1.15M383.9 343.9h1.15M378.6 343.7h1.15M375.9 347.0h1.15M370.5 360.8h1.15M374.0 346.9h1.15M381.3 359.5h1.15M377.0 350.3h1.15M363.6 362.9h1.15M370.9 354.9h1.15M369.4 354.3h1.15M377.0 362.7h1.15M368.3 356.3h1.15M380.6 344.8h1.15M364.0 345.2h1.15M381.3 358.5h1.15M375.1 350.6h1.15M381.3 362.6h1.15M377.9 356.2h1.15M374.1 349.3h1.15M374.9 356.7h1.15M369.3 355.6h1.15M363.8 342.1h1.15M386.9 359.6h1.15M383.8 343.5h1.15M363.5 355.3h1.15M381.4 349.0h1.15M386.3 362.0h1.15M371.9 352.2h1.15M369.8 352.5h1.15M363.8 343.6h1.15M378.8 356.4h1.15M360.7 354.9h1.15M361.0 340.6h1.15M367.0 346.0h1.15M361.0 344.8h1.15M375.8 343.8h1.15M375.8 350.1h1.15M375.3 349.7h1.15M381.7 343.4h1.15M386.9 351.7h1.15M363.3 359.8h1.15M378.0 356.0h1.15M379.1 350.6h1.15M360.4 355.3h1.15M364.7 346.3h1.15M377.0 360.0h1.15M360.4 354.2h1.15M373.6 349.5h1.15M368.5 346.5h1.15M379.5 350.1h1.15M361.3 343.9h1.15M367.3 345.2h1.15M360.9 358.6h1.15M370.5 354.4h1.15M369.2 354.8h1.15M368.3 354.8h1.15M379.9 350.4h1.15M385.9 361.3h1.15M366.1 344.7h1.15M370.3 347.1h1.15M375.4 357.3h1.15M367.4 352.6h1.15M379.2 352.3h1.15M362.7 357.6h1.15M371.7 354.2h1.15M377.1 363.8h1.15M373.4 350.7h1.15M378.0 346.4h1.15M363.8 347.9h1.15M365.5 340.4h1.15M363.7 347.1h1.15M376.9 361.5h1.15M371.8 342.4h1.15M382.9 349.2h1.15M379.0 346.6h1.15M375.2 357.7h1.15M382.6 349.9h1.15M361.6 344.0h1.15M380.3 348.3h1.15M366.6 346.3h1.15M376.7 360.9h1.15M378.3 355.4h1.15M359.9 362.9h1.15M369.5 349.1h1.15M376.3 360.9h1.15M365.5 340.4h1.15M379.5 359.4h1.15M382.0 359.4h1.15M361.3 344.1h1.15M385.3 355.0h1.15M375.6 350.1h1.15M377.3 348.1h1.15M371.2 354.4h1.15M378.0 345.3h1.15M361.8 356.6h1.15M364.0 352.0h1.15M366.0 351.2h1.15M366.8 354.6h1.15M383.7 342.4h1.15M369.3 342.6h1.15M362.9 343.9h1.15M377.1 352.3h1.15M371.9 350.9h1.15M368.4 341.3h1.15M375.9 345.4h1.15M381.4 354.6h1.15M382.5 347.8h1.15M360.3 360.0h1.15M361.4 356.7h1.15M366.2 359.9h1.15M366.1 349.6h1.15M382.5 356.0h1.15M361.8 348.9h1.15M385.1 342.6h1.15M363.4 354.3h1.15M371.8 353.4h1.15M382.2 354.3h1.15M378.6 342.1h1.15M373.1 362.8h1.15M374.0 346.0h1.15M373.1 351.5h1.15M377.4 353.6h1.15M372.6 351.5h1.15M385.8 356.9h1.15M369.2 348.0h1.15M364.2 360.1h1.15M379.6 344.3h1.15M383.6 361.7h1.15M383.0 341.3h1.15M375.8 343.8h1.15M365.5 357.0h1.15M360.5 349.7h1.15M377.9 347.2h1.15M384.0 347.9h1.15M367.6 349.1h1.15M361.6 360.7h1.15M388.5 344.3h1.15M363.3 361.1h1.15M373.4 360.8h1.15M364.2 353.5h1.15M362.0 357.2h1.15M369.5 352.8h1.15M371.7 356.6h1.15M361.5 353.3h1.15M371.8 351.7h1.15M381.0 358.4h1.15M360.2 345.3h1.15M367.8 346.0h1.15M360.6 348.4h1.15M369.1 353.5h1.15M366.4 355.3h1.15M364.6 360.3h1.15M368.6 360.9h1.15M362.6 356.3h1.15M364.9 351.4h1.15M363.7 352.6h1.15M371.0 351.8h1.15M361.7 349.7h1.15M379.4 352.7h1.15M375.7 350.0h1.15M365.0 353.8h1.15M389.8 345.7h1.15M362.0 351.2h1.15M379.4 356.6h1.15M364.9 354.0h1.15M365.0 360.6h1.15M381.4 352.3h1.15M381.1 359.6h1.15M383.7 358.5h1.15M381.1 350.0h1.15M378.6 355.3h1.15M362.9 353.5h1.15M365.7 352.3h1.15M381.1 355.4h1.15M378.9 348.2h1.15M375.8 348.8h1.15M384.9 360.8h1.15M383.0 352.4h1.15M379.2 345.2h1.15M376.1 352.9h1.15M362.7 341.0h1.15M375.5 351.9h1.15M382.9 357.0h1.15M381.3 352.4h1.15M372.6 347.9h1.15M378.1 357.2h1.15M380.3 352.0h1.15M376.1 348.0h1.15M362.0 356.4h1.15M375.4 352.5h1.15M360.1 353.6h1.15M367.3 354.9h1.15M375.5 349.0h1.15M367.9 356.3h1.15M360.9 353.8h1.15M364.5 342.4h1.15M374.9 357.1h1.15M363.7 351.0h1.15M364.3 345.6h1.15M371.8 360.9h1.15M377.2 359.6h1.15M360.4 358.1h1.15M365.0 345.2h1.15M382.4 357.3h1.15M377.5 348.7h1.15M378.5 350.0h1.15M370.9 351.7h1.15M378.7 363.5h1.15M361.5 344.8h1.15M366.7 357.6h1.15M382.1 354.5h1.15M386.0 343.0h1.15M374.1 352.4h1.15M380.4 341.8h1.15M369.3 350.2h1.15M368.7 346.2h1.15M375.0 346.1h1.15M387.4 360.1h1.15M365.8 348.9h1.15M365.0 354.7h1.15M364.0 358.7h1.15M366.0 352.4h1.15M377.6 356.3h1.15M378.0 343.8h1.15M363.2 358.0h1.15M383.7 354.4h1.15M375.6 351.4h1.15M371.5 348.6h1.15M362.9 358.5h1.15M375.8 359.3h1.15M364.2 343.9h1.15M386.7 354.7h1.15M385.9 350.9h1.15M379.8 352.3h1.15M373.9 353.2h1.15M372.0 350.1h1.15M374.4 360.3h1.15M360.2 361.1h1.15M381.7 351.8h1.15M362.8 342.6h1.15M368.7 361.2h1.15M380.4 358.0h1.15M371.3 346.1h1.15M366.9 349.8h1.15M369.0 342.5h1.15M369.6 357.7h1.15M384.1 342.2h1.15M372.6 358.6h1.15M364.0 350.5h1.15M369.6 355.9h1.15M360.9 343.4h1.15M370.6 341.1h1.15M384.0 362.3h1.15M383.6 361.8h1.15M386.6 359.9h1.15M376.5 353.4h1.15M363.1 342.4h1.15M365.2 343.8h1.15M361.2 342.0h1.15M389.8 346.7h1.15M382.4 354.4h1.15M375.7 342.0h1.15M364.8 357.1h1.15M376.2 356.4h1.15M381.9 361.4h1.15M366.6 349.9h1.15M377.9 344.8h1.15M366.8 354.5h1.15M369.7 359.2h1.15M361.4 359.2h1.15M371.3 353.9h1.15M371.0 348.8h1.15M367.8 346.4h1.15M374.1 348.6h1.15M365.5 358.3h1.15M380.5 359.5h1.15M374.6 360.7h1.15M364.5 353.5h1.15M380.3 347.7h1.15M383.1 360.3h1.15M362.3 342.8h1.15M374.4 352.6h1.15M365.2 362.6h1.15M363.6 363.6h1.15M378.6 356.8h1.15M360.9 349.2h1.15M369.0 360.8h1.15M374.3 350.0h1.15M374.2 363.0h1.15M373.0 356.7h1.15M361.9 351.2h1.15M368.7 356.2h1.15M364.2 343.3h1.15M360.9 360.1h1.15M378.9 353.0h1.15M373.3 361.6h1.15M383.6 358.2h1.15M378.2 360.2h1.15M379.4 350.4h1.15M363.0 358.4h1.15M374.5 360.9h1.15M373.4 355.4h1.15M361.2 341.8h1.15M361.9 350.6h1.15M374.9 359.1h1.15M380.3 357.2h1.15M381.5 346.3h1.15M364.4 359.6h1.15M360.9 342.2h1.15M385.7 349.4h1.15M377.7 355.0h1.15M381.3 359.5h1.15M366.6 355.1h1.15M375.8 357.2h1.15M363.0 358.9h1.15M365.2 357.5h1.15M375.9 355.0h1.15M377.4 350.8h1.15M362.1 357.7h1.15M369.3 360.6h1.15M383.4 362.5h1.15M381.5 347.1h1.15M371.7 351.9h1.15M374.3 358.0h1.15M371.9 357.7h1.15M386.4 348.4h1.15M382.6 353.5h1.15M370.9 351.8h1.15M364.1 354.5h1.15M365.9 352.3h1.15M369.7 347.3h1.15M372.1 347.9h1.15M389.5 360.8h1.15M381.5 349.9h1.15M365.1 361.1h1.15M388.7 355.5h1.15M386.2 359.3h1.15M370.7 350.4h1.15M366.5 357.6h1.15M379.4 347.0h1.15M385.8 358.2h1.15M360.7 358.9h1.15M364.2 359.1h1.15M367.9 360.4h1.15M365.8 342.9h1.15M386.7 357.6h1.15M364.5 358.0h1.15M369.1 358.4h1.15M375.0 350.9h1.15M377.8 345.7h1.15M369.8 348.5h1.15M375.8 350.8h1.15M370.7 349.1h1.15M361.3 347.8h1.15M382.9 348.7h1.15M380.7 340.6h1.15M368.7 359.3h1.15M376.3 360.1h1.15M370.6 349.0h1.15M364.7 361.4h1.15M387.0 358.6h1.15M374.6 347.8h1.15M366.4 356.8h1.15M369.3 363.7h1.15M369.0 359.5h1.15M364.9 356.1h1.15M372.2 356.6h1.15M381.4 361.7h1.15M365.5 354.7h1.15M379.9 360.2h1.15M376.7 346.0h1.15M361.0 361.3h1.15M388.2 361.4h1.15M370.2 342.2h1.15M388.4 344.0h1.15M369.1 344.1h1.15M365.6 352.9h1.15M367.8 353.4h1.15M369.5 359.0h1.15M368.1 356.0h1.15M380.0 358.6h1.15M364.8 360.8h1.15M377.7 351.6h1.15M382.0 361.4h1.15M373.5 345.5h1.15M370.3 356.7h1.15M381.6 355.4h1.15M363.9 355.5h1.15M379.6 342.9h1.15M382.3 342.6h1.15M367.7 359.4h1.15M378.0 360.9h1.15M384.6 355.0h1.15M370.2 355.0h1.15M364.0 354.4h1.15M384.8 360.0h1.15M367.7 365.4h1.15M363.8 343.2h1.15M365.4 351.9h1.15M369.3 349.0h1.15M366.0 351.9h1.15M371.8 354.0h1.15M370.3 346.6h1.15M361.2 349.4h1.15M383.7 344.1h1.15M369.5 357.5h1.15M365.0 351.9h1.15M382.4 360.8h1.15M374.7 352.6h1.15M375.7 342.5h1.15M375.1 348.9h1.15M379.7 356.3h1.15M384.3 349.9h1.15M371.5 349.3h1.15M383.4 350.6h1.15M378.5 352.2h1.15M362.3 354.0h1.15M371.5 360.5h1.15M365.2 347.0h1.15M377.0 357.7h1.15M368.8 358.6h1.15M367.1 359.2h1.15M380.6 346.6h1.15M382.6 361.3h1.15M372.7 346.3h1.15M361.0 360.4h1.15M382.3 357.9h1.15M367.6 358.0h1.15M374.6 355.3h1.15M384.4 355.0h1.15M367.3 353.4h1.15M381.0 358.1h1.15M388.1 356.7h1.15M370.7 352.9h1.15M377.5 345.4h1.15M363.8 359.1h1.15M373.9 355.7h1.15M362.5 361.9h1.15M370.0 352.9h1.15M374.7 358.1h1.15M372.3 353.5h1.15M369.0 342.3h1.15M376.6 345.4h1.15M364.7 359.6h1.15M377.1 353.1h1.15M373.2 343.2h1.15M382.1 342.9h1.15M366.8 345.6h1.15M372.0 353.6h1.15M382.0 359.4h1.15M363.9 360.8h1.15M385.0 343.5h1.15M368.2 343.1h1.15M383.8 356.0h1.15M369.7 346.3h1.15M366.0 360.9h1.15M381.3 353.7h1.15M366.8 356.7h1.15M372.8 359.7h1.15M365.5 341.9h1.15M370.7 347.8h1.15M363.6 346.9h1.15M370.8 343.4h1.15M361.8 343.5h1.15M371.2 345.9h1.15M366.6 360.5h1.15M367.3 346.5h1.15M388.5 360.7h1.15M382.2 343.3h1.15M362.2 361.0h1.15M372.7 359.9h1.15M369.6 357.4h1.15M380.4 342.7h1.15M370.1 352.2h1.15M370.7 348.0h1.15M364.1 355.1h1.15M368.5 359.2h1.15M374.0 354.8h1.15M387.2 346.0h1.15M361.4 341.6h1.15M368.8 342.0h1.15M372.4 358.2h1.15M368.7 356.9h1.15M363.3 357.7h1.15M380.9 344.4h1.15M365.1 351.6h1.15M380.0 355.6h1.15M377.0 354.0h1.15M361.5 352.6h1.15M373.1 346.4h1.15M370.6 354.8h1.15M371.7 356.5h1.15M382.0 345.6h1.15M385.7 345.1h1.15M370.6 359.4h1.15M365.2 349.1h1.15M376.2 342.3h1.15M367.1 351.6h1.15M379.8 356.3h1.15M364.9 361.9h1.15M365.8 347.0h1.15M372.4 347.1h1.15M365.0 353.5h1.15M382.4 345.7h1.15M376.1 362.5h1.15M379.7 344.1h1.15M368.4 354.6h1.15M380.5 344.4h1.15M374.2 348.7h1.15M360.5 354.5h1.15M371.8 351.5h1.15M375.5 357.2h1.15M372.9 343.0h1.15M361.4 360.4h1.15M380.9 361.6h1.15M378.5 341.9h1.15M363.8 362.3h1.15M372.2 360.7h1.15M388.4 357.8h1.15M367.5 342.0h1.15M374.0 360.1h1.15M372.1 356.4h1.15M372.1 344.4h1.15M385.3 354.9h1.15M368.0 355.7h1.15M373.3 353.4h1.15M376.8 352.6h1.15M371.1 351.5h1.15M375.2 342.1h1.15M374.0 345.0h1.15M382.6 361.8h1.15M366.5 347.3h1.15M363.2 349.1h1.15M377.7 349.7h1.15M384.2 343.8h1.15M383.4 355.6h1.15M365.6 360.2h1.15M362.3 342.0h1.15M373.5 342.6h1.15M374.6 359.2h1.15M375.8 355.0h1.15M377.0 343.2h1.15M365.4 346.1h1.15M377.2 348.7h1.15M363.8 346.2h1.15M381.1 357.3h1.15M381.0 354.2h1.15M373.5 347.8h1.15M380.2 349.4h1.15M361.4 348.5h1.15M363.8 352.2h1.15M364.3 344.8h1.15M388.2 340.6h1.15M373.1 362.9h1.15M374.4 359.1h1.15M367.9 349.3h1.15M373.3 351.4h1.15M374.0 357.1h1.15M364.9 360.5h1.15M383.3 344.1h1.15M378.6 353.1h1.15M370.1 356.6h1.15M374.7 359.4h1.15M365.1 343.2h1.15M366.1 353.3h1.15M367.0 363.8h1.15M381.3 347.7h1.15M384.6 356.0h1.15M375.9 352.9h1.15M374.7 351.5h1.15M381.1 343.2h1.15M368.6 359.2h1.15M368.7 353.9h1.15M381.7 350.8h1.15M375.2 350.9h1.15M360.9 361.2h1.15M368.8 361.4h1.15M369.4 359.2h1.15M372.2 347.7h1.15M363.8 357.1h1.15M376.5 356.4h1.15M377.5 345.6h1.15M365.5 358.6h1.15M366.8 358.3h1.15M363.9 346.1h1.15M360.6 355.7h1.15M385.2 348.9h1.15M373.8 353.3h1.15M381.0 349.2h1.15M361.3 342.6h1.15M383.2 355.0h1.15M376.7 358.7h1.15M379.3 354.0h1.15M384.0 361.0h1.15M368.6 356.5h1.15M369.3 351.3h1.15M372.2 341.9h1.15M363.3 349.2h1.15M365.9 357.1h1.15M375.0 352.1h1.15M380.8 350.4h1.15M366.4 353.6h1.15M376.1 341.7h1.15M370.8 361.4h1.15M367.1 342.6h1.15M384.9 351.0h1.15M373.6 353.2h1.15M368.6 359.6h1.15M365.1 342.1h1.15M379.9 352.3h1.15M371.9 343.7h1.15M373.4 358.9h1.15M370.2 351.7h1.15M367.1 341.9h1.15M366.9 348.1h1.15M369.7 357.5h1.15M372.5 355.4h1.15M362.7 356.8h1.15M380.6 361.8h1.15M381.6 345.2h1.15M375.2 351.8h1.15M385.7 355.9h1.15M377.0 342.1h1.15M382.0 360.7h1.15M365.8 359.5h1.15M365.2 355.4h1.15M378.6 355.8h1.15M366.0 360.7h1.15M366.9 348.3h1.15M385.1 352.7h1.15M374.9 352.6h1.15M371.2 350.4h1.15M379.5 359.6h1.15M371.7 348.3h1.15M365.5 350.8h1.15M370.7 355.0h1.15M378.5 352.2h1.15M376.5 346.5h1.15M380.0 350.8h1.15M366.9 356.3h1.15M380.5 361.3h1.15M371.6 350.3h1.15M360.1 345.3h1.15M377.6 357.9h1.15M374.3 350.0h1.15M365.4 347.9h1.15M378.9 349.9h1.15M380.1 351.6h1.15M387.0 341.9h1.15M361.2 350.3h1.15M364.7 349.7h1.15M376.1 362.3h1.15M359.9 360.3h1.15M375.8 352.5h1.15M370.2 342.9h1.15M387.0 354.8h1.15M374.8 354.8h1.15M373.6 358.6h1.15M366.0 354.5h1.15M377.8 353.7h1.15M361.4 361.3h1.15M379.9 344.1h1.15M379.8 360.5h1.15M381.7 341.8h1.15M370.0 356.4h1.15M374.5 347.0h1.15M362.3 355.8h1.15M361.3 355.6h1.15M384.1 357.0h1.15M371.5 342.1h1.15M367.6 341.8h1.15M376.6 345.4h1.15M367.7 347.1h1.15M372.2 346.8h1.15M361.3 340.9h1.15M380.1 360.1h1.15M360.3 346.1h1.15M378.6 344.1h1.15M376.5 349.9h1.15M379.5 349.0h1.15M363.2 342.1h1.15M376.9 352.5h1.15M373.4 343.6h1.15M368.7 357.2h1.15M380.2 360.6h1.15M372.0 361.5h1.15M367.7 351.8h1.15M364.0 358.6h1.15M365.4 352.5h1.15M366.4 344.5h1.15M381.3 357.2h1.15M368.2 353.6h1.15M381.8 354.3h1.15M362.7 349.8h1.15M380.9 342.8h1.15M381.3 342.6h1.15M364.2 352.9h1.15M373.2 352.6h1.15M375.5 343.9h1.15M360.1 341.7h1.15M375.5 359.1h1.15M376.1 344.6h1.15M378.2 347.8h1.15M371.2 348.9h1.15M370.2 358.8h1.15M383.3 355.2h1.15M360.0 355.9h1.15M369.6 364.0h1.15M375.3 357.3h1.15M376.3 361.3h1.15M375.0 360.1h1.15M377.9 355.4h1.15M375.2 341.7h1.15M383.4 352.4h1.15M368.5 359.5h1.15M377.0 354.1h1.15M371.8 343.1h1.15M377.9 348.8h1.15M381.5 345.2h1.15M373.6 359.4h1.15M360.5 345.6h1.15M376.3 355.6h1.15M373.0 352.4h1.15M387.3 356.1h1.15M378.9 344.0h1.15M377.4 351.7h1.15M362.5 352.1h1.15M384.9 363.8h1.15M375.7 346.9h1.15M360.7 356.3h1.15M371.5 354.8h1.15M379.7 348.0h1.15M379.4 344.0h1.15M379.9 346.7h1.15M371.9 349.8h1.15M382.6 348.6h1.15M360.0 343.1h1.15M385.2 358.5h1.15M376.9 349.2h1.15M376.9 342.8h1.15M361.7 359.6h1.15M364.7 357.6h1.15M374.0 351.9h1.15M380.0 358.0h1.15M363.5 351.8h1.15M367.5 340.8h1.15M381.8 343.0h1.15M376.9 350.9h1.15M364.7 357.4h1.15M361.3 348.9h1.15M377.8 355.6h1.15M385.7 353.6h1.15M364.6 341.4h1.15M366.2 355.1h1.15M377.1 348.0h1.15M389.1 348.9h1.15M379.8 354.6h1.15M376.3 342.8h1.15M367.0 352.1h1.15M369.4 351.7h1.15M377.2 348.7h1.15M377.5 356.6h1.15M379.2 348.8h1.15M379.5 359.9h1.15M382.3 347.1h1.15M377.5 348.4h1.15M366.7 341.0h1.15M362.0 347.1h1.15M375.7 353.7h1.15M374.6 349.7h1.15M373.9 342.3h1.15M369.2 343.9h1.15M383.6 353.1h1.15M383.7 359.7h1.15M387.2 350.9h1.15M378.8 343.8h1.15M377.6 352.6h1.15M365.5 360.0h1.15M372.8 347.4h1.15M377.5 351.6h1.15M374.7 347.3h1.15M365.7 345.4h1.15M377.1 358.8h1.15M365.6 347.3h1.15M364.1 352.9h1.15M375.8 355.4h1.15M362.2 341.1h1.15M365.0 351.3h1.15M372.5 347.5h1.15M366.4 344.1h1.15M379.2 354.1h1.15M372.1 354.7h1.15M384.5 356.5h1.15M384.4 360.6h1.15M360.3 360.6h1.15M371.1 350.3h1.15M373.3 361.1h1.15M381.7 350.7h1.15M371.5 346.5h1.15M374.8 351.2h1.15M362.4 359.0h1.15M373.2 355.1h1.15M373.1 354.2h1.15M377.9 346.5h1.15M380.0 356.8h1.15M374.3 347.4h1.15M367.9 343.1h1.15M371.3 347.3h1.15M373.6 360.9h1.15M367.6 349.2h1.15M371.7 346.8h1.15M385.6 348.0h1.15M374.6 344.5h1.15M372.2 345.0h1.15M380.8 362.4h1.15M380.4 365.3h1.15M383.3 355.5h1.15M362.9 343.5h1.15M365.2 346.6h1.15M371.2 344.2h1.15M378.6 344.7h1.15M371.4 340.7h1.15M377.6 349.5h1.15M366.4 351.6h1.15M383.1 361.5h1.15M373.1 359.9h1.15M381.9 357.6h1.15M383.7 343.9h1.15M378.0 358.5h1.15M364.4 340.5h1.15M378.1 345.0h1.15M371.7 362.5h1.15M361.9 357.0h1.15M377.3 349.6h1.15M370.7 363.3h1.15M370.6 342.4h1.15M382.9 345.4h1.15M366.4 361.6h1.15M362.3 352.3h1.15M366.1 355.9h1.15M380.8 355.7h1.15M370.2 342.0h1.15M380.3 355.8h1.15M378.4 342.7h1.15M373.7 347.6h1.15M383.4 359.0h1.15M382.1 356.6h1.15M379.3 344.1h1.15M375.2 356.1h1.15M361.9 358.7h1.15M382.0 349.6h1.15M371.2 351.2h1.15M378.0 345.1h1.15M379.3 351.5h1.15M375.9 361.8h1.15M369.0 347.7h1.15M378.4 350.2h1.15M361.4 350.8h1.15M378.8 342.7h1.15M369.8 351.0h1.15M387.7 360.5h1.15M375.3 344.4h1.15M382.1 346.4h1.15M375.6 359.4h1.15M376.0 346.9h1.15M375.4 347.9h1.15M372.6 344.7h1.15M370.1 353.4h1.15M366.6 344.4h1.15M365.2 351.0h1.15M386.7 350.7h1.15M373.5 363.0h1.15M380.5 358.0h1.15M365.2 344.6h1.15M360.4 355.6h1.15M383.9 342.5h1.15M379.7 348.7h1.15M383.4 355.5h1.15M381.0 355.6h1.15M383.9 353.6h1.15M367.4 341.1h1.15M374.4 348.8h1.15M364.7 352.1h1.15M376.8 343.0h1.15M375.2 354.4h1.15M367.1 354.7h1.15M361.4 355.4h1.15M366.5 355.3h1.15M384.7 340.6h1.15M372.6 361.3h1.15M379.4 354.0h1.15M385.0 359.7h1.15M376.7 346.2h1.15M376.8 354.9h1.15M375.8 353.2h1.15M373.0 357.9h1.15M372.0 351.2h1.15M387.2 347.1h1.15M382.9 341.7h1.15M385.4 355.6h1.15M376.8 362.7h1.15M361.5 356.7h1.15M362.1 358.1h1.15M380.5 358.1h1.15M367.6 356.9h1.15M373.1 362.1h1.15M361.2 348.6h1.15M382.8 353.6h1.15M361.6 356.5h1.15M379.5 343.9h1.15M374.3 344.6h1.15M364.7 354.3h1.15M360.3 354.1h1.15M375.8 344.2h1.15M384.9 346.4h1.15M377.1 347.3h1.15M379.6 354.3h1.15M366.2 363.1h1.15M382.3 351.4h1.15M383.5 341.7h1.15M366.5 346.2h1.15M383.8 354.0h1.15M375.6 360.6h1.15M361.6 358.5h1.15M379.9 360.9h1.15M371.4 345.4h1.15M375.2 350.9h1.15M388.0 347.6h1.15M375.1 362.7h1.15M380.1 342.1h1.15M362.0 361.5h1.15M362.1 350.5h1.15M372.9 352.2h1.15M361.8 360.7h1.15M386.7 342.3h1.15M366.0 361.7h1.15M384.0 357.6h1.15M360.7 358.2h1.15M364.5 358.5h1.15M361.1 353.1h1.15M378.7 351.2h1.15M380.5 353.9h1.15M378.2 362.6h1.15M375.3 362.8h1.15M377.7 355.2h1.15M366.8 351.6h1.15M380.4 347.2h1.15M365.8 357.0h1.15M360.8 350.6h1.15M384.7 348.8h1.15M363.2 345.6h1.15M384.3 357.3h1.15M366.1 341.1h1.15M374.8 349.3h1.15M368.9 355.0h1.15M362.5 344.1h1.15M369.6 353.9h1.15M384.3 360.1h1.15M368.5 359.8h1.15M376.4 347.6h1.15M371.2 344.0h1.15M380.1 353.3h1.15M370.4 344.6h1.15M381.0 362.3h1.15M371.7 350.5h1.15M362.8 359.6h1.15M361.5 356.3h1.15M382.0 359.2h1.15M377.7 345.9h1.15M370.1 358.9h1.15M371.0 361.4h1.15M361.6 349.9h1.15M380.8 345.9h1.15M373.5 345.6h1.15M380.0 344.8h1.15M369.3 357.9h1.15M377.6 351.1h1.15M377.0 360.5h1.15M369.5 358.8h1.15M372.4 357.0h1.15M384.6 348.5h1.15M375.4 355.2h1.15M385.4 357.3h1.15M383.7 349.8h1.15M364.8 355.9h1.15M360.8 350.9h1.15M365.1 356.5h1.15M362.1 355.1h1.15M378.9 347.4h1.15M370.8 351.4h1.15M368.8 344.0h1.15M377.4 361.9h1.15M366.0 347.3h1.15M376.2 361.6h1.15M372.4 355.4h1.15M364.8 349.0h1.15M371.6 361.0h1.15M379.2 357.8h1.15M367.3 341.6h1.15M379.9 359.6h1.15M374.9 348.9h1.15M382.1 349.4h1.15M372.0 363.7h1.15M364.0 343.7h1.15M379.4 360.9h1.15M381.2 341.4h1.15M367.5 354.8h1.15M363.8 351.3h1.15M384.5 347.5h1.15M377.9 351.0h1.15M374.8 343.4h1.15M365.8 346.5h1.15M363.8 361.1h1.15M372.6 351.2h1.15M365.4 360.7h1.15M377.9 352.8h1.15M360.6 340.8h1.15M377.1 346.4h1.15M366.0 352.5h1.15M370.3 343.9h1.15M376.9 359.9h1.15M367.8 349.4h1.15M374.6 343.3h1.15M370.7 352.1h1.15M380.4 349.2h1.15M373.5 344.0h1.15M363.5 349.9h1.15M372.6 347.7h1.15M380.9 355.1h1.15M365.0 356.8h1.15M378.6 360.5h1.15M376.9 364.6h1.15M365.1 351.2h1.15M369.7 343.8h1.15M361.0 343.9h1.15M370.4 353.4h1.15M364.9 361.5h1.15M381.3 348.2h1.15M379.3 350.7h1.15M369.7 355.1h1.15M380.5 343.4h1.15M370.3 344.8h1.15M363.3 359.0h1.15M369.8 359.8h1.15M364.1 360.7h1.15M368.3 362.5h1.15M384.4 344.6h1.15M381.2 344.4h1.15M379.9 344.0h1.15M384.9 343.3h1.15M377.3 361.2h1.15M382.7 352.2h1.15M368.2 353.9h1.15M367.7 344.6h1.15M377.9 342.3h1.15M383.5 349.0h1.15M374.0 343.8h1.15M382.0 356.2h1.15M375.0 341.8h1.15M375.0 359.6h1.15M381.5 358.5h1.15M368.7 340.8h1.15M377.9 348.3h1.15M371.4 346.4h1.15M374.6 354.1h1.15M364.5 360.4h1.15M366.6 339.6h1.15M375.3 345.3h1.15M386.3 357.3h1.15M369.9 360.2h1.15M379.5 346.4h1.15M372.2 353.5h1.15M376.7 342.0h1.15M374.7 361.6h1.15M364.3 366.1h1.15M372.0 355.7h1.15M367.5 341.7h1.15M364.5 340.8h1.15M377.6 357.6h1.15M368.8 347.9h1.15M379.2 348.8h1.15M374.2 354.7h1.15M387.3 342.0h1.15M372.7 341.9h1.15M364.9 351.5h1.15M379.5 343.9h1.15M373.6 341.3h1.15M374.2 353.4h1.15M379.7 357.4h1.15M360.5 352.9h1.15M361.9 347.2h1.15M367.1 354.6h1.15M366.7 355.5h1.15M375.7 346.7h1.15M368.3 345.9h1.15M376.7 347.0h1.15M383.3 358.3h1.15M379.9 358.7h1.15M370.3 355.7h1.15M363.2 361.9h1.15M366.8 346.5h1.15M376.1 360.3h1.15M365.1 345.8h1.15M388.3 344.6h1.15M379.6 344.2h1.15M365.2 359.1h1.15M364.1 347.3h1.15M360.7 357.1h1.15M376.3 340.8h1.15M367.2 341.3h1.15M384.6 362.4h1.15M372.9 356.8h1.15M366.2 357.9h1.15M370.3 345.0h1.15M360.0 356.6h1.15M372.7 349.8h1.15M363.7 343.0h1.15M368.3 351.8h1.15M363.7 355.1h1.15M362.6 342.4h1.15M363.0 349.7h1.15M369.7 356.4h1.15M376.9 343.6h1.15M371.7 341.9h1.15M373.2 351.7h1.15M382.0 345.3h1.15M372.3 350.4h1.15M380.0 346.3h1.15M385.5 345.3h1.15M377.0 352.0h1.15M375.0 345.5h1.15M375.8 349.2h1.15M374.7 355.9h1.15M380.4 350.2h1.15M369.1 358.4h1.15M383.9 352.7h1.15M360.5 359.4h1.15M363.6 344.8h1.15M369.0 358.6h1.15M378.0 360.1h1.15M372.9 347.7h1.15M365.8 348.2h1.15M372.4 353.6h1.15M361.1 343.6h1.15M375.2 357.4h1.15M377.3 356.9h1.15M381.3 362.9h1.15M361.6 349.8h1.15M362.1 349.5h1.15M379.0 354.5h1.15M361.8 353.2h1.15M366.5 351.2h1.15M365.7 347.5h1.15M374.6 356.0h1.15M367.2 342.6h1.15M372.1 358.3h1.15M374.6 359.3h1.15M375.2 352.5h1.15M373.8 347.4h1.15M364.5 344.1h1.15M363.5 347.9h1.15M365.8 349.3h1.15M381.1 347.5h1.15M381.3 357.2h1.15M370.9 347.0h1.15M380.7 358.9h1.15M383.4 356.5h1.15M365.2 345.3h1.15M385.4 341.7h1.15M385.5 354.8h1.15M366.7 349.9h1.15M388.6 345.6h1.15M380.8 361.5h1.15M387.5 352.1h1.15M374.3 345.0h1.15M360.2 348.4h1.15M374.4 354.6h1.15M386.9 359.3h1.15M363.1 350.3h1.15M364.1 352.2h1.15M378.7 354.9h1.15M384.4 347.0h1.15M367.0 340.8h1.15M373.2 362.2h1.15M372.5 351.5h1.15M360.0 352.1h1.15M375.6 354.1h1.15M387.8 346.5h1.15M374.2 360.1h1.15M382.0 355.2h1.15M375.2 341.7h1.15M371.7 349.9h1.15M375.5 352.3h1.15M366.2 353.2h1.15M361.4 353.0h1.15M379.6 356.9h1.15M362.5 347.2h1.15M379.3 349.0h1.15M367.6 359.7h1.15M382.4 341.5h1.15M365.6 351.3h1.15M383.1 342.6h1.15M366.4 349.6h1.15M376.9 351.6h1.15M360.0 348.3h1.15M364.5 351.3h1.15M367.2 342.2h1.15M362.9 348.5h1.15M374.2 353.3h1.15M384.4 348.6h1.15M382.1 342.9h1.15M378.0 347.8h1.15M361.0 345.0h1.15M381.0 343.4h1.15M371.0 360.4h1.15M376.8 359.7h1.15M374.0 346.6h1.15M362.9 354.2h1.15M370.8 356.0h1.15M377.9 354.9h1.15M362.0 344.4h1.15M368.7 361.8h1.15M371.3 347.8h1.15M364.7 343.0h1.15M373.5 353.0h1.15M379.6 351.5h1.15M384.7 343.9h1.15M364.8 352.8h1.15M376.4 355.5h1.15M366.5 361.6h1.15M383.3 351.9h1.15M373.1 361.5h1.15M384.4 342.0h1.15M371.4 361.3h1.15M386.4 357.3h1.15M381.5 345.9h1.15M379.1 357.2h1.15M362.0 359.2h1.15M367.2 346.1h1.15M384.2 359.9h1.15M385.4 357.6h1.15M378.7 343.6h1.15M384.2 357.2h1.15M361.2 342.4h1.15M375.9 345.8h1.15M368.3 349.7h1.15M372.7 351.9h1.15M371.2 353.6h1.15M373.3 345.9h1.15M370.4 357.7h1.15M375.3 349.7h1.15M380.8 357.3h1.15M364.0 343.0h1.15M374.1 355.2h1.15M383.0 357.0h1.15M366.7 343.4h1.15M366.4 341.6h1.15M372.1 345.5h1.15M360.8 351.3h1.15M378.6 354.9h1.15M373.7 346.0h1.15M362.9 357.4h1.15M373.9 343.8h1.15M368.0 348.7h1.15M375.0 340.9h1.15M375.8 352.6h1.15M378.8 355.8h1.15M373.7 362.3h1.15M368.5 341.3h1.15M381.0 351.8h1.15M375.4 358.6h1.15M375.8 343.1h1.15M363.4 349.7h1.15M382.5 345.5h1.15M360.6 340.7h1.15M372.0 344.7h1.15M360.4 348.1h1.15M380.8 357.1h1.15M386.3 345.7h1.15M374.5 352.3h1.15M371.5 346.8h1.15M367.4 358.2h1.15M376.9 344.1h1.15M364.7 361.3h1.15M370.2 357.3h1.15M369.7 360.5h1.15M382.0 343.9h1.15M374.9 359.8h1.15M362.9 350.1h1.15M361.1 342.6h1.15M374.4 344.7h1.15M361.2 361.5h1.15M387.2 352.2h1.15M385.2 342.8h1.15M373.2 346.2h1.15M375.0 345.4h1.15M366.2 347.4h1.15M368.4 351.0h1.15M382.1 360.6h1.15M365.3 345.2h1.15M377.9 351.5h1.15M374.8 343.7h1.15M387.5 352.3h1.15M373.7 360.7h1.15M372.5 357.3h1.15M380.4 351.3h1.15M360.8 348.8h1.15M372.6 345.8h1.15M385.6 350.2h1.15M373.4 351.1h1.15M381.9 349.5h1.15M380.9 351.0h1.15M383.9 353.0h1.15M364.1 359.2h1.15M360.7 351.5h1.15M367.1 359.1h1.15M367.6 353.0h1.15M374.6 359.4h1.15M382.3 349.4h1.15M373.2 343.4h1.15M368.9 347.0h1.15M381.5 362.2h1.15M375.9 344.7h1.15M368.1 354.8h1.15M369.2 343.3h1.15M369.9 350.7h1.15M370.8 345.1h1.15M388.2 351.7h1.15M377.9 354.3h1.15M362.3 341.4h1.15M372.1 351.5h1.15M369.9 351.7h1.15M378.8 342.5h1.15M383.0 348.8h1.15M363.7 341.3h1.15M382.3 353.1h1.15M368.3 361.5h1.15M377.9 350.7h1.15M367.7 343.5h1.15M374.4 361.5h1.15M365.2 362.2h1.15M375.8 352.6h1.15M373.6 349.2h1.15M378.6 352.5h1.15M369.0 348.5h1.15M362.0 341.3h1.15M365.0 355.8h1.15M362.7 347.9h1.15M362.6 354.5h1.15M382.8 349.9h1.15M376.2 345.9h1.15M384.1 355.6h1.15M360.9 343.5h1.15M385.9 349.4h1.15M376.5 361.5h1.15M379.6 346.3h1.15M366.5 360.1h1.15M384.9 356.1h1.15M377.8 358.2h1.15M367.5 350.1h1.15M371.4 347.8h1.15M365.5 347.2h1.15M366.4 347.9h1.15M367.9 346.2h1.15M369.0 345.1h1.15M381.2 341.3h1.15M368.6 356.8h1.15M373.5 353.8h1.15M360.1 349.2h1.15M374.7 359.4h1.15M374.6 351.0h1.15M365.1 358.8h1.15M360.3 357.4h1.15M375.2 360.5h1.15M372.7 342.0h1.15M377.1 341.0h1.15M361.1 354.0h1.15M360.6 352.7h1.15M379.3 354.4h1.15M371.3 349.0h1.15M383.2 355.4h1.15M373.2 356.8h1.15M374.3 348.6h1.15M376.6 358.4h1.15M381.5 357.1h1.15M368.1 345.2h1.15M378.9 355.3h1.15M383.9 357.4h1.15M366.3 352.9h1.15M368.5 360.4h1.15M377.1 348.1h1.15M382.3 352.9h1.15M384.3 361.9h1.15M367.7 341.0h1.15M381.2 358.7h1.15M385.2 355.8h1.15M363.9 346.9h1.15M375.1 347.3h1.15M371.7 354.9h1.15M363.6 346.2h1.15M382.5 360.8h1.15M385.5 346.7h1.15M372.0 348.6h1.15M382.2 362.0h1.15M365.0 353.1h1.15M387.2 355.5h1.15M379.5 343.3h1.15M364.2 350.5h1.15M371.2 358.2h1.15M366.3 343.6h1.15M381.2 342.6h1.15M360.2 348.2h1.15M376.2 355.8h1.15M377.3 341.9h1.15M364.1 350.8h1.15M369.6 342.7h1.15M374.8 353.0h1.15M367.2 350.7h1.15M375.3 357.8h1.15M381.5 359.6h1.15M369.7 352.3h1.15M363.3 345.4h1.15M373.8 356.1h1.15M363.6 355.7h1.15M375.6 355.0h1.15M373.6 356.3h1.15M362.3 356.2h1.15M383.4 353.4h1.15M363.6 353.6h1.15M374.4 343.4h1.15M361.9 342.0h1.15M369.9 357.6h1.15M375.0 345.3h1.15M380.7 359.5h1.15M381.0 361.1h1.15M379.9 355.1h1.15M362.4 353.2h1.15M363.5 359.6h1.15M369.5 356.2h1.15M371.3 355.4h1.15M377.0 358.7h1.15M373.9 356.8h1.15M362.3 346.7h1.15M383.3 357.4h1.15M378.7 343.1h1.15M375.1 342.3h1.15M373.6 361.8h1.15M382.6 359.7h1.15M364.9 351.8h1.15M374.7 348.6h1.15M377.1 344.4h1.15M362.7 360.6h1.15M379.8 356.1h1.15M375.1 342.6h1.15M360.4 345.3h1.15M366.0 350.9h1.15M367.3 355.3h1.15M383.5 350.1h1.15M371.5 352.4h1.15M378.2 359.7h1.15M361.1 343.9h1.15M371.7 353.7h1.15M368.1 359.2h1.15M383.1 357.9h1.15M376.7 357.9h1.15M367.2 344.4h1.15M360.6 347.0h1.15M369.5 346.8h1.15M360.1 346.7h1.15M363.3 354.9h1.15M366.4 346.5h1.15M375.1 345.0h1.15M377.3 346.2h1.15M369.2 348.0h1.15M376.2 355.9h1.15M385.3 343.3h1.15M385.8 355.4h1.15M382.4 350.4h1.15M378.0 352.7h1.15M371.0 360.7h1.15M374.7 345.7h1.15M377.2 349.4h1.15M375.7 348.5h1.15M386.7 341.8h1.15M387.1 355.4h1.15M385.1 351.2h1.15M383.7 347.7h1.15M367.3 360.7h1.15M365.0 348.4h1.15M360.3 357.9h1.15M364.3 349.0h1.15M381.2 347.5h1.15M386.6 358.1h1.15M379.9 355.0h1.15M378.1 341.6h1.15M369.3 343.6h1.15M360.9 342.8h1.15M360.7 352.0h1.15M381.7 358.7h1.15M373.9 353.0h1.15M360.4 354.0h1.15M370.7 354.0h1.15M381.0 349.8h1.15M379.8 345.3h1.15M363.0 354.2h1.15M365.5 344.7h1.15M366.1 357.4h1.15M378.5 341.6h1.15M376.1 363.7h1.15M385.3 357.2h1.15M366.8 351.8h1.15M360.0 359.0h1.15M362.5 341.3h1.15M373.7 343.8h1.15M367.0 352.6h1.15M382.6 342.2h1.15M362.9 343.6h1.15M368.8 351.4h1.15M369.1 358.6h1.15M362.6 359.4h1.15M373.6 355.3h1.15M384.9 346.4h1.15M365.0 340.9h1.15M367.3 362.8h1.15M377.5 351.2h1.15M374.4 341.2h1.15M383.6 357.9h1.15M370.9 358.2h1.15M381.7 360.6h1.15M376.6 347.5h1.15M360.8 341.3h1.15M368.9 349.8h1.15M372.3 357.5h1.15M375.6 359.0h1.15M364.8 359.7h1.15M384.1 352.2h1.15M362.8 356.0h1.15M364.1 349.8h1.15M370.8 352.6h1.15M379.4 351.4h1.15M364.3 356.7h1.15M370.6 360.6h1.15M387.3 356.9h1.15M380.7 350.0h1.15M375.5 344.9h1.15M372.4 348.4h1.15M375.7 352.2h1.15M371.7 359.5h1.15M363.6 360.0h1.15M370.7 357.6h1.15M379.3 347.8h1.15M377.7 353.9h1.15M380.3 358.8h1.15M378.8 347.4h1.15M377.4 349.7h1.15M365.7 346.3h1.15M381.7 351.0h1.15M372.6 361.4h1.15M378.1 348.1h1.15M364.3 360.0h1.15M361.8 344.0h1.15M376.1 344.7h1.15M376.4 360.5h1.15M388.8 360.9h1.15M384.0 347.9h1.15M364.7 346.8h1.15M360.0 345.9h1.15M367.8 343.6h1.15M376.9 341.8h1.15M366.7 360.1h1.15M366.7 350.5h1.15M370.5 352.0h1.15M369.7 356.9h1.15M377.8 352.1h1.15M362.2 346.8h1.15M371.4 349.5h1.15M367.4 341.8h1.15M381.6 352.0h1.15M388.7 353.3h1.15M360.1 350.2h1.15M383.8 361.5h1.15M360.5 354.0h1.15M383.8 355.7h1.15M382.9 342.9h1.15M378.0 352.3h1.15M375.4 352.5h1.15M377.0 361.3h1.15M362.4 358.1h1.15M361.1 348.9h1.15M365.4 355.5h1.15M382.4 361.6h1.15M362.5 348.4h1.15M370.1 346.6h1.15M372.6 341.2h1.15M363.4 346.0h1.15M362.9 353.7h1.15M378.2 356.6h1.15M370.3 361.7h1.15M388.1 359.1h1.15M373.1 341.5h1.15M377.1 353.5h1.15M369.8 347.7h1.15M371.7 352.7h1.15M378.7 351.1h1.15M381.1 343.0h1.15M381.2 348.5h1.15M362.2 358.3h1.15M366.6 348.8h1.15M378.4 356.3h1.15M376.3 361.5h1.15M374.0 354.5h1.15M369.6 360.7h1.15M379.0 343.9h1.15M368.3 359.3h1.15M373.2 353.2h1.15M385.4 349.5h1.15M361.3 352.1h1.15M373.8 345.8h1.15M376.4 357.4h1.15M366.3 349.2h1.15M373.2 359.9h1.15M376.9 355.1h1.15M361.9 344.8h1.15M369.1 357.3h1.15M360.5 342.4h1.15M360.4 343.5h1.15M378.7 342.7h1.15M385.8 353.9h1.15M372.9 353.6h1.15M378.8 351.3h1.15M367.5 354.0h1.15M368.2 342.3h1.15M381.9 362.2h1.15M364.6 343.2h1.15M369.3 363.9h1.15M375.6 347.5h1.15M373.6 353.1h1.15M362.7 350.9h1.15M362.4 360.5h1.15M381.7 344.2h1.15M361.5 359.6h1.15M361.1 342.4h1.15M360.0 365.1h1.15M383.0 342.8h1.15M371.4 349.4h1.15M367.6 363.6h1.15M374.8 344.3h1.15M368.4 348.2h1.15M380.1 358.2h1.15M379.3 355.0h1.15M368.7 345.2h1.15M382.6 350.8h1.15M380.2 351.9h1.15M372.5 343.4h1.15M386.5 341.6h1.15M386.9 343.1h1.15M369.1 353.4h1.15M386.2 356.1h1.15M366.1 342.2h1.15M361.0 360.7h1.15M380.2 343.6h1.15M381.3 361.6h1.15M372.0 351.2h1.15M382.9 350.6h1.15M366.9 346.4h1.15M364.1 354.8h1.15M373.6 348.5h1.15M378.7 346.0h1.15M361.0 360.8h1.15M363.6 359.8h1.15M371.3 354.5h1.15M371.5 359.0h1.15M362.4 344.8h1.15M375.5 352.4h1.15M380.5 352.0h1.15M381.3 356.5h1.15M360.6 350.3h1.15M381.9 340.8h1.15M382.5 356.4h1.15M382.6 343.6h1.15M361.2 347.3h1.15M382.4 359.2h1.15M361.9 350.7h1.15M362.8 350.0h1.15M362.6 358.4h1.15M360.7 356.3h1.15M362.5 346.0h1.15M364.5 351.0h1.15M376.3 344.1h1.15M371.8 350.0h1.15M385.3 354.9h1.15M370.2 346.2h1.15M378.7 356.2h1.15M364.0 347.4h1.15M376.1 347.1h1.15M365.8 343.9h1.15M385.3 347.4h1.15M375.8 358.5h1.15M372.4 361.0h1.15M373.5 355.8h1.15M368.1 361.7h1.15M362.5 348.7h1.15M368.5 347.0h1.15M377.8 357.3h1.15M387.4 363.3h1.15M366.6 352.5h1.15M375.4 343.8h1.15M364.6 356.9h1.15M380.7 346.0h1.15M362.7 343.2h1.15M371.0 341.2h1.15M368.0 363.5h1.15M360.4 347.3h1.15M372.7 348.2h1.15M389.8 342.5h1.15M380.9 348.6h1.15M366.5 346.6h1.15M360.8 356.9h1.15M370.1 347.4h1.15M381.6 340.2h1.15M377.9 356.8h1.15M369.3 360.1h1.15M382.2 350.2h1.15M369.6 356.4h1.15M368.0 349.5h1.15M369.9 345.8h1.15M361.2 361.9h1.15M365.6 351.3h1.15M375.7 357.2h1.15M363.4 346.5h1.15M368.9 353.1h1.15M377.8 348.0h1.15M371.6 358.1h1.15M366.1 347.9h1.15M369.9 344.7h1.15M377.5 344.3h1.15M370.2 356.0h1.15M363.7 359.2h1.15M367.8 351.3h1.15M374.3 359.4h1.15M382.0 347.1h1.15M364.8 351.4h1.15M387.5 350.4h1.15M390.1 349.0h1.15M386.1 358.1h1.15M388.3 344.6h1.15M361.4 343.0h1.15M380.4 343.5h1.15M371.6 366.1h1.15M388.3 353.3h1.15M363.7 347.3h1.15M367.8 358.1h1.15M367.3 348.4h1.15M363.9 356.6h1.15M367.0 361.5h1.15M373.0 350.9h1.15M380.7 357.5h1.15M375.4 350.4h1.15M379.3 347.7h1.15M366.7 353.5h1.15M361.3 344.1h1.15M375.1 356.4h1.15M370.1 354.9h1.15M377.4 354.6h1.15M386.2 352.8h1.15M373.9 361.0h1.15M362.3 341.7h1.15M369.9 351.2h1.15M383.9 359.4h1.15M363.6 353.6h1.15M376.8 362.9h1.15M371.4 358.8h1.15M373.3 343.6h1.15M372.9 351.2h1.15M372.4 353.0h1.15M371.4 359.4h1.15M377.5 361.9h1.15M380.1 358.3h1.15M366.1 357.9h1.15M363.0 341.8h1.15M367.2 359.7h1.15M371.8 354.4h1.15M379.4 350.5h1.15M385.4 348.8h1.15M380.5 346.2h1.15M368.5 345.0h1.15M366.9 355.1h1.15M368.1 352.6h1.15M378.4 360.2h1.15M368.9 348.2h1.15M374.0 356.3h1.15M365.0 360.0h1.15M369.4 350.4h1.15M379.6 352.7h1.15M365.9 357.4h1.15M380.5 349.3h1.15M361.4 344.7h1.15M375.9 358.5h1.15M360.4 343.0h1.15M378.3 356.0h1.15M364.8 362.8h1.15M377.2 344.7h1.15M376.6 341.7h1.15M371.6 351.5h1.15M374.5 360.1h1.15M373.8 354.3h1.15M363.1 352.8h1.15M364.4 344.8h1.15M386.3 353.8h1.15M377.5 348.2h1.15M375.4 360.8h1.15M374.2 358.9h1.15M387.0 348.4h1.15M360.4 352.6h1.15M386.8 360.8h1.15M372.1 341.2h1.15M386.9 353.2h1.15M384.0 344.0h1.15M368.5 349.2h1.15M383.5 348.6h1.15M374.3 355.2h1.15M360.3 349.4h1.15M365.0 359.5h1.15M360.7 343.5h1.15M381.1 356.6h1.15M369.2 361.1h1.15M380.2 361.1h1.15M379.7 352.9h1.15M377.7 354.4h1.15M368.5 344.3h1.15M373.7 359.1h1.15M369.7 354.9h1.15M360.6 341.7h1.15M379.9 355.0h1.15M386.8 352.5h1.15M371.9 341.6h1.15M385.8 342.6h1.15M366.1 349.5h1.15M360.7 341.4h1.15M381.1 348.0h1.15M380.6 351.2h1.15M374.7 358.4h1.15M365.0 363.4h1.15M370.4 361.2h1.15M363.9 353.6h1.15M361.5 356.3h1.15M366.5 364.5h1.15M373.0 343.4h1.15M374.7 342.1h1.15M378.9 344.1h1.15M372.4 349.8h1.15M377.4 346.0h1.15M367.4 357.2h1.15M380.2 347.3h1.15M376.1 345.1h1.15M383.1 344.2h1.15M387.4 346.3h1.15M368.0 349.1h1.15M381.6 352.0h1.15M379.3 341.1h1.15M373.9 361.1h1.15M369.5 350.8h1.15M368.4 344.1h1.15M372.1 342.6h1.15M380.7 359.5h1.15M381.2 350.5h1.15M372.5 355.1h1.15M374.3 359.7h1.15M376.0 350.4h1.15M380.3 350.9h1.15M382.1 355.0h1.15M370.2 340.2h1.15M361.8 347.3h1.15M380.3 361.8h1.15M375.8 361.4h1.15M368.1 352.9h1.15M379.2 345.0h1.15M371.0 345.3h1.15M379.7 352.7h1.15M383.2 354.6h1.15M364.6 355.6h1.15M370.4 358.0h1.15M381.9 354.4h1.15M367.9 353.7h1.15M373.7 351.3h1.15M371.9 358.9h1.15M387.3 341.9h1.15M374.3 357.1h1.15M385.3 361.8h1.15M371.4 353.5h1.15M364.7 347.6h1.15M366.0 353.7h1.15M362.0 354.7h1.15M382.1 359.6h1.15M380.7 359.6h1.15M375.2 348.0h1.15M370.7 358.7h1.15M366.8 344.1h1.15M364.6 349.6h1.15M368.9 342.0h1.15M361.5 342.0h1.15M370.2 356.7h1.15M370.3 351.7h1.15M364.9 343.5h1.15M367.9 356.1h1.15M375.5 343.2h1.15M375.4 344.8h1.15M382.2 348.1h1.15M376.9 356.7h1.15M372.5 350.1h1.15M360.1 347.7h1.15M383.4 355.9h1.15M381.0 361.8h1.15M377.9 354.0h1.15M379.5 343.1h1.15M373.4 346.6h1.15M369.0 349.8h1.15M363.4 347.8h1.15M368.0 345.5h1.15M365.2 346.4h1.15M366.6 360.7h1.15M361.3 351.3h1.15M376.0 359.9h1.15M363.2 350.0h1.15M367.3 358.6h1.15M376.8 352.7h1.15M375.9 354.5h1.15M380.6 351.4h1.15M368.9 359.8h1.15M365.7 345.9h1.15M360.3 344.9h1.15M365.1 357.8h1.15M384.3 349.2h1.15M378.8 347.1h1.15M371.6 360.0h1.15M381.8 348.9h1.15M379.3 349.2h1.15M369.4 342.4h1.15M369.7 351.6h1.15M372.4 345.7h1.15M380.1 343.1h1.15M369.4 353.2h1.15M363.9 342.7h1.15M375.9 353.5h1.15M378.9 352.8h1.15M364.6 361.9h1.15M361.7 350.9h1.15M384.9 347.5h1.15M369.6 358.3h1.15M380.9 349.0h1.15M374.4 354.6h1.15M361.6 359.1h1.15M381.3 343.9h1.15M375.7 352.1h1.15M370.4 355.3h1.15M369.7 357.3h1.15M364.9 349.1h1.15M379.7 341.8h1.15M367.8 341.1h1.15M381.5 355.7h1.15M369.6 345.4h1.15M381.5 353.0h1.15M375.3 346.8h1.15M382.6 344.9h1.15M379.5 359.6h1.15M385.7 357.6h1.15M386.9 351.7h1.15M367.1 355.0h1.15M381.7 360.0h1.15M387.9 351.6h1.15M381.0 356.2h1.15M382.0 343.7h1.15M389.8 341.9h1.15M372.1 354.4h1.15M360.4 352.7h1.15M380.4 351.9h1.15M362.9 342.2h1.15M367.8 344.8h1.15M371.5 356.5h1.15M361.8 363.8h1.15M383.3 343.3h1.15M376.0 353.6h1.15M377.8 349.1h1.15M369.3 355.0h1.15M376.3 353.3h1.15M372.3 353.2h1.15M369.3 346.3h1.15M367.4 342.0h1.15M373.4 357.8h1.15M376.8 345.4h1.15M363.0 351.1h1.15M362.4 355.4h1.15M367.1 358.6h1.15M384.0 358.7h1.15M367.3 340.1h1.15M374.4 353.4h1.15M378.9 359.1h1.15M372.7 356.3h1.15M360.8 352.8h1.15M360.2 347.4h1.15M373.9 361.4h1.15M389.5 356.8h1.15M362.7 355.1h1.15M379.8 342.4h1.15M385.8 361.5h1.15M364.2 342.6h1.15M361.8 355.0h1.15M383.6 345.5h1.15M373.9 345.0h1.15M360.2 346.6h1.15M366.0 341.4h1.15M388.5 343.4h1.15M373.9 345.8h1.15M381.4 361.2h1.15M366.2 354.7h1.15M367.9 341.6h1.15M371.5 346.2h1.15M377.1 361.5h1.15M367.6 355.5h1.15M367.5 361.2h1.15M363.7 350.4h1.15M365.0 348.2h1.15M379.2 354.9h1.15M379.1 360.7h1.15M361.8 344.4h1.15M365.2 353.6h1.15M364.7 349.5h1.15M376.4 357.1h1.15M382.0 356.3h1.15M368.3 357.0h1.15M360.7 357.9h1.15M382.0 346.2h1.15M365.0 356.8h1.15M361.3 359.6h1.15M375.1 348.7h1.15M369.3 352.7h1.15M385.1 341.1h1.15M373.5 344.8h1.15M378.4 346.3h1.15M369.8 345.4h1.15M383.0 348.2h1.15M378.9 345.3h1.15M362.4 353.5h1.15M368.0 361.9h1.15M360.0 351.9h1.15M362.7 343.0h1.15M370.1 348.2h1.15M372.1 359.8h1.15M377.2 346.0h1.15M365.1 357.7h1.15M373.3 342.8h1.15M373.6 359.0h1.15M378.6 350.8h1.15M377.0 362.0h1.15M371.3 349.7h1.15M383.6 348.5h1.15M362.5 344.4h1.15M375.8 351.8h1.15M370.9 364.1h1.15M371.2 354.6h1.15M371.8 357.3h1.15M379.9 341.0h1.15M381.2 352.3h1.15M385.9 343.4h1.15M370.3 361.6h1.15M365.6 353.0h1.15M362.4 347.2h1.15M382.2 355.7h1.15M370.0 357.7h1.15M363.3 350.7h1.15M366.1 346.2h1.15M365.6 357.9h1.15M364.4 360.2h1.15M376.6 356.9h1.15M360.1 359.0h1.15M371.7 353.0h1.15M361.2 344.3h1.15M373.8 351.9h1.15M360.2 341.8h1.15M372.2 347.3h1.15M371.9 361.5h1.15M367.3 359.5h1.15M379.4 354.3h1.15M372.5 360.3h1.15M366.2 351.3h1.15M368.1 352.1h1.15M362.7 353.3h1.15M380.4 342.2h1.15M376.5 362.4h1.15M360.9 343.7h1.15M365.5 353.5h1.15M380.7 343.3h1.15M379.5 345.8h1.15M361.9 356.6h1.15M371.2 361.4h1.15M372.4 353.2h1.15M370.5 341.1h1.15M369.3 345.5h1.15M365.4 347.8h1.15M370.0 354.5h1.15M360.4 345.0h1.15M378.8 358.8h1.15M362.3 353.0h1.15M372.4 342.2h1.15M375.0 349.2h1.15M366.1 350.8h1.15M366.5 345.2h1.15M360.6 345.4h1.15M380.8 343.8h1.15M366.6 348.2h1.15M377.1 360.8h1.15M373.9 346.1h1.15M380.9 354.4h1.15M363.3 357.4h1.15M380.8 342.8h1.15M369.1 346.4h1.15M367.9 345.2h1.15M361.3 347.7h1.15M368.9 353.9h1.15M363.3 354.5h1.15M359.9 344.4h1.15M361.1 342.2h1.15M365.6 362.3h1.15M384.0 345.3h1.15M382.0 353.0h1.15M371.9 357.1h1.15M365.0 353.6h1.15M385.3 359.8h1.15M375.5 352.2h1.15M370.4 355.9h1.15M379.8 344.2h1.15M370.1 342.9h1.15M362.9 347.0h1.15M376.9 359.8h1.15M364.8 350.5h1.15M379.7 343.8h1.15M380.1 354.0h1.15M383.1 351.7h1.15M377.2 348.8h1.15M362.0 352.9h1.15M367.1 343.2h1.15M371.0 345.0h1.15M365.9 354.6h1.15M362.0 357.2h1.15M375.8 349.9h1.15M379.4 361.4h1.15M387.4 348.1h1.15M381.3 357.2h1.15M364.7 361.5h1.15M377.4 342.6h1.15M365.5 351.5h1.15M368.3 342.9h1.15M387.1 345.5h1.15M362.1 340.7h1.15M369.0 354.6h1.15M364.0 355.0h1.15M370.9 354.4h1.15M363.7 352.7h1.15M370.7 347.8h1.15M374.1 348.7h1.15M382.6 350.9h1.15M384.5 346.8h1.15M377.0 344.2h1.15M378.0 353.2h1.15M381.3 340.3h1.15M377.4 341.5h1.15M371.5 349.8h1.15M366.1 353.4h1.15M389.5 352.3h1.15M379.2 350.1h1.15M370.8 353.7h1.15M368.0 342.2h1.15M365.1 358.8h1.15M369.4 349.8h1.15M377.2 342.5h1.15M377.0 341.2h1.15M380.3 354.0h1.15M382.2 358.7h1.15M384.2 356.7h1.15M387.1 344.5h1.15M382.3 354.7h1.15M363.4 345.6h1.15M372.6 350.9h1.15M377.9 360.1h1.15M360.7 348.4h1.15M375.4 353.4h1.15M385.8 346.2h1.15M377.3 347.6h1.15M361.4 343.8h1.15M383.9 343.5h1.15M368.8 357.0h1.15M380.1 355.8h1.15M382.7 357.8h1.15M371.1 349.0h1.15M374.1 349.4h1.15M373.8 350.9h1.15M380.2 354.5h1.15M372.2 351.6h1.15M379.6 342.1h1.15M384.5 343.0h1.15M377.9 342.9h1.15M382.1 352.8h1.15M375.0 359.4h1.15M365.8 345.4h1.15M382.8 352.0h1.15M368.0 349.2h1.15M385.7 352.9h1.15M376.1 356.8h1.15M375.8 349.4h1.15M364.3 354.2h1.15M367.3 355.4h1.15M382.9 343.1h1.15M375.8 358.3h1.15M364.7 351.7h1.15M361.8 345.8h1.15M360.9 355.9h1.15M369.3 362.8h1.15M361.9 356.5h1.15M372.6 352.4h1.15M380.9 360.6h1.15M368.3 349.4h1.15M374.2 347.1h1.15M377.9 346.3h1.15M377.7 357.2h1.15M367.9 350.2h1.15M378.4 350.7h1.15M382.4 343.1h1.15M375.5 356.5h1.15M381.6 353.0h1.15M363.0 342.3h1.15M375.9 351.5h1.15M385.9 351.3h1.15M380.7 346.8h1.15M373.3 360.5h1.15M373.4 359.5h1.15M373.1 342.7h1.15M374.4 352.8h1.15M381.1 359.3h1.15M362.7 352.7h1.15M378.4 348.0h1.15M360.7 344.3h1.15M377.8 348.7h1.15M370.5 344.4h1.15M379.5 346.9h1.15M360.9 340.8h1.15M385.3 360.5h1.15M369.8 354.7h1.15M382.0 347.3h1.15M372.4 353.6h1.15M381.8 356.9h1.15M368.5 359.2h1.15M381.1 349.5h1.15M377.8 351.1h1.15M385.7 358.9h1.15M362.2 360.7h1.15M366.7 355.3h1.15M379.6 359.5h1.15M371.2 342.3h1.15M365.8 341.2h1.15M385.5 344.4h1.15M371.7 341.4h1.15M364.6 343.3h1.15M379.8 359.7h1.15M380.7 357.7h1.15M378.8 358.2h1.15M383.4 348.0h1.15M384.0 350.5h1.15M371.8 351.2h1.15M363.3 352.7h1.15M373.8 351.3h1.15M374.0 342.8h1.15M373.8 346.0h1.15M361.4 350.5h1.15M377.7 357.3h1.15M380.3 361.5h1.15M365.6 360.6h1.15M386.0 351.5h1.15M378.1 353.8h1.15M380.5 351.2h1.15M374.3 345.4h1.15M379.7 350.8h1.15M388.6 354.1h1.15M384.2 351.2h1.15M362.6 342.6h1.15M368.9 359.0h1.15M379.2 341.9h1.15M367.2 344.4h1.15M371.6 344.5h1.15M363.8 351.1h1.15M368.6 350.8h1.15M379.8 341.9h1.15M369.4 359.1h1.15M372.5 357.2h1.15M367.9 354.1h1.15M360.3 360.1h1.15M377.5 354.3h1.15M362.7 350.4h1.15M379.3 349.7h1.15M376.1 345.4h1.15M380.1 343.5h1.15M375.7 351.7h1.15M366.2 347.8h1.15M382.2 346.7h1.15M378.2 343.5h1.15M370.7 358.5h1.15M381.2 345.7h1.15M371.2 363.3h1.15M386.3 358.4h1.15M378.0 346.7h1.15M372.1 350.0h1.15M360.0 351.7h1.15M370.9 353.8h1.15M381.2 341.3h1.15M386.8 348.7h1.15M366.4 350.0h1.15M370.8 343.6h1.15M389.9 343.7h1.15M374.7 354.0h1.15M361.1 354.6h1.15M374.6 345.3h1.15M385.0 359.6h1.15M368.7 357.6h1.15M374.7 342.1h1.15M380.1 359.2h1.15M368.2 341.0h1.15M363.7 349.7h1.15M371.7 358.3h1.15M366.0 341.8h1.15M379.7 360.1h1.15M378.5 349.6h1.15M376.4 352.4h1.15M376.8 351.6h1.15M362.3 352.8h1.15M382.5 354.6h1.15M385.5 356.8h1.15M360.6 351.0h1.15M362.0 346.8h1.15M382.6 350.6h1.15M360.0 347.6h1.15M382.8 343.8h1.15M381.2 348.9h1.15M388.5 346.1h1.15M364.7 357.1h1.15M371.4 353.4h1.15M374.3 342.9h1.15M381.7 357.8h1.15M373.4 343.3h1.15M368.8 353.4h1.15M378.7 342.3h1.15M368.3 342.1h1.15M385.3 350.2h1.15M373.3 348.4h1.15M374.7 358.3h1.15M372.6 359.3h1.15M360.7 353.4h1.15M363.4 347.0h1.15M367.3 348.4h1.15M365.4 346.9h1.15M369.7 342.9h1.15M378.8 354.8h1.15M377.7 352.2h1.15M369.4 355.5h1.15M374.3 352.7h1.15M379.5 343.9h1.15M362.2 348.3h1.15M369.5 346.8h1.15M372.5 347.8h1.15M371.1 360.2h1.15M382.7 357.5h1.15M368.3 350.5h1.15M375.4 350.8h1.15M366.4 360.4h1.15M384.1 353.6h1.15M380.7 342.1h1.15M388.1 361.7h1.15M371.8 351.1h1.15M363.8 352.9h1.15M374.8 346.7h1.15M382.1 359.0h1.15M385.2 351.0h1.15M365.5 348.1h1.15M362.3 353.9h1.15M379.0 340.8h1.15M381.4 346.2h1.15M364.4 353.9h1.15M371.5 343.9h1.15M366.8 359.5h1.15M380.9 343.4h1.15M377.8 344.1h1.15M370.8 344.0h1.15M361.6 353.3h1.15M375.0 351.1h1.15M374.9 341.4h1.15M371.6 359.4h1.15M378.7 348.7h1.15M367.4 354.5h1.15M364.0 343.5h1.15M384.1 349.7h1.15M367.5 342.2h1.15M375.4 343.9h1.15M366.2 364.0h1.15M370.7 351.0h1.15M366.3 361.0h1.15M361.9 346.6h1.15M365.3 349.7h1.15M360.0 351.3h1.15M381.7 349.6h1.15M383.6 352.5h1.15M359.9 355.3h1.15M381.7 357.9h1.15M384.1 342.4h1.15M377.8 346.2h1.15M369.4 353.0h1.15M364.6 356.2h1.15M366.1 341.3h1.15M376.5 354.9h1.15M370.8 354.8h1.15M367.5 351.9h1.15M364.3 345.3h1.15M379.9 353.4h1.15M372.5 358.1h1.15M384.3 347.6h1.15M365.2 344.4h1.15M369.2 353.8h1.15M365.8 342.2h1.15M370.8 350.8h1.15M375.4 345.9h1.15M386.3 353.2h1.15M386.0 341.9h1.15M361.3 360.7h1.15M377.4 353.2h1.15M378.7 356.7h1.15M380.9 346.4h1.15M364.2 348.2h1.15M372.7 355.0h1.15M384.7 345.9h1.15M366.4 357.8h1.15M376.3 343.1h1.15M386.7 357.8h1.15M376.1 346.1h1.15M361.7 352.4h1.15M383.5 359.0h1.15M380.8 345.7h1.15M377.4 348.7h1.15M375.3 353.1h1.15M364.7 349.4h1.15M362.8 347.9h1.15M360.1 349.9h1.15M361.9 357.4h1.15M361.4 354.3h1.15M375.2 355.7h1.15M362.2 360.9h1.15M371.1 351.2h1.15M363.4 346.8h1.15M384.3 347.4h1.15M369.5 358.7h1.15M373.6 356.0h1.15M363.8 346.1h1.15M361.1 346.0h1.15M378.1 360.4h1.15M383.4 347.5h1.15M377.1 359.6h1.15M379.8 343.5h1.15M373.7 361.0h1.15M362.3 355.4h1.15M362.7 357.1h1.15M371.1 345.4h1.15M370.9 345.9h1.15M381.4 353.7h1.15M386.5 346.6h1.15M362.8 360.4h1.15M382.5 361.1h1.15M364.0 348.1h1.15M371.4 343.0h1.15M370.6 363.4h1.15M372.7 353.0h1.15M370.6 343.9h1.15M378.8 340.7h1.15M370.3 354.4h1.15M374.1 346.9h1.15M365.1 354.6h1.15M366.8 353.5h1.15M360.2 355.3h1.15M362.4 360.0h1.15M371.5 352.4h1.15M376.7 358.5h1.15M373.3 353.5h1.15M370.3 341.7h1.15M369.2 351.4h1.15M370.6 353.4h1.15M379.3 342.1h1.15M377.5 353.8h1.15M377.3 361.3h1.15M364.2 350.4h1.15M382.8 351.2h1.15M364.2 354.8h1.15M367.0 352.0h1.15M361.7 344.5h1.15M377.5 346.4h1.15M363.7 355.9h1.15M374.4 359.7h1.15M366.0 348.9h1.15M373.0 348.5h1.15M367.7 349.5h1.15M361.4 355.2h1.15M377.4 342.0h1.15M362.1 358.0h1.15M381.6 361.2h1.15M367.5 349.6h1.15M360.1 352.5h1.15M377.9 342.5h1.15M387.9 357.5h1.15M382.4 349.9h1.15M362.2 347.3h1.15M367.9 355.1h1.15M381.3 353.1h1.15M362.4 359.9h1.15M381.9 343.2h1.15M372.1 342.0h1.15M361.0 349.9h1.15M360.2 356.7h1.15M361.3 349.5h1.15M376.6 347.7h1.15M382.2 352.5h1.15M371.6 357.6h1.15M376.7 344.6h1.15M372.4 353.9h1.15M363.4 360.0h1.15M370.9 345.9h1.15M379.0 344.6h1.15M384.4 357.3h1.15M362.0 358.5h1.15M386.1 354.9h1.15M370.9 353.3h1.15M363.0 344.3h1.15M363.5 351.9h1.15M362.7 349.1h1.15M389.0 358.7h1.15M374.0 351.5h1.15M368.2 353.9h1.15M382.2 360.7h1.15M374.2 350.7h1.15M362.8 361.2h1.15M366.4 351.2h1.15M382.7 356.6h1.15M365.9 360.6h1.15M364.9 351.3h1.15M362.3 341.7h1.15M373.0 353.4h1.15M375.1 354.0h1.15M371.0 355.2h1.15M382.3 345.1h1.15M360.8 345.7h1.15M376.0 344.5h1.15M372.6 343.6h1.15M375.5 362.0h1.15M382.7 342.7h1.15M368.3 347.4h1.15M382.5 347.0h1.15M383.9 348.2h1.15M368.7 348.1h1.15M373.8 357.9h1.15M378.3 358.3h1.15M365.5 360.2h1.15M373.6 343.1h1.15M365.2 351.4h1.15M371.2 352.7h1.15M382.2 350.0h1.15M365.0 348.3h1.15M379.7 361.3h1.15M383.7 355.1h1.15M375.4 350.6h1.15M381.2 357.4h1.15M377.1 351.8h1.15M378.3 344.9h1.15M372.6 346.5h1.15M360.6 350.2h1.15M377.6 341.6h1.15M385.2 350.1h1.15M361.3 344.0h1.15M375.5 355.5h1.15M378.1 353.5h1.15M360.3 359.7h1.15M379.3 358.8h1.15M364.5 352.4h1.15M381.0 353.4h1.15M382.6 351.4h1.15M379.5 344.4h1.15M367.9 347.5h1.15M382.0 355.4h1.15M382.8 355.5h1.15M370.8 347.9h1.15M382.6 348.1h1.15M363.7 346.7h1.15M371.8 343.5h1.15M381.8 354.4h1.15M380.5 358.0h1.15M375.2 354.6h1.15M385.8 355.9h1.15M382.1 357.9h1.15M385.1 361.0h1.15M375.5 348.5h1.15M360.3 361.0h1.15M372.0 341.8h1.15M362.9 359.8h1.15M367.9 346.1h1.15M377.4 341.8h1.15M359.9 344.6h1.15M384.1 352.7h1.15M389.3 359.3h1.15M363.3 355.4h1.15M373.5 345.8h1.15M361.1 341.4h1.15M374.4 360.1h1.15M370.6 365.6h1.15M367.1 351.8h1.15M382.0 361.4h1.15M360.6 352.7h1.15M365.4 352.0h1.15M376.3 344.1h1.15M386.4 360.4h1.15M361.7 348.6h1.15M379.6 349.5h1.15M380.6 343.9h1.15M371.1 360.7h1.15M386.6 360.7h1.15M374.8 350.0h1.15M377.2 361.3h1.15M370.0 357.0h1.15M378.2 354.5h1.15M370.4 352.5h1.15M376.1 349.0h1.15M360.0 356.1h1.15M372.0 344.6h1.15M363.1 353.4h1.15M376.1 350.0h1.15M374.8 351.4h1.15M360.5 357.8h1.15M377.3 360.8h1.15M369.0 345.3h1.15M378.8 343.2h1.15M364.3 354.9h1.15M361.7 356.3h1.15M361.7 351.4h1.15M379.6 353.8h1.15M363.9 343.6h1.15M372.2 361.5h1.15M366.9 357.6h1.15M374.8 359.0h1.15M368.8 344.2h1.15M368.0 350.6h1.15M370.4 346.5h1.15M367.0 361.5h1.15M365.5 359.5h1.15M370.2 352.0h1.15M364.8 343.6h1.15M382.4 351.5h1.15M370.8 360.4h1.15M362.6 354.9h1.15M379.5 350.0h1.15M369.7 351.9h1.15M367.5 343.8h1.15M371.5 346.5h1.15M367.6 350.0h1.15M381.4 347.8h1.15M379.9 344.8h1.15M364.8 358.5h1.15M369.1 340.8h1.15M367.7 351.1h1.15M376.6 359.4h1.15M366.5 345.3h1.15M362.6 349.6h1.15M362.5 358.1h1.15M362.2 341.8h1.15M366.6 348.3h1.15M362.0 354.6h1.15M377.9 343.3h1.15M385.7 352.6h1.15M372.8 345.4h1.15M367.2 345.7h1.15M365.2 358.5h1.15M362.8 359.5h1.15M374.9 341.6h1.15M389.4 352.1h1.15M378.7 355.4h1.15M372.5 349.6h1.15M384.6 346.4h1.15M374.5 360.0h1.15M375.0 344.7h1.15M385.3 349.7h1.15M374.4 358.6h1.15" stroke="#0c0c0c" stroke-width="1.15" fill="none"/>
<text x="31.5" y="321" font-family="Liberation Sans, Arial, sans-serif" fill="#111" stroke="#111" stroke-width="0.2" font-size="9.2">15</text><text x="94.6" y="321" text-anchor="end" font-family="Liberation Sans, Arial, sans-serif" fill="#111" stroke="#111" stroke-width="0.2" font-size="9.2">0</text><text x="96" y="378.7" text-anchor="end" font-family="Liberation Sans, Arial, sans-serif" fill="#111" stroke="#111" stroke-width="0.2" font-size="9.2">13</text>
<text x="124.3" y="321" font-family="Liberation Sans, Arial, sans-serif" fill="#111" stroke="#111" stroke-width="0.2" font-size="9.2">24</text><text x="189.8" y="321" text-anchor="end" font-family="Liberation Sans, Arial, sans-serif" fill="#111" stroke="#111" stroke-width="0.2" font-size="9.2">52</text><text x="189.8" y="378.7" text-anchor="end" font-family="Liberation Sans, Arial, sans-serif" fill="#111" stroke="#111" stroke-width="0.2" font-size="9.2">10</text>
<text x="322.9" y="320.5" font-family="Liberation Sans, Arial, sans-serif" fill="#111" stroke="#111" stroke-width="0.2" font-size="9.2">0.1</text><text x="418.8" y="320.5" font-family="Liberation Sans, Arial, sans-serif" fill="#111" stroke="#111" stroke-width="0.2" font-size="9.2">1</text>
<text x="31.4" y="389.2" text-anchor="middle" font-family="Liberation Sans, Arial, sans-serif" fill="#222" font-size="4.7">10<tspan font-size="3.2" dy="-1.6">0</tspan></text><path d="M30.1 381.6v1.2" stroke="#555" stroke-width="0.5"/><text x="48.7" y="389.2" text-anchor="middle" font-family="Liberation Sans, Arial, sans-serif" fill="#222" font-size="4.7">10<tspan font-size="3.2" dy="-1.6">1</tspan></text><path d="M47.8 381.6v1.2" stroke="#555" stroke-width="0.5"/><text x="66.0" y="389.2" text-anchor="middle" font-family="Liberation Sans, Arial, sans-serif" fill="#222" font-size="4.7">10<tspan font-size="3.2" dy="-1.6">2</tspan></text><path d="M65.4 381.6v1.2" stroke="#555" stroke-width="0.5"/><text x="83.3" y="389.2" text-anchor="middle" font-family="Liberation Sans, Arial, sans-serif" fill="#222" font-size="4.7">10<tspan font-size="3.2" dy="-1.6">3</tspan></text><path d="M83.0 381.6v1.2" stroke="#555" stroke-width="0.5"/><text x="100.6" y="389.2" text-anchor="middle" font-family="Liberation Sans, Arial, sans-serif" fill="#222" font-size="4.7">10<tspan font-size="3.2" dy="-1.6">4</tspan></text><path d="M100.7 381.6v1.2" stroke="#555" stroke-width="0.5"/>
<text x="122.8" y="389.2" text-anchor="middle" font-family="Liberation Sans, Arial, sans-serif" fill="#222" font-size="4.7">10<tspan font-size="3.2" dy="-1.6">0</tspan></text><path d="M121.5 381.6v1.2" stroke="#555" stroke-width="0.5"/><text x="140.2" y="389.2" text-anchor="middle" font-family="Liberation Sans, Arial, sans-serif" fill="#222" font-size="4.7">10<tspan font-size="3.2" dy="-1.6">1</tspan></text><path d="M139.2 381.6v1.2" stroke="#555" stroke-width="0.5"/><text x="157.5" y="389.2" text-anchor="middle" font-family="Liberation Sans, Arial, sans-serif" fill="#222" font-size="4.7">10<tspan font-size="3.2" dy="-1.6">2</tspan></text><path d="M156.9 381.6v1.2" stroke="#555" stroke-width="0.5"/><text x="174.8" y="389.2" text-anchor="middle" font-family="Liberation Sans, Arial, sans-serif" fill="#222" font-size="4.7">10<tspan font-size="3.2" dy="-1.6">3</tspan></text><path d="M174.6 381.6v1.2" stroke="#555" stroke-width="0.5"/><text x="192.2" y="389.2" text-anchor="middle" font-family="Liberation Sans, Arial, sans-serif" fill="#222" font-size="4.7">10<tspan font-size="3.2" dy="-1.6">4</tspan></text><path d="M192.3 381.6v1.2" stroke="#555" stroke-width="0.5"/>
<text x="270.4" y="386.7" text-anchor="middle" font-family="Liberation Sans, Arial, sans-serif" fill="#222" font-size="4.7">10<tspan font-size="3.2" dy="-1.6">0</tspan></text><path d="M269.1 380.5v1.2" stroke="#555" stroke-width="0.5"/><text x="287.1" y="386.7" text-anchor="middle" font-family="Liberation Sans, Arial, sans-serif" fill="#222" font-size="4.7">10<tspan font-size="3.2" dy="-1.6">1</tspan></text><path d="M286.2 380.5v1.2" stroke="#555" stroke-width="0.5"/><text x="303.9" y="386.7" text-anchor="middle" font-family="Liberation Sans, Arial, sans-serif" fill="#222" font-size="4.7">10<tspan font-size="3.2" dy="-1.6">2</tspan></text><path d="M303.2 380.5v1.2" stroke="#555" stroke-width="0.5"/><text x="320.6" y="386.7" text-anchor="middle" font-family="Liberation Sans, Arial, sans-serif" fill="#222" font-size="4.7">10<tspan font-size="3.2" dy="-1.6">3</tspan></text><path d="M320.3 380.5v1.2" stroke="#555" stroke-width="0.5"/><text x="337.3" y="386.7" text-anchor="middle" font-family="Liberation Sans, Arial, sans-serif" fill="#222" font-size="4.7">10<tspan font-size="3.2" dy="-1.6">4</tspan></text><path d="M337.4 380.5v1.2" stroke="#555" stroke-width="0.5"/>
<text x="361.0" y="386.7" text-anchor="middle" font-family="Liberation Sans, Arial, sans-serif" fill="#222" font-size="4.7">10<tspan font-size="3.2" dy="-1.6">0</tspan></text><path d="M359.7 380.5v1.2" stroke="#555" stroke-width="0.5"/><text x="377.8" y="386.7" text-anchor="middle" font-family="Liberation Sans, Arial, sans-serif" fill="#222" font-size="4.7">10<tspan font-size="3.2" dy="-1.6">1</tspan></text><path d="M376.8 380.5v1.2" stroke="#555" stroke-width="0.5"/><text x="394.6" y="386.7" text-anchor="middle" font-family="Liberation Sans, Arial, sans-serif" fill="#222" font-size="4.7">10<tspan font-size="3.2" dy="-1.6">2</tspan></text><path d="M393.9 380.5v1.2" stroke="#555" stroke-width="0.5"/><text x="411.3" y="386.7" text-anchor="middle" font-family="Liberation Sans, Arial, sans-serif" fill="#222" font-size="4.7">10<tspan font-size="3.2" dy="-1.6">3</tspan></text><path d="M411.1 380.5v1.2" stroke="#555" stroke-width="0.5"/><text x="428.1" y="386.7" text-anchor="middle" font-family="Liberation Sans, Arial, sans-serif" fill="#222" font-size="4.7">10<tspan font-size="3.2" dy="-1.6">4</tspan></text><path d="M428.2 380.5v1.2" stroke="#555" stroke-width="0.5"/>
</svg></body></html>
